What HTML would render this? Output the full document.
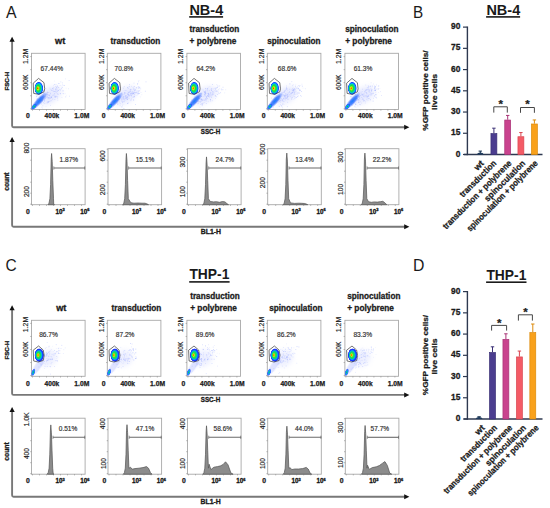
<!DOCTYPE html>
<html><head><meta charset="utf-8"><style>html,body{margin:0;padding:0;background:#fff;width:550px;height:508px;overflow:hidden}svg{display:block}</style></head>
<body><svg width="550" height="508" viewBox="0 0 550 508" font-family='"Liberation Sans", sans-serif'><defs><radialGradient id="blobA" cx="0.5" cy="0.5" r="0.5" fx="0.36" fy="0.5">
<stop offset="0" stop-color="#ff1800"/><stop offset="0.1" stop-color="#ff7000"/>
<stop offset="0.2" stop-color="#e0f000"/><stop offset="0.3" stop-color="#70f020"/>
<stop offset="0.42" stop-color="#18e040"/><stop offset="0.6" stop-color="#10d890"/>
<stop offset="0.72" stop-color="#00a8ff"/><stop offset="0.86" stop-color="#1848ff"/>
<stop offset="1" stop-color="#3050ff" stop-opacity="0"/></radialGradient><radialGradient id="blobC" cx="0.5" cy="0.5" r="0.5" fx="0.36" fy="0.5">
<stop offset="0" stop-color="#ff3000"/><stop offset="0.1" stop-color="#ff9000"/>
<stop offset="0.2" stop-color="#c0f010"/><stop offset="0.32" stop-color="#30e040"/>
<stop offset="0.5" stop-color="#10d870"/><stop offset="0.64" stop-color="#00a8f8"/>
<stop offset="0.8" stop-color="#1438ff"/><stop offset="0.92" stop-color="#1a30f0" stop-opacity="0.9"/>
<stop offset="1" stop-color="#3050ff" stop-opacity="0"/></radialGradient><radialGradient id="tail" cx="0.5" cy="0.5" r="0.5">
<stop offset="0" stop-color="#1a7cff"/><stop offset="0.5" stop-color="#2f6cff" stop-opacity="0.8"/>
<stop offset="1" stop-color="#5a84ff" stop-opacity="0"/></radialGradient><radialGradient id="corner" cx="0.5" cy="0.5" r="0.5">
<stop offset="0" stop-color="#20c040"/><stop offset="0.35" stop-color="#00b0e0"/>
<stop offset="0.7" stop-color="#2050ff" stop-opacity="0.8"/>
<stop offset="1" stop-color="#5a84ff" stop-opacity="0"/></radialGradient><filter id="bl2" x="-50%" y="-50%" width="200%" height="200%"><feGaussianBlur stdDeviation="2.5"/></filter><filter id="bl" x="-50%" y="-50%" width="200%" height="200%"><feGaussianBlur stdDeviation="0.6"/></filter></defs><rect width="550" height="508" fill="#fff"/><text x="6.0" y="17.7" font-size="16.6" font-weight="normal" fill="#1a1a1a" textLength="10.6" lengthAdjust="spacingAndGlyphs">A</text>
<text x="189.4" y="14.5" font-size="14.6" font-weight="bold" fill="#1a1a1a" textLength="33.8" lengthAdjust="spacingAndGlyphs">NB-4</text>
<rect x="189.2" y="16.1" width="33.9" height="1.6" fill="#1a1a1a" stroke="none" stroke-width="1"/>
<text x="55.0" y="43.8" font-size="8.8" font-weight="bold" fill="#1a1a1a" textLength="10.2" lengthAdjust="spacingAndGlyphs" stroke="#1a1a1a" stroke-width="0.3">wt</text>
<text x="110.6" y="43.8" font-size="8.8" font-weight="bold" fill="#1a1a1a" textLength="49.8" lengthAdjust="spacingAndGlyphs" stroke="#1a1a1a" stroke-width="0.3">transduction</text>
<text x="189.6" y="31.999999999999996" font-size="8.8" font-weight="bold" fill="#1a1a1a" textLength="49.6" lengthAdjust="spacingAndGlyphs" stroke="#1a1a1a" stroke-width="0.3">transduction</text>
<text x="189.6" y="43.8" font-size="8.8" font-weight="bold" fill="#1a1a1a" textLength="46.8" lengthAdjust="spacingAndGlyphs" stroke="#1a1a1a" stroke-width="0.3">+ polybrene</text>
<text x="267.3" y="43.8" font-size="8.8" font-weight="bold" fill="#1a1a1a" textLength="53.2" lengthAdjust="spacingAndGlyphs" stroke="#1a1a1a" stroke-width="0.3">spinoculation</text>
<text x="345.2" y="31.999999999999996" font-size="8.8" font-weight="bold" fill="#1a1a1a" textLength="53.2" lengthAdjust="spacingAndGlyphs" stroke="#1a1a1a" stroke-width="0.3">spinoculation</text>
<text x="345.2" y="43.8" font-size="8.8" font-weight="bold" fill="#1a1a1a" textLength="46.8" lengthAdjust="spacingAndGlyphs" stroke="#1a1a1a" stroke-width="0.3">+ polybrene</text>
<path d="M12.1,41.1 L12.1,125.7 Q12.1,127.2 13.6,127.2 L405.1,127.2" fill="none" stroke="#787878" stroke-width="1.9"/>
<polygon points="12.1,36.800000000000004 9.5,41.800000000000004 14.7,41.800000000000004" fill="#111"/>
<polygon points="409.40000000000003,127.2 404.20000000000005,124.7 404.20000000000005,129.7" fill="#111"/>
<rect x="31.5" y="53.3" width="53.6" height="56.2" fill="#fff" stroke="#a8a8a8" stroke-width="0.9"/>
<line x1="30.2" y1="108.8" x2="31.5" y2="108.8" stroke="#888" stroke-width="0.6"/>
<line x1="30.2" y1="95.75" x2="31.5" y2="95.75" stroke="#888" stroke-width="0.6"/>
<line x1="30.2" y1="82.7" x2="31.5" y2="82.7" stroke="#888" stroke-width="0.6"/>
<line x1="30.2" y1="69.64999999999999" x2="31.5" y2="69.64999999999999" stroke="#888" stroke-width="0.6"/>
<line x1="30.2" y1="56.599999999999994" x2="31.5" y2="56.599999999999994" stroke="#888" stroke-width="0.6"/>
<line x1="32.5" y1="109.5" x2="32.5" y2="110.7" stroke="#888" stroke-width="0.6"/>
<line x1="39.5" y1="109.5" x2="39.5" y2="110.7" stroke="#888" stroke-width="0.6"/>
<line x1="46.5" y1="109.5" x2="46.5" y2="110.7" stroke="#888" stroke-width="0.6"/>
<line x1="53.5" y1="109.5" x2="53.5" y2="110.7" stroke="#888" stroke-width="0.6"/>
<line x1="60.5" y1="109.5" x2="60.5" y2="110.7" stroke="#888" stroke-width="0.6"/>
<line x1="67.5" y1="109.5" x2="67.5" y2="110.7" stroke="#888" stroke-width="0.6"/>
<line x1="74.5" y1="109.5" x2="74.5" y2="110.7" stroke="#888" stroke-width="0.6"/>
<line x1="81.5" y1="109.5" x2="81.5" y2="110.7" stroke="#888" stroke-width="0.6"/>
<ellipse cx="49.5" cy="95.5" rx="13" ry="7.5" fill="#c4ccff" opacity="0.4" filter="url(#bl2)" transform="rotate(-30 49.5 95.5)"/>
<g><rect x="59.5" y="88.9" width="0.8" height="0.8" fill="#7a90ff" opacity="0.48"/><rect x="47.0" y="92.4" width="0.8" height="0.8" fill="#6a80ff" opacity="0.20"/><rect x="51.3" y="96.6" width="0.8" height="0.8" fill="#6a80ff" opacity="0.42"/><rect x="56.9" y="86.5" width="0.8" height="0.8" fill="#90a4ff" opacity="0.50"/><rect x="61.3" y="88.7" width="0.8" height="0.8" fill="#a8b4ff" opacity="0.22"/><rect x="48.9" y="97.3" width="0.8" height="0.8" fill="#a8b4ff" opacity="0.35"/><rect x="55.6" y="87.9" width="0.8" height="0.8" fill="#7a90ff" opacity="0.50"/><rect x="47.9" y="97.4" width="0.8" height="0.8" fill="#6a80ff" opacity="0.39"/><rect x="47.8" y="97.4" width="0.8" height="0.8" fill="#7a90ff" opacity="0.31"/><rect x="48.5" y="94.4" width="0.8" height="0.8" fill="#90a4ff" opacity="0.35"/><rect x="61.5" y="97.1" width="0.8" height="0.8" fill="#a8b4ff" opacity="0.31"/><rect x="62.7" y="90.5" width="0.8" height="0.8" fill="#6a80ff" opacity="0.36"/><rect x="55.5" y="92.5" width="0.8" height="0.8" fill="#a8b4ff" opacity="0.16"/><rect x="52.3" y="98.7" width="0.8" height="0.8" fill="#6a80ff" opacity="0.28"/><rect x="52.4" y="87.9" width="0.8" height="0.8" fill="#6a80ff" opacity="0.47"/><rect x="60.0" y="93.4" width="0.8" height="0.8" fill="#a8b4ff" opacity="0.50"/><rect x="45.5" y="88.2" width="0.8" height="0.8" fill="#7a90ff" opacity="0.17"/><rect x="49.7" y="91.9" width="0.8" height="0.8" fill="#a8b4ff" opacity="0.27"/><rect x="55.3" y="89.6" width="0.8" height="0.8" fill="#90a4ff" opacity="0.25"/><rect x="47.8" y="98.5" width="0.8" height="0.8" fill="#90a4ff" opacity="0.33"/><rect x="45.8" y="95.7" width="0.8" height="0.8" fill="#90a4ff" opacity="0.30"/><rect x="57.4" y="99.7" width="0.8" height="0.8" fill="#a8b4ff" opacity="0.36"/><rect x="43.1" y="97.6" width="0.8" height="0.8" fill="#6a80ff" opacity="0.15"/><rect x="51.2" y="97.1" width="0.8" height="0.8" fill="#90a4ff" opacity="0.43"/><rect x="50.7" y="100.3" width="0.8" height="0.8" fill="#7a90ff" opacity="0.36"/><rect x="62.7" y="93.2" width="0.8" height="0.8" fill="#90a4ff" opacity="0.38"/><rect x="50.1" y="93.2" width="0.8" height="0.8" fill="#6a80ff" opacity="0.32"/><rect x="47.5" y="97.3" width="0.8" height="0.8" fill="#90a4ff" opacity="0.18"/><rect x="49.5" y="87.7" width="0.8" height="0.8" fill="#a8b4ff" opacity="0.38"/><rect x="49.8" y="89.2" width="0.8" height="0.8" fill="#a8b4ff" opacity="0.15"/><rect x="45.6" y="106.2" width="0.8" height="0.8" fill="#a8b4ff" opacity="0.21"/><rect x="57.1" y="93.0" width="0.8" height="0.8" fill="#6a80ff" opacity="0.18"/><rect x="64.9" y="93.4" width="0.8" height="0.8" fill="#a8b4ff" opacity="0.24"/><rect x="47.5" y="101.7" width="0.8" height="0.8" fill="#a8b4ff" opacity="0.45"/><rect x="47.7" y="95.1" width="0.8" height="0.8" fill="#90a4ff" opacity="0.25"/><rect x="61.1" y="87.8" width="0.8" height="0.8" fill="#90a4ff" opacity="0.47"/><rect x="50.6" y="88.6" width="0.8" height="0.8" fill="#6a80ff" opacity="0.17"/><rect x="45.7" y="93.5" width="0.8" height="0.8" fill="#7a90ff" opacity="0.18"/><rect x="68.7" y="80.1" width="0.8" height="0.8" fill="#7a90ff" opacity="0.36"/><rect x="54.0" y="80.6" width="0.8" height="0.8" fill="#90a4ff" opacity="0.15"/><rect x="46.4" y="93.8" width="0.8" height="0.8" fill="#a8b4ff" opacity="0.33"/><rect x="50.3" y="96.7" width="0.8" height="0.8" fill="#7a90ff" opacity="0.36"/><rect x="54.6" y="95.3" width="0.8" height="0.8" fill="#6a80ff" opacity="0.15"/><rect x="57.2" y="85.5" width="0.8" height="0.8" fill="#7a90ff" opacity="0.37"/><rect x="56.1" y="95.9" width="0.8" height="0.8" fill="#90a4ff" opacity="0.40"/><rect x="43.6" y="96.6" width="0.8" height="0.8" fill="#90a4ff" opacity="0.16"/><rect x="47.9" y="101.2" width="0.8" height="0.8" fill="#a8b4ff" opacity="0.20"/><rect x="46.8" y="96.6" width="0.8" height="0.8" fill="#6a80ff" opacity="0.27"/><rect x="48.3" y="92.1" width="0.8" height="0.8" fill="#6a80ff" opacity="0.26"/><rect x="43.2" y="102.2" width="0.8" height="0.8" fill="#6a80ff" opacity="0.23"/><rect x="60.2" y="89.8" width="0.8" height="0.8" fill="#6a80ff" opacity="0.24"/><rect x="59.0" y="83.2" width="0.8" height="0.8" fill="#a8b4ff" opacity="0.35"/><rect x="46.9" y="101.7" width="0.8" height="0.8" fill="#6a80ff" opacity="0.26"/><rect x="37.1" y="98.6" width="0.8" height="0.8" fill="#6a80ff" opacity="0.44"/><rect x="65.3" y="96.5" width="0.8" height="0.8" fill="#7a90ff" opacity="0.38"/><rect x="60.4" y="81.5" width="0.8" height="0.8" fill="#90a4ff" opacity="0.39"/><rect x="38.6" y="96.5" width="0.8" height="0.8" fill="#90a4ff" opacity="0.18"/><rect x="40.8" y="103.5" width="0.8" height="0.8" fill="#7a90ff" opacity="0.43"/><rect x="41.9" y="100.3" width="0.8" height="0.8" fill="#6a80ff" opacity="0.49"/><rect x="54.6" y="96.1" width="0.8" height="0.8" fill="#a8b4ff" opacity="0.27"/><rect x="46.8" y="96.2" width="0.8" height="0.8" fill="#a8b4ff" opacity="0.37"/><rect x="45.3" y="95.5" width="0.8" height="0.8" fill="#6a80ff" opacity="0.31"/><rect x="42.9" y="90.1" width="0.8" height="0.8" fill="#7a90ff" opacity="0.40"/><rect x="51.3" y="95.8" width="0.8" height="0.8" fill="#a8b4ff" opacity="0.16"/><rect x="45.6" y="94.7" width="0.8" height="0.8" fill="#90a4ff" opacity="0.20"/><rect x="43.8" y="89.8" width="0.8" height="0.8" fill="#7a90ff" opacity="0.18"/><rect x="57.0" y="93.9" width="0.8" height="0.8" fill="#6a80ff" opacity="0.18"/><rect x="46.5" y="96.1" width="0.8" height="0.8" fill="#90a4ff" opacity="0.24"/><rect x="59.7" y="85.1" width="0.8" height="0.8" fill="#a8b4ff" opacity="0.40"/><rect x="53.4" y="86.9" width="0.8" height="0.8" fill="#7a90ff" opacity="0.31"/><rect x="49.2" y="95.5" width="0.8" height="0.8" fill="#a8b4ff" opacity="0.46"/><rect x="53.4" y="94.7" width="0.8" height="0.8" fill="#7a90ff" opacity="0.38"/><rect x="40.5" y="91.1" width="0.8" height="0.8" fill="#6a80ff" opacity="0.20"/><rect x="45.4" y="94.0" width="0.8" height="0.8" fill="#6a80ff" opacity="0.20"/><rect x="58.6" y="93.3" width="0.8" height="0.8" fill="#a8b4ff" opacity="0.22"/><rect x="54.7" y="96.4" width="0.8" height="0.8" fill="#6a80ff" opacity="0.46"/><rect x="58.1" y="83.0" width="0.8" height="0.8" fill="#7a90ff" opacity="0.38"/><rect x="55.1" y="88.9" width="0.8" height="0.8" fill="#a8b4ff" opacity="0.28"/><rect x="55.6" y="84.3" width="0.8" height="0.8" fill="#90a4ff" opacity="0.37"/><rect x="48.0" y="101.7" width="0.8" height="0.8" fill="#6a80ff" opacity="0.49"/><rect x="53.1" y="84.9" width="0.8" height="0.8" fill="#7a90ff" opacity="0.16"/><rect x="41.3" y="96.8" width="0.8" height="0.8" fill="#90a4ff" opacity="0.47"/><rect x="42.4" y="105.4" width="0.8" height="0.8" fill="#a8b4ff" opacity="0.47"/><rect x="55.0" y="89.1" width="0.8" height="0.8" fill="#7a90ff" opacity="0.19"/><rect x="55.7" y="90.8" width="0.8" height="0.8" fill="#90a4ff" opacity="0.41"/><rect x="50.2" y="104.9" width="0.8" height="0.8" fill="#6a80ff" opacity="0.23"/><rect x="57.9" y="89.9" width="0.8" height="0.8" fill="#6a80ff" opacity="0.42"/><rect x="46.8" y="92.4" width="0.8" height="0.8" fill="#6a80ff" opacity="0.26"/><rect x="62.0" y="84.4" width="0.8" height="0.8" fill="#90a4ff" opacity="0.28"/><rect x="47.3" y="101.5" width="0.8" height="0.8" fill="#a8b4ff" opacity="0.18"/><rect x="55.0" y="91.3" width="0.8" height="0.8" fill="#90a4ff" opacity="0.27"/><rect x="45.9" y="97.3" width="0.8" height="0.8" fill="#7a90ff" opacity="0.39"/><rect x="47.0" y="94.2" width="0.8" height="0.8" fill="#6a80ff" opacity="0.40"/><rect x="56.1" y="87.2" width="0.8" height="0.8" fill="#6a80ff" opacity="0.36"/><rect x="44.2" y="96.1" width="0.8" height="0.8" fill="#7a90ff" opacity="0.35"/><rect x="49.2" y="97.5" width="0.8" height="0.8" fill="#7a90ff" opacity="0.35"/><rect x="44.0" y="100.5" width="0.8" height="0.8" fill="#6a80ff" opacity="0.50"/><rect x="39.8" y="102.0" width="0.8" height="0.8" fill="#7a90ff" opacity="0.26"/><rect x="36.5" y="98.4" width="0.8" height="0.8" fill="#7a90ff" opacity="0.32"/><rect x="57.9" y="90.1" width="0.8" height="0.8" fill="#90a4ff" opacity="0.22"/><rect x="55.5" y="86.2" width="0.8" height="0.8" fill="#7a90ff" opacity="0.41"/><rect x="56.1" y="92.4" width="0.8" height="0.8" fill="#a8b4ff" opacity="0.39"/><rect x="69.2" y="95.8" width="0.8" height="0.8" fill="#90a4ff" opacity="0.37"/><rect x="43.7" y="93.5" width="0.8" height="0.8" fill="#a8b4ff" opacity="0.28"/><rect x="58.3" y="86.9" width="0.8" height="0.8" fill="#6a80ff" opacity="0.31"/><rect x="66.2" y="95.4" width="0.8" height="0.8" fill="#a8b4ff" opacity="0.19"/><rect x="48.0" y="94.6" width="0.8" height="0.8" fill="#6a80ff" opacity="0.16"/><rect x="46.5" y="93.7" width="0.8" height="0.8" fill="#90a4ff" opacity="0.38"/><rect x="44.7" y="96.7" width="0.8" height="0.8" fill="#6a80ff" opacity="0.50"/><rect x="60.2" y="93.2" width="0.8" height="0.8" fill="#a8b4ff" opacity="0.48"/><rect x="50.8" y="89.6" width="0.8" height="0.8" fill="#7a90ff" opacity="0.29"/><rect x="57.4" y="88.1" width="0.8" height="0.8" fill="#90a4ff" opacity="0.17"/><rect x="57.3" y="96.5" width="0.8" height="0.8" fill="#90a4ff" opacity="0.48"/><rect x="62.5" y="90.4" width="0.8" height="0.8" fill="#a8b4ff" opacity="0.31"/><rect x="52.9" y="89.7" width="0.8" height="0.8" fill="#a8b4ff" opacity="0.16"/><rect x="65.8" y="87.8" width="0.8" height="0.8" fill="#a8b4ff" opacity="0.23"/><rect x="54.4" y="99.2" width="0.8" height="0.8" fill="#a8b4ff" opacity="0.37"/><rect x="61.9" y="82.5" width="0.8" height="0.8" fill="#6a80ff" opacity="0.31"/><rect x="49.6" y="94.5" width="0.8" height="0.8" fill="#90a4ff" opacity="0.48"/><rect x="44.4" y="98.8" width="0.8" height="0.8" fill="#90a4ff" opacity="0.40"/><rect x="54.0" y="93.4" width="0.8" height="0.8" fill="#7a90ff" opacity="0.41"/><rect x="55.4" y="96.6" width="0.8" height="0.8" fill="#6a80ff" opacity="0.50"/><rect x="43.3" y="92.9" width="0.8" height="0.8" fill="#90a4ff" opacity="0.48"/><rect x="41.4" y="101.6" width="0.8" height="0.8" fill="#7a90ff" opacity="0.31"/><rect x="53.1" y="91.0" width="0.8" height="0.8" fill="#a8b4ff" opacity="0.46"/><rect x="36.2" y="96.3" width="0.8" height="0.8" fill="#7a90ff" opacity="0.44"/><rect x="49.1" y="95.0" width="0.8" height="0.8" fill="#90a4ff" opacity="0.49"/><rect x="41.4" y="106.7" width="0.8" height="0.8" fill="#a8b4ff" opacity="0.38"/><rect x="36.6" y="95.3" width="0.8" height="0.8" fill="#6a80ff" opacity="0.31"/><rect x="46.8" y="95.0" width="0.8" height="0.8" fill="#a8b4ff" opacity="0.49"/><rect x="62.0" y="87.1" width="0.8" height="0.8" fill="#90a4ff" opacity="0.37"/><rect x="46.7" y="102.6" width="0.8" height="0.8" fill="#7a90ff" opacity="0.34"/><rect x="52.5" y="90.5" width="0.8" height="0.8" fill="#a8b4ff" opacity="0.41"/><rect x="58.3" y="87.2" width="0.8" height="0.8" fill="#7a90ff" opacity="0.17"/><rect x="44.9" y="98.1" width="0.8" height="0.8" fill="#7a90ff" opacity="0.49"/><rect x="48.5" y="101.1" width="0.8" height="0.8" fill="#7a90ff" opacity="0.33"/><rect x="54.5" y="91.1" width="0.8" height="0.8" fill="#a8b4ff" opacity="0.30"/><rect x="50.3" y="97.8" width="0.8" height="0.8" fill="#7a90ff" opacity="0.44"/><rect x="44.2" y="98.8" width="0.8" height="0.8" fill="#90a4ff" opacity="0.44"/><rect x="44.9" y="96.5" width="0.8" height="0.8" fill="#6a80ff" opacity="0.39"/><rect x="45.4" y="94.6" width="0.8" height="0.8" fill="#7a90ff" opacity="0.21"/><rect x="68.0" y="88.4" width="0.8" height="0.8" fill="#90a4ff" opacity="0.30"/><rect x="39.3" y="99.4" width="0.8" height="0.8" fill="#7a90ff" opacity="0.49"/><rect x="56.1" y="89.3" width="0.8" height="0.8" fill="#a8b4ff" opacity="0.43"/><rect x="63.4" y="84.8" width="0.8" height="0.8" fill="#a8b4ff" opacity="0.25"/><rect x="53.1" y="88.6" width="0.8" height="0.8" fill="#7a90ff" opacity="0.21"/><rect x="42.1" y="100.4" width="0.8" height="0.8" fill="#6a80ff" opacity="0.20"/><rect x="56.9" y="89.6" width="0.8" height="0.8" fill="#6a80ff" opacity="0.18"/><rect x="43.2" y="95.1" width="0.8" height="0.8" fill="#90a4ff" opacity="0.39"/><rect x="37.3" y="99.6" width="0.8" height="0.8" fill="#7a90ff" opacity="0.45"/><rect x="44.4" y="102.9" width="0.8" height="0.8" fill="#90a4ff" opacity="0.34"/><rect x="57.2" y="97.8" width="0.8" height="0.8" fill="#a8b4ff" opacity="0.35"/><rect x="42.5" y="95.8" width="0.8" height="0.8" fill="#7a90ff" opacity="0.15"/><rect x="45.4" y="94.4" width="0.8" height="0.8" fill="#90a4ff" opacity="0.43"/><rect x="63.8" y="85.0" width="0.8" height="0.8" fill="#7a90ff" opacity="0.49"/><rect x="36.2" y="99.6" width="0.8" height="0.8" fill="#6a80ff" opacity="0.31"/><rect x="65.2" y="78.5" width="0.8" height="0.8" fill="#a8b4ff" opacity="0.33"/><rect x="51.5" y="90.2" width="0.8" height="0.8" fill="#6a80ff" opacity="0.33"/><rect x="61.6" y="85.6" width="0.8" height="0.8" fill="#a8b4ff" opacity="0.39"/><rect x="54.3" y="96.7" width="0.8" height="0.8" fill="#7a90ff" opacity="0.20"/><rect x="54.0" y="84.1" width="0.8" height="0.8" fill="#90a4ff" opacity="0.44"/><rect x="39.7" y="96.2" width="0.8" height="0.8" fill="#6a80ff" opacity="0.28"/><rect x="40.1" y="97.6" width="0.8" height="0.8" fill="#7a90ff" opacity="0.39"/><rect x="44.4" y="92.7" width="0.8" height="0.8" fill="#90a4ff" opacity="0.43"/><rect x="43.4" y="96.7" width="0.8" height="0.8" fill="#a8b4ff" opacity="0.42"/><rect x="41.7" y="98.2" width="0.8" height="0.8" fill="#7a90ff" opacity="0.20"/><rect x="47.0" y="91.4" width="0.8" height="0.8" fill="#7a90ff" opacity="0.18"/><rect x="57.0" y="90.9" width="0.8" height="0.8" fill="#90a4ff" opacity="0.43"/><rect x="48.1" y="97.5" width="0.8" height="0.8" fill="#a8b4ff" opacity="0.33"/><rect x="49.5" y="100.9" width="0.8" height="0.8" fill="#90a4ff" opacity="0.40"/><rect x="44.0" y="97.5" width="0.8" height="0.8" fill="#90a4ff" opacity="0.22"/><rect x="47.5" y="97.5" width="0.8" height="0.8" fill="#a8b4ff" opacity="0.30"/><rect x="49.1" y="98.4" width="0.8" height="0.8" fill="#6a80ff" opacity="0.21"/><rect x="52.3" y="94.9" width="0.8" height="0.8" fill="#a8b4ff" opacity="0.46"/><rect x="58.2" y="94.1" width="0.8" height="0.8" fill="#7a90ff" opacity="0.20"/><rect x="50.9" y="96.8" width="0.8" height="0.8" fill="#7a90ff" opacity="0.32"/><rect x="43.5" y="103.1" width="0.8" height="0.8" fill="#a8b4ff" opacity="0.21"/><rect x="52.2" y="88.4" width="0.8" height="0.8" fill="#a8b4ff" opacity="0.43"/><rect x="42.5" y="94.1" width="0.8" height="0.8" fill="#a8b4ff" opacity="0.47"/><rect x="43.8" y="92.2" width="0.8" height="0.8" fill="#7a90ff" opacity="0.22"/><rect x="63.4" y="93.4" width="0.8" height="0.8" fill="#a8b4ff" opacity="0.45"/><rect x="47.3" y="92.5" width="0.8" height="0.8" fill="#7a90ff" opacity="0.34"/><rect x="54.1" y="91.1" width="0.8" height="0.8" fill="#90a4ff" opacity="0.44"/><rect x="42.0" y="107.7" width="0.8" height="0.8" fill="#a8b4ff" opacity="0.33"/></g>
<ellipse cx="39.1" cy="101.1" rx="12" ry="3.4" fill="url(#tail)" transform="rotate(-48 39.1 101.1)"/>
<ellipse cx="34.1" cy="106.5" rx="4" ry="2.2" fill="url(#corner)" transform="rotate(-50 34.1 106.5)"/>
<ellipse cx="38.9" cy="88.3" rx="4.6" ry="6.8" fill="url(#blobA)"/>
<polygon points="38.6,78.4 44.0,82.7 44.7,88.8 44.0,91.8 38.8,94.3 33.7,93.4 33.2,83.2" fill="none" stroke="#3a3a3a" stroke-width="0.7"/>
<text x="40.6" y="70.9" font-size="7.6" font-weight="normal" fill="#2e2e2e" textLength="22.6" lengthAdjust="spacingAndGlyphs" stroke="#2e2e2e" stroke-width="0.18">67.44%</text>
<text x="26.0" y="118.3" font-size="6.8" font-weight="bold" fill="#1a1a1a" stroke="#1a1a1a" stroke-width="0.25">0</text>
<text x="44.6" y="118.3" font-size="6.8" font-weight="bold" fill="#1a1a1a" textLength="14.6" lengthAdjust="spacingAndGlyphs" stroke="#1a1a1a" stroke-width="0.25">400k</text>
<text x="74.3" y="118.3" font-size="6.8" font-weight="bold" fill="#1a1a1a" textLength="15.0" lengthAdjust="spacingAndGlyphs" stroke="#1a1a1a" stroke-width="0.25">1.0M</text>
<text x="27.9" y="56.3" font-size="7.0" font-weight="normal" fill="#1a1a1a" text-anchor="middle" textLength="15.4" lengthAdjust="spacingAndGlyphs" transform="rotate(-90 27.9 56.3)" stroke="#1a1a1a" stroke-width="0.12">1.2M</text>
<text x="27.9" y="82.4" font-size="7.0" font-weight="normal" fill="#1a1a1a" text-anchor="middle" textLength="15.4" lengthAdjust="spacingAndGlyphs" transform="rotate(-90 27.9 82.4)" stroke="#1a1a1a" stroke-width="0.12">600K</text>
<rect x="107.3" y="53.3" width="53.6" height="56.2" fill="#fff" stroke="#a8a8a8" stroke-width="0.9"/>
<line x1="106.0" y1="108.8" x2="107.3" y2="108.8" stroke="#888" stroke-width="0.6"/>
<line x1="106.0" y1="95.75" x2="107.3" y2="95.75" stroke="#888" stroke-width="0.6"/>
<line x1="106.0" y1="82.7" x2="107.3" y2="82.7" stroke="#888" stroke-width="0.6"/>
<line x1="106.0" y1="69.64999999999999" x2="107.3" y2="69.64999999999999" stroke="#888" stroke-width="0.6"/>
<line x1="106.0" y1="56.599999999999994" x2="107.3" y2="56.599999999999994" stroke="#888" stroke-width="0.6"/>
<line x1="108.3" y1="109.5" x2="108.3" y2="110.7" stroke="#888" stroke-width="0.6"/>
<line x1="115.3" y1="109.5" x2="115.3" y2="110.7" stroke="#888" stroke-width="0.6"/>
<line x1="122.3" y1="109.5" x2="122.3" y2="110.7" stroke="#888" stroke-width="0.6"/>
<line x1="129.3" y1="109.5" x2="129.3" y2="110.7" stroke="#888" stroke-width="0.6"/>
<line x1="136.3" y1="109.5" x2="136.3" y2="110.7" stroke="#888" stroke-width="0.6"/>
<line x1="143.3" y1="109.5" x2="143.3" y2="110.7" stroke="#888" stroke-width="0.6"/>
<line x1="150.3" y1="109.5" x2="150.3" y2="110.7" stroke="#888" stroke-width="0.6"/>
<line x1="157.3" y1="109.5" x2="157.3" y2="110.7" stroke="#888" stroke-width="0.6"/>
<ellipse cx="125.3" cy="95.5" rx="13" ry="7.5" fill="#c4ccff" opacity="0.4" filter="url(#bl2)" transform="rotate(-30 125.3 95.5)"/>
<g><rect x="122.0" y="100.9" width="0.8" height="0.8" fill="#a8b4ff" opacity="0.35"/><rect x="137.7" y="86.6" width="0.8" height="0.8" fill="#a8b4ff" opacity="0.43"/><rect x="117.5" y="96.3" width="0.8" height="0.8" fill="#90a4ff" opacity="0.19"/><rect x="124.3" y="92.7" width="0.8" height="0.8" fill="#a8b4ff" opacity="0.43"/><rect x="139.3" y="90.4" width="0.8" height="0.8" fill="#7a90ff" opacity="0.43"/><rect x="132.2" y="94.0" width="0.8" height="0.8" fill="#7a90ff" opacity="0.20"/><rect x="125.4" y="92.8" width="0.8" height="0.8" fill="#7a90ff" opacity="0.27"/><rect x="133.2" y="92.7" width="0.8" height="0.8" fill="#6a80ff" opacity="0.41"/><rect x="133.0" y="91.7" width="0.8" height="0.8" fill="#a8b4ff" opacity="0.36"/><rect x="133.0" y="99.4" width="0.8" height="0.8" fill="#7a90ff" opacity="0.18"/><rect x="123.9" y="92.9" width="0.8" height="0.8" fill="#a8b4ff" opacity="0.48"/><rect x="139.8" y="96.5" width="0.8" height="0.8" fill="#90a4ff" opacity="0.22"/><rect x="132.7" y="93.4" width="0.8" height="0.8" fill="#6a80ff" opacity="0.32"/><rect x="125.5" y="90.0" width="0.8" height="0.8" fill="#90a4ff" opacity="0.42"/><rect x="122.0" y="97.4" width="0.8" height="0.8" fill="#a8b4ff" opacity="0.23"/><rect x="124.8" y="97.7" width="0.8" height="0.8" fill="#6a80ff" opacity="0.31"/><rect x="135.2" y="104.0" width="0.8" height="0.8" fill="#90a4ff" opacity="0.47"/><rect x="133.7" y="96.3" width="0.8" height="0.8" fill="#6a80ff" opacity="0.50"/><rect x="122.4" y="96.4" width="0.8" height="0.8" fill="#7a90ff" opacity="0.26"/><rect x="137.7" y="93.1" width="0.8" height="0.8" fill="#7a90ff" opacity="0.44"/><rect x="126.8" y="96.9" width="0.8" height="0.8" fill="#6a80ff" opacity="0.36"/><rect x="123.3" y="96.3" width="0.8" height="0.8" fill="#90a4ff" opacity="0.34"/><rect x="128.6" y="95.7" width="0.8" height="0.8" fill="#6a80ff" opacity="0.24"/><rect x="138.5" y="80.1" width="0.8" height="0.8" fill="#90a4ff" opacity="0.25"/><rect x="121.6" y="98.5" width="0.8" height="0.8" fill="#90a4ff" opacity="0.25"/><rect x="123.3" y="96.1" width="0.8" height="0.8" fill="#90a4ff" opacity="0.25"/><rect x="114.3" y="101.1" width="0.8" height="0.8" fill="#7a90ff" opacity="0.16"/><rect x="128.2" y="94.4" width="0.8" height="0.8" fill="#a8b4ff" opacity="0.37"/><rect x="128.8" y="86.3" width="0.8" height="0.8" fill="#7a90ff" opacity="0.47"/><rect x="133.8" y="92.5" width="0.8" height="0.8" fill="#6a80ff" opacity="0.49"/><rect x="116.8" y="102.3" width="0.8" height="0.8" fill="#90a4ff" opacity="0.35"/><rect x="122.0" y="94.7" width="0.8" height="0.8" fill="#7a90ff" opacity="0.22"/><rect x="120.2" y="96.6" width="0.8" height="0.8" fill="#6a80ff" opacity="0.38"/><rect x="136.0" y="87.2" width="0.8" height="0.8" fill="#6a80ff" opacity="0.28"/><rect x="118.8" y="101.6" width="0.8" height="0.8" fill="#6a80ff" opacity="0.27"/><rect x="122.2" y="101.7" width="0.8" height="0.8" fill="#a8b4ff" opacity="0.38"/><rect x="123.3" y="101.2" width="0.8" height="0.8" fill="#a8b4ff" opacity="0.19"/><rect x="127.1" y="98.2" width="0.8" height="0.8" fill="#7a90ff" opacity="0.28"/><rect x="119.1" y="99.3" width="0.8" height="0.8" fill="#7a90ff" opacity="0.23"/><rect x="129.2" y="84.3" width="0.8" height="0.8" fill="#6a80ff" opacity="0.33"/><rect x="130.7" y="95.0" width="0.8" height="0.8" fill="#6a80ff" opacity="0.49"/><rect x="119.4" y="99.3" width="0.8" height="0.8" fill="#90a4ff" opacity="0.17"/><rect x="136.6" y="92.0" width="0.8" height="0.8" fill="#90a4ff" opacity="0.41"/><rect x="135.8" y="87.6" width="0.8" height="0.8" fill="#7a90ff" opacity="0.36"/><rect x="122.8" y="94.4" width="0.8" height="0.8" fill="#a8b4ff" opacity="0.49"/><rect x="132.7" y="87.0" width="0.8" height="0.8" fill="#90a4ff" opacity="0.31"/><rect x="118.0" y="93.4" width="0.8" height="0.8" fill="#7a90ff" opacity="0.20"/><rect x="126.0" y="97.0" width="0.8" height="0.8" fill="#7a90ff" opacity="0.28"/><rect x="122.5" y="87.5" width="0.8" height="0.8" fill="#a8b4ff" opacity="0.25"/><rect x="137.3" y="83.3" width="0.8" height="0.8" fill="#90a4ff" opacity="0.39"/><rect x="132.8" y="93.0" width="0.8" height="0.8" fill="#6a80ff" opacity="0.48"/><rect x="121.9" y="103.7" width="0.8" height="0.8" fill="#a8b4ff" opacity="0.23"/><rect x="116.8" y="94.2" width="0.8" height="0.8" fill="#90a4ff" opacity="0.20"/><rect x="145.6" y="81.5" width="0.8" height="0.8" fill="#7a90ff" opacity="0.41"/><rect x="127.3" y="96.2" width="0.8" height="0.8" fill="#a8b4ff" opacity="0.48"/><rect x="123.8" y="95.7" width="0.8" height="0.8" fill="#a8b4ff" opacity="0.36"/><rect x="134.5" y="90.4" width="0.8" height="0.8" fill="#6a80ff" opacity="0.21"/><rect x="129.3" y="91.9" width="0.8" height="0.8" fill="#7a90ff" opacity="0.38"/><rect x="139.4" y="86.9" width="0.8" height="0.8" fill="#7a90ff" opacity="0.29"/><rect x="123.7" y="90.1" width="0.8" height="0.8" fill="#a8b4ff" opacity="0.25"/><rect x="138.6" y="93.0" width="0.8" height="0.8" fill="#90a4ff" opacity="0.41"/><rect x="131.1" y="98.5" width="0.8" height="0.8" fill="#a8b4ff" opacity="0.45"/><rect x="121.5" y="106.5" width="0.8" height="0.8" fill="#6a80ff" opacity="0.49"/><rect x="136.3" y="91.7" width="0.8" height="0.8" fill="#6a80ff" opacity="0.34"/><rect x="132.1" y="91.4" width="0.8" height="0.8" fill="#90a4ff" opacity="0.35"/><rect x="134.8" y="89.4" width="0.8" height="0.8" fill="#90a4ff" opacity="0.16"/><rect x="135.1" y="92.4" width="0.8" height="0.8" fill="#90a4ff" opacity="0.35"/><rect x="134.6" y="92.2" width="0.8" height="0.8" fill="#7a90ff" opacity="0.37"/><rect x="118.0" y="92.6" width="0.8" height="0.8" fill="#7a90ff" opacity="0.46"/><rect x="133.3" y="99.7" width="0.8" height="0.8" fill="#7a90ff" opacity="0.42"/><rect x="123.4" y="103.9" width="0.8" height="0.8" fill="#a8b4ff" opacity="0.16"/><rect x="134.1" y="96.3" width="0.8" height="0.8" fill="#6a80ff" opacity="0.19"/><rect x="121.3" y="100.7" width="0.8" height="0.8" fill="#90a4ff" opacity="0.40"/><rect x="123.3" y="98.0" width="0.8" height="0.8" fill="#6a80ff" opacity="0.26"/><rect x="131.0" y="85.9" width="0.8" height="0.8" fill="#6a80ff" opacity="0.22"/><rect x="135.5" y="90.2" width="0.8" height="0.8" fill="#90a4ff" opacity="0.22"/><rect x="123.8" y="86.3" width="0.8" height="0.8" fill="#90a4ff" opacity="0.44"/><rect x="127.7" y="95.0" width="0.8" height="0.8" fill="#6a80ff" opacity="0.18"/><rect x="125.6" y="97.0" width="0.8" height="0.8" fill="#7a90ff" opacity="0.33"/><rect x="127.7" y="91.5" width="0.8" height="0.8" fill="#a8b4ff" opacity="0.44"/><rect x="121.3" y="93.4" width="0.8" height="0.8" fill="#7a90ff" opacity="0.42"/><rect x="129.5" y="88.9" width="0.8" height="0.8" fill="#a8b4ff" opacity="0.26"/><rect x="130.5" y="99.7" width="0.8" height="0.8" fill="#7a90ff" opacity="0.44"/><rect x="134.5" y="94.8" width="0.8" height="0.8" fill="#a8b4ff" opacity="0.38"/><rect x="120.7" y="92.6" width="0.8" height="0.8" fill="#a8b4ff" opacity="0.27"/><rect x="118.1" y="99.0" width="0.8" height="0.8" fill="#a8b4ff" opacity="0.36"/><rect x="135.0" y="89.3" width="0.8" height="0.8" fill="#7a90ff" opacity="0.32"/><rect x="140.6" y="92.1" width="0.8" height="0.8" fill="#90a4ff" opacity="0.26"/><rect x="138.1" y="81.4" width="0.8" height="0.8" fill="#a8b4ff" opacity="0.42"/><rect x="127.8" y="102.6" width="0.8" height="0.8" fill="#7a90ff" opacity="0.39"/><rect x="134.2" y="90.4" width="0.8" height="0.8" fill="#7a90ff" opacity="0.37"/><rect x="127.3" y="96.8" width="0.8" height="0.8" fill="#6a80ff" opacity="0.39"/><rect x="131.5" y="96.5" width="0.8" height="0.8" fill="#90a4ff" opacity="0.19"/><rect x="123.5" y="108.2" width="0.8" height="0.8" fill="#7a90ff" opacity="0.43"/><rect x="135.6" y="92.5" width="0.8" height="0.8" fill="#a8b4ff" opacity="0.46"/><rect x="133.4" y="88.6" width="0.8" height="0.8" fill="#6a80ff" opacity="0.50"/><rect x="128.6" y="97.9" width="0.8" height="0.8" fill="#6a80ff" opacity="0.26"/><rect x="119.4" y="89.5" width="0.8" height="0.8" fill="#90a4ff" opacity="0.41"/><rect x="131.3" y="89.3" width="0.8" height="0.8" fill="#90a4ff" opacity="0.19"/><rect x="114.7" y="97.2" width="0.8" height="0.8" fill="#a8b4ff" opacity="0.23"/><rect x="138.0" y="92.4" width="0.8" height="0.8" fill="#90a4ff" opacity="0.30"/><rect x="121.5" y="98.1" width="0.8" height="0.8" fill="#7a90ff" opacity="0.30"/><rect x="141.4" y="94.4" width="0.8" height="0.8" fill="#90a4ff" opacity="0.24"/><rect x="128.8" y="95.3" width="0.8" height="0.8" fill="#90a4ff" opacity="0.41"/><rect x="137.2" y="83.7" width="0.8" height="0.8" fill="#6a80ff" opacity="0.35"/><rect x="138.3" y="91.2" width="0.8" height="0.8" fill="#90a4ff" opacity="0.18"/><rect x="117.4" y="104.0" width="0.8" height="0.8" fill="#6a80ff" opacity="0.34"/><rect x="119.7" y="88.9" width="0.8" height="0.8" fill="#7a90ff" opacity="0.17"/><rect x="130.4" y="93.3" width="0.8" height="0.8" fill="#90a4ff" opacity="0.50"/><rect x="127.4" y="87.6" width="0.8" height="0.8" fill="#90a4ff" opacity="0.33"/><rect x="131.7" y="92.5" width="0.8" height="0.8" fill="#7a90ff" opacity="0.39"/><rect x="125.6" y="97.8" width="0.8" height="0.8" fill="#7a90ff" opacity="0.50"/><rect x="123.0" y="101.4" width="0.8" height="0.8" fill="#90a4ff" opacity="0.27"/><rect x="127.2" y="87.2" width="0.8" height="0.8" fill="#90a4ff" opacity="0.47"/><rect x="118.2" y="96.6" width="0.8" height="0.8" fill="#a8b4ff" opacity="0.50"/><rect x="127.0" y="103.2" width="0.8" height="0.8" fill="#6a80ff" opacity="0.45"/><rect x="139.3" y="87.4" width="0.8" height="0.8" fill="#90a4ff" opacity="0.49"/><rect x="137.9" y="90.6" width="0.8" height="0.8" fill="#6a80ff" opacity="0.47"/><rect x="118.7" y="98.5" width="0.8" height="0.8" fill="#a8b4ff" opacity="0.26"/><rect x="120.9" y="96.7" width="0.8" height="0.8" fill="#a8b4ff" opacity="0.43"/><rect x="127.4" y="94.2" width="0.8" height="0.8" fill="#90a4ff" opacity="0.32"/><rect x="137.9" y="87.8" width="0.8" height="0.8" fill="#90a4ff" opacity="0.50"/><rect x="123.6" y="97.8" width="0.8" height="0.8" fill="#90a4ff" opacity="0.39"/><rect x="144.9" y="90.8" width="0.8" height="0.8" fill="#7a90ff" opacity="0.42"/><rect x="127.1" y="99.2" width="0.8" height="0.8" fill="#6a80ff" opacity="0.21"/><rect x="117.4" y="103.1" width="0.8" height="0.8" fill="#6a80ff" opacity="0.25"/><rect x="131.2" y="95.5" width="0.8" height="0.8" fill="#a8b4ff" opacity="0.33"/><rect x="117.2" y="93.7" width="0.8" height="0.8" fill="#7a90ff" opacity="0.20"/><rect x="136.5" y="95.0" width="0.8" height="0.8" fill="#a8b4ff" opacity="0.28"/><rect x="125.9" y="98.3" width="0.8" height="0.8" fill="#7a90ff" opacity="0.34"/><rect x="115.8" y="99.0" width="0.8" height="0.8" fill="#a8b4ff" opacity="0.36"/><rect x="124.5" y="99.8" width="0.8" height="0.8" fill="#90a4ff" opacity="0.41"/><rect x="125.3" y="95.6" width="0.8" height="0.8" fill="#7a90ff" opacity="0.37"/><rect x="138.9" y="93.1" width="0.8" height="0.8" fill="#90a4ff" opacity="0.44"/><rect x="137.6" y="93.7" width="0.8" height="0.8" fill="#7a90ff" opacity="0.43"/><rect x="132.7" y="97.1" width="0.8" height="0.8" fill="#90a4ff" opacity="0.37"/><rect x="130.7" y="93.4" width="0.8" height="0.8" fill="#90a4ff" opacity="0.45"/><rect x="111.6" y="96.8" width="0.8" height="0.8" fill="#90a4ff" opacity="0.26"/><rect x="133.8" y="86.0" width="0.8" height="0.8" fill="#6a80ff" opacity="0.43"/><rect x="137.0" y="90.7" width="0.8" height="0.8" fill="#7a90ff" opacity="0.22"/><rect x="117.2" y="100.8" width="0.8" height="0.8" fill="#6a80ff" opacity="0.24"/><rect x="125.0" y="95.5" width="0.8" height="0.8" fill="#6a80ff" opacity="0.24"/><rect x="115.8" y="99.8" width="0.8" height="0.8" fill="#a8b4ff" opacity="0.36"/><rect x="122.1" y="102.0" width="0.8" height="0.8" fill="#90a4ff" opacity="0.28"/><rect x="129.6" y="91.4" width="0.8" height="0.8" fill="#6a80ff" opacity="0.31"/><rect x="126.8" y="99.0" width="0.8" height="0.8" fill="#7a90ff" opacity="0.50"/><rect x="124.1" y="101.3" width="0.8" height="0.8" fill="#a8b4ff" opacity="0.43"/><rect x="117.7" y="91.3" width="0.8" height="0.8" fill="#6a80ff" opacity="0.45"/><rect x="124.1" y="93.8" width="0.8" height="0.8" fill="#a8b4ff" opacity="0.43"/><rect x="116.0" y="95.5" width="0.8" height="0.8" fill="#7a90ff" opacity="0.41"/><rect x="138.4" y="86.5" width="0.8" height="0.8" fill="#7a90ff" opacity="0.43"/><rect x="117.9" y="99.0" width="0.8" height="0.8" fill="#a8b4ff" opacity="0.45"/><rect x="131.5" y="91.7" width="0.8" height="0.8" fill="#90a4ff" opacity="0.43"/><rect x="122.2" y="105.2" width="0.8" height="0.8" fill="#7a90ff" opacity="0.16"/><rect x="130.3" y="89.2" width="0.8" height="0.8" fill="#6a80ff" opacity="0.32"/><rect x="123.0" y="87.8" width="0.8" height="0.8" fill="#7a90ff" opacity="0.24"/><rect x="122.8" y="97.1" width="0.8" height="0.8" fill="#7a90ff" opacity="0.45"/><rect x="128.1" y="92.4" width="0.8" height="0.8" fill="#6a80ff" opacity="0.47"/><rect x="125.4" y="95.8" width="0.8" height="0.8" fill="#90a4ff" opacity="0.50"/><rect x="121.2" y="99.4" width="0.8" height="0.8" fill="#6a80ff" opacity="0.26"/><rect x="122.6" y="99.5" width="0.8" height="0.8" fill="#a8b4ff" opacity="0.46"/><rect x="124.3" y="99.2" width="0.8" height="0.8" fill="#a8b4ff" opacity="0.41"/><rect x="133.6" y="96.5" width="0.8" height="0.8" fill="#6a80ff" opacity="0.22"/><rect x="128.6" y="94.6" width="0.8" height="0.8" fill="#7a90ff" opacity="0.48"/><rect x="139.6" y="88.0" width="0.8" height="0.8" fill="#90a4ff" opacity="0.21"/><rect x="119.3" y="98.2" width="0.8" height="0.8" fill="#7a90ff" opacity="0.42"/><rect x="126.0" y="95.5" width="0.8" height="0.8" fill="#7a90ff" opacity="0.34"/><rect x="130.0" y="89.5" width="0.8" height="0.8" fill="#90a4ff" opacity="0.28"/><rect x="119.8" y="97.3" width="0.8" height="0.8" fill="#6a80ff" opacity="0.21"/><rect x="115.6" y="99.1" width="0.8" height="0.8" fill="#6a80ff" opacity="0.39"/><rect x="114.9" y="93.9" width="0.8" height="0.8" fill="#a8b4ff" opacity="0.50"/><rect x="124.4" y="92.2" width="0.8" height="0.8" fill="#6a80ff" opacity="0.36"/><rect x="119.8" y="103.4" width="0.8" height="0.8" fill="#90a4ff" opacity="0.40"/><rect x="122.8" y="98.8" width="0.8" height="0.8" fill="#6a80ff" opacity="0.26"/><rect x="128.1" y="87.9" width="0.8" height="0.8" fill="#90a4ff" opacity="0.29"/><rect x="127.4" y="93.9" width="0.8" height="0.8" fill="#7a90ff" opacity="0.38"/><rect x="130.5" y="93.7" width="0.8" height="0.8" fill="#6a80ff" opacity="0.46"/><rect x="119.7" y="105.4" width="0.8" height="0.8" fill="#6a80ff" opacity="0.24"/><rect x="133.7" y="87.7" width="0.8" height="0.8" fill="#90a4ff" opacity="0.15"/><rect x="131.7" y="93.2" width="0.8" height="0.8" fill="#6a80ff" opacity="0.43"/><rect x="133.9" y="94.0" width="0.8" height="0.8" fill="#90a4ff" opacity="0.36"/><rect x="127.1" y="93.1" width="0.8" height="0.8" fill="#a8b4ff" opacity="0.45"/><rect x="129.8" y="90.7" width="0.8" height="0.8" fill="#6a80ff" opacity="0.45"/><rect x="140.3" y="88.6" width="0.8" height="0.8" fill="#90a4ff" opacity="0.23"/><rect x="136.7" y="92.9" width="0.8" height="0.8" fill="#a8b4ff" opacity="0.34"/><rect x="118.5" y="97.7" width="0.8" height="0.8" fill="#90a4ff" opacity="0.23"/><rect x="133.9" y="89.4" width="0.8" height="0.8" fill="#a8b4ff" opacity="0.43"/><rect x="121.8" y="96.3" width="0.8" height="0.8" fill="#a8b4ff" opacity="0.20"/><rect x="133.6" y="82.7" width="0.8" height="0.8" fill="#90a4ff" opacity="0.42"/><rect x="128.1" y="93.8" width="0.8" height="0.8" fill="#90a4ff" opacity="0.44"/></g>
<ellipse cx="114.89999999999999" cy="101.1" rx="12" ry="3.4" fill="url(#tail)" transform="rotate(-48 114.89999999999999 101.1)"/>
<ellipse cx="109.89999999999999" cy="106.5" rx="4" ry="2.2" fill="url(#corner)" transform="rotate(-50 109.89999999999999 106.5)"/>
<ellipse cx="114.7" cy="88.3" rx="4.6" ry="6.8" fill="url(#blobA)"/>
<polygon points="114.4,78.4 119.8,82.7 120.5,88.8 119.8,91.8 114.6,94.3 109.5,93.4 109.0,83.2" fill="none" stroke="#3a3a3a" stroke-width="0.7"/>
<text x="114.5" y="70.9" font-size="7.6" font-weight="normal" fill="#2e2e2e" textLength="18.7" lengthAdjust="spacingAndGlyphs" stroke="#2e2e2e" stroke-width="0.18">70.8%</text>
<text x="101.8" y="118.3" font-size="6.8" font-weight="bold" fill="#1a1a1a" stroke="#1a1a1a" stroke-width="0.25">0</text>
<text x="120.39999999999999" y="118.3" font-size="6.8" font-weight="bold" fill="#1a1a1a" textLength="14.6" lengthAdjust="spacingAndGlyphs" stroke="#1a1a1a" stroke-width="0.25">400k</text>
<text x="150.1" y="118.3" font-size="6.8" font-weight="bold" fill="#1a1a1a" textLength="15.0" lengthAdjust="spacingAndGlyphs" stroke="#1a1a1a" stroke-width="0.25">1.0M</text>
<text x="103.7" y="56.3" font-size="7.0" font-weight="normal" fill="#1a1a1a" text-anchor="middle" textLength="15.4" lengthAdjust="spacingAndGlyphs" transform="rotate(-90 103.7 56.3)" stroke="#1a1a1a" stroke-width="0.12">1.2M</text>
<text x="103.7" y="82.4" font-size="7.0" font-weight="normal" fill="#1a1a1a" text-anchor="middle" textLength="15.4" lengthAdjust="spacingAndGlyphs" transform="rotate(-90 103.7 82.4)" stroke="#1a1a1a" stroke-width="0.12">600K</text>
<rect x="186.9" y="53.3" width="53.6" height="56.2" fill="#fff" stroke="#a8a8a8" stroke-width="0.9"/>
<line x1="185.6" y1="108.8" x2="186.9" y2="108.8" stroke="#888" stroke-width="0.6"/>
<line x1="185.6" y1="95.75" x2="186.9" y2="95.75" stroke="#888" stroke-width="0.6"/>
<line x1="185.6" y1="82.7" x2="186.9" y2="82.7" stroke="#888" stroke-width="0.6"/>
<line x1="185.6" y1="69.64999999999999" x2="186.9" y2="69.64999999999999" stroke="#888" stroke-width="0.6"/>
<line x1="185.6" y1="56.599999999999994" x2="186.9" y2="56.599999999999994" stroke="#888" stroke-width="0.6"/>
<line x1="187.9" y1="109.5" x2="187.9" y2="110.7" stroke="#888" stroke-width="0.6"/>
<line x1="194.9" y1="109.5" x2="194.9" y2="110.7" stroke="#888" stroke-width="0.6"/>
<line x1="201.9" y1="109.5" x2="201.9" y2="110.7" stroke="#888" stroke-width="0.6"/>
<line x1="208.9" y1="109.5" x2="208.9" y2="110.7" stroke="#888" stroke-width="0.6"/>
<line x1="215.9" y1="109.5" x2="215.9" y2="110.7" stroke="#888" stroke-width="0.6"/>
<line x1="222.9" y1="109.5" x2="222.9" y2="110.7" stroke="#888" stroke-width="0.6"/>
<line x1="229.9" y1="109.5" x2="229.9" y2="110.7" stroke="#888" stroke-width="0.6"/>
<line x1="236.9" y1="109.5" x2="236.9" y2="110.7" stroke="#888" stroke-width="0.6"/>
<ellipse cx="204.9" cy="95.5" rx="13" ry="7.5" fill="#c4ccff" opacity="0.4" filter="url(#bl2)" transform="rotate(-30 204.9 95.5)"/>
<g><rect x="200.3" y="101.1" width="0.8" height="0.8" fill="#90a4ff" opacity="0.42"/><rect x="198.5" y="101.7" width="0.8" height="0.8" fill="#7a90ff" opacity="0.33"/><rect x="197.8" y="100.6" width="0.8" height="0.8" fill="#90a4ff" opacity="0.29"/><rect x="203.4" y="96.1" width="0.8" height="0.8" fill="#7a90ff" opacity="0.17"/><rect x="210.0" y="99.2" width="0.8" height="0.8" fill="#6a80ff" opacity="0.49"/><rect x="195.5" y="101.7" width="0.8" height="0.8" fill="#6a80ff" opacity="0.35"/><rect x="217.8" y="92.6" width="0.8" height="0.8" fill="#7a90ff" opacity="0.35"/><rect x="215.8" y="96.3" width="0.8" height="0.8" fill="#90a4ff" opacity="0.44"/><rect x="214.7" y="88.0" width="0.8" height="0.8" fill="#90a4ff" opacity="0.32"/><rect x="200.1" y="99.6" width="0.8" height="0.8" fill="#a8b4ff" opacity="0.34"/><rect x="202.0" y="100.3" width="0.8" height="0.8" fill="#90a4ff" opacity="0.18"/><rect x="221.4" y="89.6" width="0.8" height="0.8" fill="#7a90ff" opacity="0.25"/><rect x="200.9" y="99.4" width="0.8" height="0.8" fill="#6a80ff" opacity="0.28"/><rect x="204.4" y="91.2" width="0.8" height="0.8" fill="#6a80ff" opacity="0.28"/><rect x="212.8" y="94.1" width="0.8" height="0.8" fill="#7a90ff" opacity="0.25"/><rect x="222.5" y="89.3" width="0.8" height="0.8" fill="#7a90ff" opacity="0.39"/><rect x="194.6" y="102.0" width="0.8" height="0.8" fill="#7a90ff" opacity="0.46"/><rect x="205.0" y="98.1" width="0.8" height="0.8" fill="#90a4ff" opacity="0.23"/><rect x="205.0" y="91.4" width="0.8" height="0.8" fill="#90a4ff" opacity="0.47"/><rect x="212.2" y="100.4" width="0.8" height="0.8" fill="#6a80ff" opacity="0.21"/><rect x="205.5" y="98.5" width="0.8" height="0.8" fill="#7a90ff" opacity="0.34"/><rect x="197.8" y="100.7" width="0.8" height="0.8" fill="#6a80ff" opacity="0.44"/><rect x="205.6" y="99.3" width="0.8" height="0.8" fill="#a8b4ff" opacity="0.42"/><rect x="212.3" y="92.7" width="0.8" height="0.8" fill="#6a80ff" opacity="0.39"/><rect x="206.0" y="97.1" width="0.8" height="0.8" fill="#90a4ff" opacity="0.31"/><rect x="200.6" y="98.0" width="0.8" height="0.8" fill="#7a90ff" opacity="0.18"/><rect x="208.3" y="93.5" width="0.8" height="0.8" fill="#a8b4ff" opacity="0.25"/><rect x="207.3" y="88.0" width="0.8" height="0.8" fill="#7a90ff" opacity="0.28"/><rect x="209.5" y="86.2" width="0.8" height="0.8" fill="#a8b4ff" opacity="0.26"/><rect x="211.9" y="94.5" width="0.8" height="0.8" fill="#7a90ff" opacity="0.30"/><rect x="205.2" y="92.9" width="0.8" height="0.8" fill="#90a4ff" opacity="0.30"/><rect x="219.0" y="87.9" width="0.8" height="0.8" fill="#a8b4ff" opacity="0.23"/><rect x="201.1" y="93.7" width="0.8" height="0.8" fill="#a8b4ff" opacity="0.37"/><rect x="196.4" y="97.4" width="0.8" height="0.8" fill="#6a80ff" opacity="0.37"/><rect x="203.4" y="91.2" width="0.8" height="0.8" fill="#a8b4ff" opacity="0.30"/><rect x="196.5" y="98.1" width="0.8" height="0.8" fill="#a8b4ff" opacity="0.28"/><rect x="208.4" y="94.9" width="0.8" height="0.8" fill="#6a80ff" opacity="0.24"/><rect x="210.3" y="100.5" width="0.8" height="0.8" fill="#7a90ff" opacity="0.43"/><rect x="210.7" y="94.8" width="0.8" height="0.8" fill="#6a80ff" opacity="0.27"/><rect x="215.2" y="98.0" width="0.8" height="0.8" fill="#a8b4ff" opacity="0.32"/><rect x="214.8" y="87.7" width="0.8" height="0.8" fill="#6a80ff" opacity="0.35"/><rect x="193.9" y="101.7" width="0.8" height="0.8" fill="#a8b4ff" opacity="0.38"/><rect x="215.1" y="95.5" width="0.8" height="0.8" fill="#90a4ff" opacity="0.29"/><rect x="215.9" y="93.6" width="0.8" height="0.8" fill="#a8b4ff" opacity="0.16"/><rect x="207.2" y="88.6" width="0.8" height="0.8" fill="#90a4ff" opacity="0.43"/><rect x="199.9" y="97.6" width="0.8" height="0.8" fill="#a8b4ff" opacity="0.33"/><rect x="204.7" y="93.5" width="0.8" height="0.8" fill="#a8b4ff" opacity="0.35"/><rect x="208.1" y="96.2" width="0.8" height="0.8" fill="#7a90ff" opacity="0.32"/><rect x="199.4" y="93.5" width="0.8" height="0.8" fill="#a8b4ff" opacity="0.33"/><rect x="210.0" y="92.9" width="0.8" height="0.8" fill="#7a90ff" opacity="0.29"/><rect x="202.7" y="102.3" width="0.8" height="0.8" fill="#a8b4ff" opacity="0.18"/><rect x="198.5" y="92.9" width="0.8" height="0.8" fill="#90a4ff" opacity="0.42"/><rect x="197.4" y="98.3" width="0.8" height="0.8" fill="#90a4ff" opacity="0.21"/><rect x="200.1" y="104.1" width="0.8" height="0.8" fill="#a8b4ff" opacity="0.43"/><rect x="207.9" y="86.8" width="0.8" height="0.8" fill="#a8b4ff" opacity="0.20"/><rect x="204.4" y="102.3" width="0.8" height="0.8" fill="#90a4ff" opacity="0.24"/><rect x="202.4" y="99.7" width="0.8" height="0.8" fill="#90a4ff" opacity="0.25"/><rect x="210.5" y="92.1" width="0.8" height="0.8" fill="#90a4ff" opacity="0.26"/><rect x="220.9" y="88.7" width="0.8" height="0.8" fill="#90a4ff" opacity="0.49"/><rect x="203.7" y="101.9" width="0.8" height="0.8" fill="#a8b4ff" opacity="0.20"/><rect x="204.8" y="92.9" width="0.8" height="0.8" fill="#90a4ff" opacity="0.24"/><rect x="201.2" y="101.1" width="0.8" height="0.8" fill="#a8b4ff" opacity="0.21"/><rect x="202.6" y="103.1" width="0.8" height="0.8" fill="#a8b4ff" opacity="0.47"/><rect x="211.3" y="88.1" width="0.8" height="0.8" fill="#90a4ff" opacity="0.45"/><rect x="216.6" y="87.0" width="0.8" height="0.8" fill="#7a90ff" opacity="0.45"/><rect x="198.3" y="98.3" width="0.8" height="0.8" fill="#90a4ff" opacity="0.33"/><rect x="216.4" y="84.3" width="0.8" height="0.8" fill="#7a90ff" opacity="0.23"/><rect x="191.2" y="102.7" width="0.8" height="0.8" fill="#6a80ff" opacity="0.49"/><rect x="201.3" y="99.7" width="0.8" height="0.8" fill="#90a4ff" opacity="0.33"/><rect x="224.3" y="92.5" width="0.8" height="0.8" fill="#7a90ff" opacity="0.22"/><rect x="218.6" y="85.7" width="0.8" height="0.8" fill="#7a90ff" opacity="0.41"/><rect x="199.5" y="89.9" width="0.8" height="0.8" fill="#7a90ff" opacity="0.43"/><rect x="206.9" y="98.1" width="0.8" height="0.8" fill="#6a80ff" opacity="0.33"/><rect x="219.4" y="85.3" width="0.8" height="0.8" fill="#90a4ff" opacity="0.20"/><rect x="217.0" y="85.6" width="0.8" height="0.8" fill="#90a4ff" opacity="0.41"/><rect x="201.4" y="95.7" width="0.8" height="0.8" fill="#a8b4ff" opacity="0.32"/><rect x="199.4" y="100.9" width="0.8" height="0.8" fill="#90a4ff" opacity="0.45"/><rect x="204.9" y="93.0" width="0.8" height="0.8" fill="#7a90ff" opacity="0.29"/><rect x="206.0" y="96.1" width="0.8" height="0.8" fill="#6a80ff" opacity="0.26"/><rect x="217.4" y="90.4" width="0.8" height="0.8" fill="#90a4ff" opacity="0.25"/><rect x="211.6" y="93.6" width="0.8" height="0.8" fill="#a8b4ff" opacity="0.22"/><rect x="201.5" y="88.7" width="0.8" height="0.8" fill="#90a4ff" opacity="0.29"/><rect x="214.3" y="90.3" width="0.8" height="0.8" fill="#a8b4ff" opacity="0.29"/><rect x="204.4" y="94.4" width="0.8" height="0.8" fill="#6a80ff" opacity="0.36"/><rect x="200.1" y="102.3" width="0.8" height="0.8" fill="#7a90ff" opacity="0.29"/><rect x="207.8" y="95.1" width="0.8" height="0.8" fill="#6a80ff" opacity="0.27"/><rect x="198.9" y="98.2" width="0.8" height="0.8" fill="#6a80ff" opacity="0.47"/><rect x="199.3" y="98.3" width="0.8" height="0.8" fill="#90a4ff" opacity="0.49"/><rect x="197.1" y="100.6" width="0.8" height="0.8" fill="#a8b4ff" opacity="0.22"/><rect x="193.7" y="101.7" width="0.8" height="0.8" fill="#a8b4ff" opacity="0.24"/><rect x="200.3" y="95.7" width="0.8" height="0.8" fill="#90a4ff" opacity="0.43"/><rect x="201.1" y="93.1" width="0.8" height="0.8" fill="#a8b4ff" opacity="0.47"/><rect x="208.0" y="92.9" width="0.8" height="0.8" fill="#7a90ff" opacity="0.42"/><rect x="206.1" y="97.5" width="0.8" height="0.8" fill="#90a4ff" opacity="0.20"/><rect x="200.7" y="96.2" width="0.8" height="0.8" fill="#a8b4ff" opacity="0.38"/><rect x="212.6" y="90.9" width="0.8" height="0.8" fill="#90a4ff" opacity="0.36"/><rect x="205.2" y="94.5" width="0.8" height="0.8" fill="#90a4ff" opacity="0.17"/><rect x="204.6" y="92.5" width="0.8" height="0.8" fill="#6a80ff" opacity="0.45"/><rect x="210.3" y="92.1" width="0.8" height="0.8" fill="#7a90ff" opacity="0.18"/><rect x="205.3" y="91.9" width="0.8" height="0.8" fill="#90a4ff" opacity="0.34"/><rect x="216.1" y="90.7" width="0.8" height="0.8" fill="#7a90ff" opacity="0.49"/><rect x="198.5" y="97.4" width="0.8" height="0.8" fill="#7a90ff" opacity="0.37"/><rect x="195.4" y="102.5" width="0.8" height="0.8" fill="#7a90ff" opacity="0.30"/><rect x="207.3" y="96.1" width="0.8" height="0.8" fill="#7a90ff" opacity="0.30"/><rect x="206.0" y="100.5" width="0.8" height="0.8" fill="#7a90ff" opacity="0.16"/><rect x="208.4" y="93.8" width="0.8" height="0.8" fill="#7a90ff" opacity="0.36"/><rect x="212.1" y="91.3" width="0.8" height="0.8" fill="#a8b4ff" opacity="0.46"/><rect x="201.2" y="98.7" width="0.8" height="0.8" fill="#7a90ff" opacity="0.41"/><rect x="202.4" y="99.4" width="0.8" height="0.8" fill="#90a4ff" opacity="0.47"/><rect x="209.4" y="94.6" width="0.8" height="0.8" fill="#90a4ff" opacity="0.43"/><rect x="206.1" y="96.6" width="0.8" height="0.8" fill="#7a90ff" opacity="0.35"/><rect x="206.0" y="88.5" width="0.8" height="0.8" fill="#90a4ff" opacity="0.16"/><rect x="212.1" y="84.2" width="0.8" height="0.8" fill="#6a80ff" opacity="0.34"/><rect x="200.0" y="96.9" width="0.8" height="0.8" fill="#a8b4ff" opacity="0.19"/><rect x="196.7" y="101.4" width="0.8" height="0.8" fill="#90a4ff" opacity="0.43"/><rect x="205.1" y="95.6" width="0.8" height="0.8" fill="#90a4ff" opacity="0.30"/><rect x="209.4" y="95.5" width="0.8" height="0.8" fill="#a8b4ff" opacity="0.23"/><rect x="202.7" y="89.6" width="0.8" height="0.8" fill="#a8b4ff" opacity="0.46"/><rect x="212.4" y="94.4" width="0.8" height="0.8" fill="#6a80ff" opacity="0.23"/><rect x="208.2" y="96.3" width="0.8" height="0.8" fill="#a8b4ff" opacity="0.23"/><rect x="215.2" y="95.5" width="0.8" height="0.8" fill="#a8b4ff" opacity="0.26"/><rect x="201.3" y="103.6" width="0.8" height="0.8" fill="#7a90ff" opacity="0.43"/><rect x="197.7" y="102.9" width="0.8" height="0.8" fill="#6a80ff" opacity="0.37"/><rect x="210.6" y="95.9" width="0.8" height="0.8" fill="#6a80ff" opacity="0.26"/><rect x="208.9" y="90.3" width="0.8" height="0.8" fill="#a8b4ff" opacity="0.42"/><rect x="207.8" y="101.3" width="0.8" height="0.8" fill="#90a4ff" opacity="0.28"/><rect x="208.3" y="93.6" width="0.8" height="0.8" fill="#7a90ff" opacity="0.46"/><rect x="210.8" y="89.5" width="0.8" height="0.8" fill="#90a4ff" opacity="0.16"/><rect x="211.0" y="89.9" width="0.8" height="0.8" fill="#6a80ff" opacity="0.43"/><rect x="213.4" y="91.8" width="0.8" height="0.8" fill="#7a90ff" opacity="0.31"/><rect x="205.9" y="103.1" width="0.8" height="0.8" fill="#7a90ff" opacity="0.34"/><rect x="197.4" y="103.6" width="0.8" height="0.8" fill="#a8b4ff" opacity="0.22"/><rect x="215.4" y="90.7" width="0.8" height="0.8" fill="#6a80ff" opacity="0.36"/><rect x="201.0" y="100.3" width="0.8" height="0.8" fill="#a8b4ff" opacity="0.22"/><rect x="195.3" y="98.2" width="0.8" height="0.8" fill="#7a90ff" opacity="0.24"/><rect x="213.4" y="93.3" width="0.8" height="0.8" fill="#7a90ff" opacity="0.20"/><rect x="199.6" y="106.8" width="0.8" height="0.8" fill="#6a80ff" opacity="0.20"/><rect x="217.3" y="94.2" width="0.8" height="0.8" fill="#7a90ff" opacity="0.42"/><rect x="211.2" y="97.2" width="0.8" height="0.8" fill="#90a4ff" opacity="0.36"/><rect x="200.3" y="95.1" width="0.8" height="0.8" fill="#90a4ff" opacity="0.16"/><rect x="207.0" y="92.9" width="0.8" height="0.8" fill="#6a80ff" opacity="0.23"/><rect x="197.6" y="101.1" width="0.8" height="0.8" fill="#90a4ff" opacity="0.17"/><rect x="225.3" y="89.4" width="0.8" height="0.8" fill="#90a4ff" opacity="0.25"/><rect x="202.6" y="99.8" width="0.8" height="0.8" fill="#6a80ff" opacity="0.23"/><rect x="194.0" y="95.8" width="0.8" height="0.8" fill="#7a90ff" opacity="0.24"/><rect x="205.6" y="100.8" width="0.8" height="0.8" fill="#90a4ff" opacity="0.17"/><rect x="212.9" y="88.5" width="0.8" height="0.8" fill="#6a80ff" opacity="0.15"/><rect x="218.5" y="92.7" width="0.8" height="0.8" fill="#a8b4ff" opacity="0.32"/><rect x="218.4" y="89.3" width="0.8" height="0.8" fill="#90a4ff" opacity="0.41"/><rect x="206.3" y="98.4" width="0.8" height="0.8" fill="#90a4ff" opacity="0.21"/><rect x="201.9" y="103.5" width="0.8" height="0.8" fill="#7a90ff" opacity="0.31"/><rect x="205.3" y="89.8" width="0.8" height="0.8" fill="#90a4ff" opacity="0.35"/><rect x="198.8" y="96.5" width="0.8" height="0.8" fill="#7a90ff" opacity="0.34"/><rect x="204.3" y="99.7" width="0.8" height="0.8" fill="#6a80ff" opacity="0.42"/><rect x="205.0" y="92.1" width="0.8" height="0.8" fill="#a8b4ff" opacity="0.49"/><rect x="191.2" y="99.4" width="0.8" height="0.8" fill="#a8b4ff" opacity="0.39"/><rect x="205.0" y="88.2" width="0.8" height="0.8" fill="#7a90ff" opacity="0.41"/><rect x="203.9" y="95.4" width="0.8" height="0.8" fill="#a8b4ff" opacity="0.18"/><rect x="202.0" y="104.5" width="0.8" height="0.8" fill="#6a80ff" opacity="0.23"/><rect x="216.9" y="87.1" width="0.8" height="0.8" fill="#90a4ff" opacity="0.40"/><rect x="200.7" y="99.1" width="0.8" height="0.8" fill="#7a90ff" opacity="0.40"/><rect x="220.0" y="92.0" width="0.8" height="0.8" fill="#7a90ff" opacity="0.32"/><rect x="198.8" y="96.4" width="0.8" height="0.8" fill="#6a80ff" opacity="0.16"/><rect x="201.0" y="96.1" width="0.8" height="0.8" fill="#6a80ff" opacity="0.41"/><rect x="217.4" y="91.0" width="0.8" height="0.8" fill="#6a80ff" opacity="0.25"/><rect x="205.3" y="99.6" width="0.8" height="0.8" fill="#6a80ff" opacity="0.22"/><rect x="207.2" y="88.5" width="0.8" height="0.8" fill="#a8b4ff" opacity="0.34"/><rect x="219.4" y="93.2" width="0.8" height="0.8" fill="#a8b4ff" opacity="0.40"/><rect x="208.6" y="96.1" width="0.8" height="0.8" fill="#a8b4ff" opacity="0.46"/><rect x="197.0" y="89.5" width="0.8" height="0.8" fill="#a8b4ff" opacity="0.35"/><rect x="197.7" y="98.9" width="0.8" height="0.8" fill="#7a90ff" opacity="0.39"/><rect x="199.9" y="93.3" width="0.8" height="0.8" fill="#7a90ff" opacity="0.48"/><rect x="214.8" y="95.4" width="0.8" height="0.8" fill="#90a4ff" opacity="0.48"/><rect x="215.0" y="89.0" width="0.8" height="0.8" fill="#7a90ff" opacity="0.30"/><rect x="203.3" y="107.5" width="0.8" height="0.8" fill="#a8b4ff" opacity="0.16"/><rect x="204.0" y="91.9" width="0.8" height="0.8" fill="#6a80ff" opacity="0.37"/><rect x="201.9" y="103.8" width="0.8" height="0.8" fill="#7a90ff" opacity="0.26"/><rect x="215.9" y="88.2" width="0.8" height="0.8" fill="#7a90ff" opacity="0.26"/><rect x="209.1" y="96.8" width="0.8" height="0.8" fill="#a8b4ff" opacity="0.36"/><rect x="207.2" y="95.0" width="0.8" height="0.8" fill="#6a80ff" opacity="0.34"/><rect x="210.8" y="88.8" width="0.8" height="0.8" fill="#7a90ff" opacity="0.25"/><rect x="210.5" y="93.8" width="0.8" height="0.8" fill="#a8b4ff" opacity="0.43"/><rect x="205.8" y="92.9" width="0.8" height="0.8" fill="#90a4ff" opacity="0.30"/><rect x="222.6" y="86.8" width="0.8" height="0.8" fill="#7a90ff" opacity="0.42"/><rect x="206.9" y="90.4" width="0.8" height="0.8" fill="#7a90ff" opacity="0.33"/><rect x="208.1" y="94.3" width="0.8" height="0.8" fill="#90a4ff" opacity="0.28"/><rect x="204.4" y="91.5" width="0.8" height="0.8" fill="#7a90ff" opacity="0.27"/><rect x="204.4" y="94.3" width="0.8" height="0.8" fill="#7a90ff" opacity="0.34"/><rect x="199.6" y="95.1" width="0.8" height="0.8" fill="#6a80ff" opacity="0.36"/><rect x="201.7" y="105.4" width="0.8" height="0.8" fill="#90a4ff" opacity="0.42"/></g>
<ellipse cx="194.5" cy="101.1" rx="12" ry="3.4" fill="url(#tail)" transform="rotate(-48 194.5 101.1)"/>
<ellipse cx="189.5" cy="106.5" rx="4" ry="2.2" fill="url(#corner)" transform="rotate(-50 189.5 106.5)"/>
<ellipse cx="194.3" cy="88.3" rx="4.6" ry="6.8" fill="url(#blobA)"/>
<polygon points="194.0,78.4 199.4,82.7 200.1,88.8 199.4,91.8 194.2,94.3 189.1,93.4 188.6,83.2" fill="none" stroke="#3a3a3a" stroke-width="0.7"/>
<text x="196.4" y="70.9" font-size="7.6" font-weight="normal" fill="#2e2e2e" textLength="18.7" lengthAdjust="spacingAndGlyphs" stroke="#2e2e2e" stroke-width="0.18">64.2%</text>
<text x="181.4" y="118.3" font-size="6.8" font-weight="bold" fill="#1a1a1a" stroke="#1a1a1a" stroke-width="0.25">0</text>
<text x="200.0" y="118.3" font-size="6.8" font-weight="bold" fill="#1a1a1a" textLength="14.6" lengthAdjust="spacingAndGlyphs" stroke="#1a1a1a" stroke-width="0.25">400k</text>
<text x="229.7" y="118.3" font-size="6.8" font-weight="bold" fill="#1a1a1a" textLength="15.0" lengthAdjust="spacingAndGlyphs" stroke="#1a1a1a" stroke-width="0.25">1.0M</text>
<text x="183.3" y="56.3" font-size="7.0" font-weight="normal" fill="#1a1a1a" text-anchor="middle" textLength="15.4" lengthAdjust="spacingAndGlyphs" transform="rotate(-90 183.3 56.3)" stroke="#1a1a1a" stroke-width="0.12">1.2M</text>
<text x="183.3" y="82.4" font-size="7.0" font-weight="normal" fill="#1a1a1a" text-anchor="middle" textLength="15.4" lengthAdjust="spacingAndGlyphs" transform="rotate(-90 183.3 82.4)" stroke="#1a1a1a" stroke-width="0.12">600K</text>
<rect x="267.3" y="53.3" width="53.6" height="56.2" fill="#fff" stroke="#a8a8a8" stroke-width="0.9"/>
<line x1="266.0" y1="108.8" x2="267.3" y2="108.8" stroke="#888" stroke-width="0.6"/>
<line x1="266.0" y1="95.75" x2="267.3" y2="95.75" stroke="#888" stroke-width="0.6"/>
<line x1="266.0" y1="82.7" x2="267.3" y2="82.7" stroke="#888" stroke-width="0.6"/>
<line x1="266.0" y1="69.64999999999999" x2="267.3" y2="69.64999999999999" stroke="#888" stroke-width="0.6"/>
<line x1="266.0" y1="56.599999999999994" x2="267.3" y2="56.599999999999994" stroke="#888" stroke-width="0.6"/>
<line x1="268.3" y1="109.5" x2="268.3" y2="110.7" stroke="#888" stroke-width="0.6"/>
<line x1="275.3" y1="109.5" x2="275.3" y2="110.7" stroke="#888" stroke-width="0.6"/>
<line x1="282.3" y1="109.5" x2="282.3" y2="110.7" stroke="#888" stroke-width="0.6"/>
<line x1="289.3" y1="109.5" x2="289.3" y2="110.7" stroke="#888" stroke-width="0.6"/>
<line x1="296.3" y1="109.5" x2="296.3" y2="110.7" stroke="#888" stroke-width="0.6"/>
<line x1="303.3" y1="109.5" x2="303.3" y2="110.7" stroke="#888" stroke-width="0.6"/>
<line x1="310.3" y1="109.5" x2="310.3" y2="110.7" stroke="#888" stroke-width="0.6"/>
<line x1="317.3" y1="109.5" x2="317.3" y2="110.7" stroke="#888" stroke-width="0.6"/>
<ellipse cx="285.3" cy="95.5" rx="13" ry="7.5" fill="#c4ccff" opacity="0.4" filter="url(#bl2)" transform="rotate(-30 285.3 95.5)"/>
<g><rect x="278.7" y="100.7" width="0.8" height="0.8" fill="#a8b4ff" opacity="0.31"/><rect x="296.1" y="87.7" width="0.8" height="0.8" fill="#7a90ff" opacity="0.38"/><rect x="282.8" y="94.6" width="0.8" height="0.8" fill="#7a90ff" opacity="0.47"/><rect x="293.6" y="90.6" width="0.8" height="0.8" fill="#90a4ff" opacity="0.35"/><rect x="282.4" y="104.1" width="0.8" height="0.8" fill="#6a80ff" opacity="0.24"/><rect x="284.1" y="92.0" width="0.8" height="0.8" fill="#7a90ff" opacity="0.17"/><rect x="292.9" y="90.6" width="0.8" height="0.8" fill="#90a4ff" opacity="0.18"/><rect x="297.7" y="92.7" width="0.8" height="0.8" fill="#90a4ff" opacity="0.26"/><rect x="284.9" y="99.5" width="0.8" height="0.8" fill="#6a80ff" opacity="0.24"/><rect x="281.3" y="98.1" width="0.8" height="0.8" fill="#90a4ff" opacity="0.40"/><rect x="275.6" y="98.2" width="0.8" height="0.8" fill="#a8b4ff" opacity="0.33"/><rect x="298.5" y="91.8" width="0.8" height="0.8" fill="#a8b4ff" opacity="0.34"/><rect x="293.7" y="92.1" width="0.8" height="0.8" fill="#7a90ff" opacity="0.24"/><rect x="295.6" y="90.8" width="0.8" height="0.8" fill="#6a80ff" opacity="0.27"/><rect x="278.2" y="98.9" width="0.8" height="0.8" fill="#a8b4ff" opacity="0.36"/><rect x="274.6" y="96.9" width="0.8" height="0.8" fill="#6a80ff" opacity="0.30"/><rect x="283.7" y="91.6" width="0.8" height="0.8" fill="#90a4ff" opacity="0.25"/><rect x="280.7" y="100.7" width="0.8" height="0.8" fill="#a8b4ff" opacity="0.23"/><rect x="292.3" y="85.3" width="0.8" height="0.8" fill="#a8b4ff" opacity="0.48"/><rect x="286.8" y="94.5" width="0.8" height="0.8" fill="#6a80ff" opacity="0.47"/><rect x="298.2" y="88.2" width="0.8" height="0.8" fill="#90a4ff" opacity="0.30"/><rect x="271.4" y="100.7" width="0.8" height="0.8" fill="#90a4ff" opacity="0.22"/><rect x="296.0" y="97.1" width="0.8" height="0.8" fill="#7a90ff" opacity="0.40"/><rect x="294.4" y="90.6" width="0.8" height="0.8" fill="#6a80ff" opacity="0.42"/><rect x="282.0" y="95.7" width="0.8" height="0.8" fill="#6a80ff" opacity="0.19"/><rect x="285.4" y="93.4" width="0.8" height="0.8" fill="#6a80ff" opacity="0.44"/><rect x="287.6" y="99.0" width="0.8" height="0.8" fill="#6a80ff" opacity="0.32"/><rect x="275.9" y="101.5" width="0.8" height="0.8" fill="#90a4ff" opacity="0.32"/><rect x="295.5" y="83.9" width="0.8" height="0.8" fill="#a8b4ff" opacity="0.20"/><rect x="300.4" y="85.2" width="0.8" height="0.8" fill="#7a90ff" opacity="0.20"/><rect x="297.2" y="92.5" width="0.8" height="0.8" fill="#6a80ff" opacity="0.21"/><rect x="301.2" y="91.1" width="0.8" height="0.8" fill="#6a80ff" opacity="0.38"/><rect x="283.8" y="98.2" width="0.8" height="0.8" fill="#a8b4ff" opacity="0.16"/><rect x="292.6" y="91.6" width="0.8" height="0.8" fill="#7a90ff" opacity="0.31"/><rect x="292.6" y="90.2" width="0.8" height="0.8" fill="#6a80ff" opacity="0.47"/><rect x="293.5" y="96.3" width="0.8" height="0.8" fill="#a8b4ff" opacity="0.22"/><rect x="279.1" y="95.6" width="0.8" height="0.8" fill="#6a80ff" opacity="0.48"/><rect x="286.8" y="97.2" width="0.8" height="0.8" fill="#6a80ff" opacity="0.35"/><rect x="274.3" y="99.2" width="0.8" height="0.8" fill="#a8b4ff" opacity="0.23"/><rect x="293.9" y="88.3" width="0.8" height="0.8" fill="#7a90ff" opacity="0.43"/><rect x="283.7" y="96.0" width="0.8" height="0.8" fill="#a8b4ff" opacity="0.42"/><rect x="294.7" y="92.5" width="0.8" height="0.8" fill="#6a80ff" opacity="0.23"/><rect x="286.2" y="97.6" width="0.8" height="0.8" fill="#7a90ff" opacity="0.28"/><rect x="297.7" y="88.4" width="0.8" height="0.8" fill="#7a90ff" opacity="0.47"/><rect x="287.3" y="89.6" width="0.8" height="0.8" fill="#a8b4ff" opacity="0.45"/><rect x="287.1" y="96.6" width="0.8" height="0.8" fill="#7a90ff" opacity="0.38"/><rect x="296.1" y="92.7" width="0.8" height="0.8" fill="#a8b4ff" opacity="0.29"/><rect x="292.3" y="89.6" width="0.8" height="0.8" fill="#6a80ff" opacity="0.31"/><rect x="294.4" y="89.1" width="0.8" height="0.8" fill="#a8b4ff" opacity="0.45"/><rect x="297.4" y="87.5" width="0.8" height="0.8" fill="#6a80ff" opacity="0.25"/><rect x="293.9" y="92.6" width="0.8" height="0.8" fill="#6a80ff" opacity="0.40"/><rect x="284.3" y="91.1" width="0.8" height="0.8" fill="#a8b4ff" opacity="0.37"/><rect x="283.5" y="101.3" width="0.8" height="0.8" fill="#a8b4ff" opacity="0.28"/><rect x="274.7" y="98.5" width="0.8" height="0.8" fill="#a8b4ff" opacity="0.24"/><rect x="283.5" y="101.2" width="0.8" height="0.8" fill="#7a90ff" opacity="0.20"/><rect x="279.7" y="99.6" width="0.8" height="0.8" fill="#6a80ff" opacity="0.50"/><rect x="297.1" y="96.3" width="0.8" height="0.8" fill="#a8b4ff" opacity="0.37"/><rect x="293.2" y="89.6" width="0.8" height="0.8" fill="#90a4ff" opacity="0.31"/><rect x="286.8" y="93.7" width="0.8" height="0.8" fill="#7a90ff" opacity="0.21"/><rect x="286.2" y="85.6" width="0.8" height="0.8" fill="#90a4ff" opacity="0.34"/><rect x="283.0" y="98.4" width="0.8" height="0.8" fill="#90a4ff" opacity="0.15"/><rect x="293.4" y="89.5" width="0.8" height="0.8" fill="#a8b4ff" opacity="0.22"/><rect x="281.2" y="105.1" width="0.8" height="0.8" fill="#90a4ff" opacity="0.27"/><rect x="299.2" y="89.9" width="0.8" height="0.8" fill="#7a90ff" opacity="0.42"/><rect x="283.3" y="98.1" width="0.8" height="0.8" fill="#7a90ff" opacity="0.15"/><rect x="275.3" y="100.1" width="0.8" height="0.8" fill="#6a80ff" opacity="0.20"/><rect x="273.6" y="101.4" width="0.8" height="0.8" fill="#7a90ff" opacity="0.31"/><rect x="296.7" y="93.8" width="0.8" height="0.8" fill="#6a80ff" opacity="0.28"/><rect x="280.1" y="101.7" width="0.8" height="0.8" fill="#a8b4ff" opacity="0.38"/><rect x="283.0" y="92.1" width="0.8" height="0.8" fill="#90a4ff" opacity="0.26"/><rect x="290.7" y="93.3" width="0.8" height="0.8" fill="#90a4ff" opacity="0.40"/><rect x="298.3" y="85.1" width="0.8" height="0.8" fill="#90a4ff" opacity="0.37"/><rect x="276.1" y="95.1" width="0.8" height="0.8" fill="#6a80ff" opacity="0.25"/><rect x="292.1" y="92.6" width="0.8" height="0.8" fill="#7a90ff" opacity="0.34"/><rect x="289.9" y="96.3" width="0.8" height="0.8" fill="#a8b4ff" opacity="0.49"/><rect x="279.1" y="91.8" width="0.8" height="0.8" fill="#90a4ff" opacity="0.39"/><rect x="299.9" y="89.9" width="0.8" height="0.8" fill="#7a90ff" opacity="0.16"/><rect x="292.8" y="87.6" width="0.8" height="0.8" fill="#a8b4ff" opacity="0.27"/><rect x="283.3" y="97.7" width="0.8" height="0.8" fill="#7a90ff" opacity="0.33"/><rect x="298.7" y="92.8" width="0.8" height="0.8" fill="#6a80ff" opacity="0.43"/><rect x="302.6" y="87.7" width="0.8" height="0.8" fill="#90a4ff" opacity="0.22"/><rect x="301.5" y="83.8" width="0.8" height="0.8" fill="#a8b4ff" opacity="0.32"/><rect x="279.5" y="96.3" width="0.8" height="0.8" fill="#7a90ff" opacity="0.44"/><rect x="286.3" y="88.2" width="0.8" height="0.8" fill="#7a90ff" opacity="0.34"/><rect x="276.1" y="99.9" width="0.8" height="0.8" fill="#7a90ff" opacity="0.46"/><rect x="298.0" y="95.5" width="0.8" height="0.8" fill="#6a80ff" opacity="0.23"/><rect x="282.3" y="99.5" width="0.8" height="0.8" fill="#6a80ff" opacity="0.25"/><rect x="291.5" y="89.4" width="0.8" height="0.8" fill="#a8b4ff" opacity="0.44"/><rect x="298.0" y="87.9" width="0.8" height="0.8" fill="#a8b4ff" opacity="0.22"/><rect x="287.3" y="101.9" width="0.8" height="0.8" fill="#7a90ff" opacity="0.29"/><rect x="281.1" y="105.6" width="0.8" height="0.8" fill="#7a90ff" opacity="0.34"/><rect x="284.4" y="95.5" width="0.8" height="0.8" fill="#6a80ff" opacity="0.23"/><rect x="299.5" y="89.3" width="0.8" height="0.8" fill="#a8b4ff" opacity="0.45"/><rect x="302.2" y="85.3" width="0.8" height="0.8" fill="#a8b4ff" opacity="0.21"/><rect x="285.1" y="89.8" width="0.8" height="0.8" fill="#a8b4ff" opacity="0.46"/><rect x="293.3" y="95.5" width="0.8" height="0.8" fill="#a8b4ff" opacity="0.40"/><rect x="285.1" y="96.9" width="0.8" height="0.8" fill="#a8b4ff" opacity="0.41"/><rect x="298.9" y="89.0" width="0.8" height="0.8" fill="#a8b4ff" opacity="0.34"/><rect x="277.9" y="102.2" width="0.8" height="0.8" fill="#90a4ff" opacity="0.22"/><rect x="287.6" y="92.6" width="0.8" height="0.8" fill="#90a4ff" opacity="0.31"/><rect x="291.7" y="96.8" width="0.8" height="0.8" fill="#6a80ff" opacity="0.42"/><rect x="291.4" y="81.3" width="0.8" height="0.8" fill="#7a90ff" opacity="0.32"/><rect x="292.0" y="92.2" width="0.8" height="0.8" fill="#7a90ff" opacity="0.48"/><rect x="283.6" y="94.8" width="0.8" height="0.8" fill="#7a90ff" opacity="0.29"/><rect x="301.2" y="95.8" width="0.8" height="0.8" fill="#7a90ff" opacity="0.28"/><rect x="291.7" y="97.5" width="0.8" height="0.8" fill="#6a80ff" opacity="0.21"/><rect x="277.6" y="95.8" width="0.8" height="0.8" fill="#6a80ff" opacity="0.24"/><rect x="292.7" y="90.7" width="0.8" height="0.8" fill="#7a90ff" opacity="0.32"/><rect x="284.2" y="95.4" width="0.8" height="0.8" fill="#7a90ff" opacity="0.25"/><rect x="289.1" y="92.2" width="0.8" height="0.8" fill="#90a4ff" opacity="0.39"/><rect x="288.1" y="92.6" width="0.8" height="0.8" fill="#90a4ff" opacity="0.29"/><rect x="293.2" y="89.6" width="0.8" height="0.8" fill="#6a80ff" opacity="0.29"/><rect x="283.9" y="94.9" width="0.8" height="0.8" fill="#6a80ff" opacity="0.24"/><rect x="299.1" y="85.3" width="0.8" height="0.8" fill="#a8b4ff" opacity="0.28"/><rect x="279.3" y="101.2" width="0.8" height="0.8" fill="#7a90ff" opacity="0.31"/><rect x="280.3" y="91.2" width="0.8" height="0.8" fill="#a8b4ff" opacity="0.16"/><rect x="295.0" y="86.5" width="0.8" height="0.8" fill="#90a4ff" opacity="0.41"/><rect x="291.2" y="98.5" width="0.8" height="0.8" fill="#90a4ff" opacity="0.38"/><rect x="285.7" y="96.4" width="0.8" height="0.8" fill="#7a90ff" opacity="0.18"/><rect x="282.4" y="99.5" width="0.8" height="0.8" fill="#a8b4ff" opacity="0.40"/><rect x="280.7" y="94.3" width="0.8" height="0.8" fill="#6a80ff" opacity="0.42"/><rect x="280.2" y="104.4" width="0.8" height="0.8" fill="#6a80ff" opacity="0.27"/><rect x="304.9" y="88.4" width="0.8" height="0.8" fill="#90a4ff" opacity="0.33"/><rect x="285.3" y="95.3" width="0.8" height="0.8" fill="#90a4ff" opacity="0.45"/><rect x="278.8" y="105.9" width="0.8" height="0.8" fill="#6a80ff" opacity="0.43"/><rect x="288.7" y="94.1" width="0.8" height="0.8" fill="#90a4ff" opacity="0.32"/><rect x="281.8" y="99.8" width="0.8" height="0.8" fill="#6a80ff" opacity="0.39"/><rect x="284.4" y="90.4" width="0.8" height="0.8" fill="#7a90ff" opacity="0.43"/><rect x="291.4" y="99.0" width="0.8" height="0.8" fill="#a8b4ff" opacity="0.29"/><rect x="297.3" y="85.9" width="0.8" height="0.8" fill="#90a4ff" opacity="0.25"/><rect x="290.4" y="94.5" width="0.8" height="0.8" fill="#6a80ff" opacity="0.25"/><rect x="287.8" y="95.7" width="0.8" height="0.8" fill="#7a90ff" opacity="0.42"/><rect x="287.4" y="96.0" width="0.8" height="0.8" fill="#6a80ff" opacity="0.43"/><rect x="275.9" y="97.0" width="0.8" height="0.8" fill="#7a90ff" opacity="0.21"/><rect x="271.0" y="97.7" width="0.8" height="0.8" fill="#6a80ff" opacity="0.29"/><rect x="282.1" y="107.4" width="0.8" height="0.8" fill="#a8b4ff" opacity="0.35"/><rect x="289.5" y="83.5" width="0.8" height="0.8" fill="#6a80ff" opacity="0.47"/><rect x="283.7" y="104.1" width="0.8" height="0.8" fill="#a8b4ff" opacity="0.19"/><rect x="297.1" y="96.1" width="0.8" height="0.8" fill="#a8b4ff" opacity="0.38"/><rect x="283.7" y="91.6" width="0.8" height="0.8" fill="#7a90ff" opacity="0.20"/><rect x="282.5" y="103.3" width="0.8" height="0.8" fill="#6a80ff" opacity="0.28"/><rect x="281.7" y="105.7" width="0.8" height="0.8" fill="#a8b4ff" opacity="0.33"/><rect x="292.1" y="88.0" width="0.8" height="0.8" fill="#90a4ff" opacity="0.30"/><rect x="284.8" y="95.4" width="0.8" height="0.8" fill="#a8b4ff" opacity="0.46"/><rect x="294.9" y="96.8" width="0.8" height="0.8" fill="#a8b4ff" opacity="0.37"/><rect x="289.0" y="91.1" width="0.8" height="0.8" fill="#7a90ff" opacity="0.29"/><rect x="292.8" y="84.3" width="0.8" height="0.8" fill="#a8b4ff" opacity="0.29"/><rect x="293.4" y="89.0" width="0.8" height="0.8" fill="#7a90ff" opacity="0.42"/><rect x="300.0" y="95.3" width="0.8" height="0.8" fill="#7a90ff" opacity="0.38"/><rect x="282.4" y="100.7" width="0.8" height="0.8" fill="#a8b4ff" opacity="0.46"/><rect x="272.9" y="107.3" width="0.8" height="0.8" fill="#6a80ff" opacity="0.20"/><rect x="286.1" y="87.3" width="0.8" height="0.8" fill="#7a90ff" opacity="0.40"/><rect x="280.9" y="99.2" width="0.8" height="0.8" fill="#a8b4ff" opacity="0.23"/><rect x="284.5" y="96.6" width="0.8" height="0.8" fill="#7a90ff" opacity="0.44"/><rect x="299.1" y="85.9" width="0.8" height="0.8" fill="#90a4ff" opacity="0.36"/><rect x="284.5" y="96.4" width="0.8" height="0.8" fill="#90a4ff" opacity="0.28"/><rect x="293.5" y="98.9" width="0.8" height="0.8" fill="#90a4ff" opacity="0.18"/><rect x="288.8" y="94.5" width="0.8" height="0.8" fill="#90a4ff" opacity="0.18"/><rect x="290.8" y="92.7" width="0.8" height="0.8" fill="#6a80ff" opacity="0.49"/><rect x="287.1" y="88.2" width="0.8" height="0.8" fill="#90a4ff" opacity="0.17"/><rect x="291.7" y="95.2" width="0.8" height="0.8" fill="#a8b4ff" opacity="0.18"/><rect x="285.5" y="94.1" width="0.8" height="0.8" fill="#90a4ff" opacity="0.33"/><rect x="272.9" y="93.1" width="0.8" height="0.8" fill="#6a80ff" opacity="0.26"/><rect x="279.3" y="93.0" width="0.8" height="0.8" fill="#a8b4ff" opacity="0.20"/><rect x="291.3" y="92.2" width="0.8" height="0.8" fill="#a8b4ff" opacity="0.25"/><rect x="280.4" y="100.2" width="0.8" height="0.8" fill="#a8b4ff" opacity="0.50"/><rect x="299.8" y="90.2" width="0.8" height="0.8" fill="#7a90ff" opacity="0.39"/><rect x="294.7" y="88.7" width="0.8" height="0.8" fill="#6a80ff" opacity="0.41"/><rect x="279.2" y="98.0" width="0.8" height="0.8" fill="#a8b4ff" opacity="0.41"/><rect x="290.7" y="93.3" width="0.8" height="0.8" fill="#90a4ff" opacity="0.25"/><rect x="295.1" y="85.6" width="0.8" height="0.8" fill="#90a4ff" opacity="0.26"/><rect x="289.3" y="88.8" width="0.8" height="0.8" fill="#7a90ff" opacity="0.32"/><rect x="285.9" y="89.0" width="0.8" height="0.8" fill="#90a4ff" opacity="0.46"/><rect x="294.5" y="97.8" width="0.8" height="0.8" fill="#90a4ff" opacity="0.44"/><rect x="286.9" y="106.3" width="0.8" height="0.8" fill="#a8b4ff" opacity="0.50"/><rect x="285.7" y="95.2" width="0.8" height="0.8" fill="#6a80ff" opacity="0.32"/><rect x="294.9" y="94.0" width="0.8" height="0.8" fill="#90a4ff" opacity="0.20"/><rect x="283.7" y="98.6" width="0.8" height="0.8" fill="#a8b4ff" opacity="0.39"/><rect x="285.7" y="98.1" width="0.8" height="0.8" fill="#6a80ff" opacity="0.37"/><rect x="287.4" y="98.1" width="0.8" height="0.8" fill="#90a4ff" opacity="0.31"/><rect x="281.9" y="92.2" width="0.8" height="0.8" fill="#a8b4ff" opacity="0.31"/><rect x="301.9" y="86.1" width="0.8" height="0.8" fill="#7a90ff" opacity="0.31"/><rect x="293.7" y="93.9" width="0.8" height="0.8" fill="#7a90ff" opacity="0.44"/><rect x="287.2" y="94.6" width="0.8" height="0.8" fill="#6a80ff" opacity="0.33"/><rect x="288.8" y="95.5" width="0.8" height="0.8" fill="#a8b4ff" opacity="0.22"/><rect x="294.0" y="96.2" width="0.8" height="0.8" fill="#90a4ff" opacity="0.25"/><rect x="273.7" y="101.7" width="0.8" height="0.8" fill="#a8b4ff" opacity="0.25"/><rect x="285.1" y="98.1" width="0.8" height="0.8" fill="#a8b4ff" opacity="0.43"/><rect x="285.8" y="88.3" width="0.8" height="0.8" fill="#7a90ff" opacity="0.24"/></g>
<ellipse cx="274.90000000000003" cy="101.1" rx="12" ry="3.4" fill="url(#tail)" transform="rotate(-48 274.90000000000003 101.1)"/>
<ellipse cx="269.90000000000003" cy="106.5" rx="4" ry="2.2" fill="url(#corner)" transform="rotate(-50 269.90000000000003 106.5)"/>
<ellipse cx="274.7" cy="88.3" rx="4.6" ry="6.8" fill="url(#blobA)"/>
<polygon points="274.4,78.4 279.8,82.7 280.5,88.8 279.8,91.8 274.6,94.3 269.5,93.4 269.0,83.2" fill="none" stroke="#3a3a3a" stroke-width="0.7"/>
<text x="277.8" y="70.9" font-size="7.6" font-weight="normal" fill="#2e2e2e" textLength="18.7" lengthAdjust="spacingAndGlyphs" stroke="#2e2e2e" stroke-width="0.18">68.6%</text>
<text x="261.8" y="118.3" font-size="6.8" font-weight="bold" fill="#1a1a1a" stroke="#1a1a1a" stroke-width="0.25">0</text>
<text x="280.40000000000003" y="118.3" font-size="6.8" font-weight="bold" fill="#1a1a1a" textLength="14.6" lengthAdjust="spacingAndGlyphs" stroke="#1a1a1a" stroke-width="0.25">400k</text>
<text x="310.1" y="118.3" font-size="6.8" font-weight="bold" fill="#1a1a1a" textLength="15.0" lengthAdjust="spacingAndGlyphs" stroke="#1a1a1a" stroke-width="0.25">1.0M</text>
<text x="263.7" y="56.3" font-size="7.0" font-weight="normal" fill="#1a1a1a" text-anchor="middle" textLength="15.4" lengthAdjust="spacingAndGlyphs" transform="rotate(-90 263.7 56.3)" stroke="#1a1a1a" stroke-width="0.12">1.2M</text>
<text x="263.7" y="82.4" font-size="7.0" font-weight="normal" fill="#1a1a1a" text-anchor="middle" textLength="15.4" lengthAdjust="spacingAndGlyphs" transform="rotate(-90 263.7 82.4)" stroke="#1a1a1a" stroke-width="0.12">600K</text>
<rect x="344.9" y="53.3" width="53.6" height="56.2" fill="#fff" stroke="#a8a8a8" stroke-width="0.9"/>
<line x1="343.59999999999997" y1="108.8" x2="344.9" y2="108.8" stroke="#888" stroke-width="0.6"/>
<line x1="343.59999999999997" y1="95.75" x2="344.9" y2="95.75" stroke="#888" stroke-width="0.6"/>
<line x1="343.59999999999997" y1="82.7" x2="344.9" y2="82.7" stroke="#888" stroke-width="0.6"/>
<line x1="343.59999999999997" y1="69.64999999999999" x2="344.9" y2="69.64999999999999" stroke="#888" stroke-width="0.6"/>
<line x1="343.59999999999997" y1="56.599999999999994" x2="344.9" y2="56.599999999999994" stroke="#888" stroke-width="0.6"/>
<line x1="345.9" y1="109.5" x2="345.9" y2="110.7" stroke="#888" stroke-width="0.6"/>
<line x1="352.9" y1="109.5" x2="352.9" y2="110.7" stroke="#888" stroke-width="0.6"/>
<line x1="359.9" y1="109.5" x2="359.9" y2="110.7" stroke="#888" stroke-width="0.6"/>
<line x1="366.9" y1="109.5" x2="366.9" y2="110.7" stroke="#888" stroke-width="0.6"/>
<line x1="373.9" y1="109.5" x2="373.9" y2="110.7" stroke="#888" stroke-width="0.6"/>
<line x1="380.9" y1="109.5" x2="380.9" y2="110.7" stroke="#888" stroke-width="0.6"/>
<line x1="387.9" y1="109.5" x2="387.9" y2="110.7" stroke="#888" stroke-width="0.6"/>
<line x1="394.9" y1="109.5" x2="394.9" y2="110.7" stroke="#888" stroke-width="0.6"/>
<ellipse cx="362.9" cy="95.5" rx="13" ry="7.5" fill="#c4ccff" opacity="0.4" filter="url(#bl2)" transform="rotate(-30 362.9 95.5)"/>
<g><rect x="358.4" y="101.8" width="0.8" height="0.8" fill="#6a80ff" opacity="0.24"/><rect x="366.7" y="89.3" width="0.8" height="0.8" fill="#6a80ff" opacity="0.40"/><rect x="359.2" y="97.5" width="0.8" height="0.8" fill="#7a90ff" opacity="0.34"/><rect x="363.3" y="100.1" width="0.8" height="0.8" fill="#a8b4ff" opacity="0.23"/><rect x="375.8" y="94.4" width="0.8" height="0.8" fill="#7a90ff" opacity="0.42"/><rect x="378.2" y="88.1" width="0.8" height="0.8" fill="#a8b4ff" opacity="0.33"/><rect x="377.9" y="85.7" width="0.8" height="0.8" fill="#a8b4ff" opacity="0.39"/><rect x="362.1" y="88.8" width="0.8" height="0.8" fill="#7a90ff" opacity="0.29"/><rect x="363.1" y="98.7" width="0.8" height="0.8" fill="#7a90ff" opacity="0.28"/><rect x="358.0" y="99.7" width="0.8" height="0.8" fill="#6a80ff" opacity="0.24"/><rect x="364.4" y="91.7" width="0.8" height="0.8" fill="#7a90ff" opacity="0.27"/><rect x="372.1" y="86.3" width="0.8" height="0.8" fill="#7a90ff" opacity="0.16"/><rect x="354.6" y="97.5" width="0.8" height="0.8" fill="#7a90ff" opacity="0.42"/><rect x="357.6" y="99.1" width="0.8" height="0.8" fill="#a8b4ff" opacity="0.20"/><rect x="359.4" y="98.6" width="0.8" height="0.8" fill="#90a4ff" opacity="0.20"/><rect x="353.3" y="101.2" width="0.8" height="0.8" fill="#a8b4ff" opacity="0.37"/><rect x="371.0" y="90.6" width="0.8" height="0.8" fill="#6a80ff" opacity="0.47"/><rect x="358.4" y="101.8" width="0.8" height="0.8" fill="#6a80ff" opacity="0.50"/><rect x="356.9" y="95.0" width="0.8" height="0.8" fill="#90a4ff" opacity="0.24"/><rect x="361.1" y="102.7" width="0.8" height="0.8" fill="#90a4ff" opacity="0.27"/><rect x="370.4" y="85.6" width="0.8" height="0.8" fill="#7a90ff" opacity="0.35"/><rect x="363.7" y="96.0" width="0.8" height="0.8" fill="#7a90ff" opacity="0.17"/><rect x="376.1" y="84.8" width="0.8" height="0.8" fill="#7a90ff" opacity="0.16"/><rect x="367.9" y="95.8" width="0.8" height="0.8" fill="#7a90ff" opacity="0.48"/><rect x="367.2" y="93.3" width="0.8" height="0.8" fill="#a8b4ff" opacity="0.20"/><rect x="371.7" y="94.4" width="0.8" height="0.8" fill="#a8b4ff" opacity="0.16"/><rect x="366.4" y="99.3" width="0.8" height="0.8" fill="#6a80ff" opacity="0.24"/><rect x="370.2" y="99.1" width="0.8" height="0.8" fill="#7a90ff" opacity="0.35"/><rect x="359.4" y="104.0" width="0.8" height="0.8" fill="#90a4ff" opacity="0.48"/><rect x="372.7" y="100.7" width="0.8" height="0.8" fill="#6a80ff" opacity="0.41"/><rect x="366.3" y="96.1" width="0.8" height="0.8" fill="#7a90ff" opacity="0.17"/><rect x="359.3" y="97.6" width="0.8" height="0.8" fill="#90a4ff" opacity="0.26"/><rect x="358.7" y="90.0" width="0.8" height="0.8" fill="#90a4ff" opacity="0.18"/><rect x="368.8" y="89.8" width="0.8" height="0.8" fill="#6a80ff" opacity="0.30"/><rect x="364.9" y="100.9" width="0.8" height="0.8" fill="#90a4ff" opacity="0.21"/><rect x="356.5" y="98.2" width="0.8" height="0.8" fill="#6a80ff" opacity="0.47"/><rect x="364.3" y="91.0" width="0.8" height="0.8" fill="#90a4ff" opacity="0.26"/><rect x="381.1" y="95.1" width="0.8" height="0.8" fill="#a8b4ff" opacity="0.44"/><rect x="374.8" y="90.2" width="0.8" height="0.8" fill="#6a80ff" opacity="0.32"/><rect x="363.9" y="100.3" width="0.8" height="0.8" fill="#7a90ff" opacity="0.41"/><rect x="372.2" y="85.5" width="0.8" height="0.8" fill="#a8b4ff" opacity="0.43"/><rect x="356.5" y="100.2" width="0.8" height="0.8" fill="#a8b4ff" opacity="0.25"/><rect x="361.1" y="93.5" width="0.8" height="0.8" fill="#a8b4ff" opacity="0.35"/><rect x="359.1" y="100.1" width="0.8" height="0.8" fill="#a8b4ff" opacity="0.16"/><rect x="362.0" y="94.0" width="0.8" height="0.8" fill="#7a90ff" opacity="0.16"/><rect x="355.3" y="104.1" width="0.8" height="0.8" fill="#7a90ff" opacity="0.45"/><rect x="375.6" y="96.9" width="0.8" height="0.8" fill="#7a90ff" opacity="0.48"/><rect x="359.2" y="96.0" width="0.8" height="0.8" fill="#7a90ff" opacity="0.43"/><rect x="367.9" y="85.5" width="0.8" height="0.8" fill="#6a80ff" opacity="0.30"/><rect x="360.7" y="92.2" width="0.8" height="0.8" fill="#a8b4ff" opacity="0.35"/><rect x="355.8" y="98.0" width="0.8" height="0.8" fill="#7a90ff" opacity="0.39"/><rect x="374.3" y="85.3" width="0.8" height="0.8" fill="#90a4ff" opacity="0.24"/><rect x="366.9" y="87.4" width="0.8" height="0.8" fill="#6a80ff" opacity="0.36"/><rect x="366.7" y="96.3" width="0.8" height="0.8" fill="#90a4ff" opacity="0.41"/><rect x="364.9" y="102.6" width="0.8" height="0.8" fill="#a8b4ff" opacity="0.32"/><rect x="376.0" y="83.9" width="0.8" height="0.8" fill="#90a4ff" opacity="0.17"/><rect x="367.6" y="99.8" width="0.8" height="0.8" fill="#6a80ff" opacity="0.20"/><rect x="376.3" y="97.7" width="0.8" height="0.8" fill="#a8b4ff" opacity="0.37"/><rect x="363.3" y="99.5" width="0.8" height="0.8" fill="#7a90ff" opacity="0.20"/><rect x="366.1" y="93.4" width="0.8" height="0.8" fill="#6a80ff" opacity="0.28"/><rect x="365.0" y="92.2" width="0.8" height="0.8" fill="#90a4ff" opacity="0.20"/><rect x="358.2" y="99.4" width="0.8" height="0.8" fill="#6a80ff" opacity="0.34"/><rect x="356.8" y="99.9" width="0.8" height="0.8" fill="#6a80ff" opacity="0.29"/><rect x="375.4" y="91.8" width="0.8" height="0.8" fill="#a8b4ff" opacity="0.37"/><rect x="355.4" y="103.8" width="0.8" height="0.8" fill="#7a90ff" opacity="0.47"/><rect x="353.4" y="104.0" width="0.8" height="0.8" fill="#a8b4ff" opacity="0.16"/><rect x="362.1" y="98.4" width="0.8" height="0.8" fill="#7a90ff" opacity="0.30"/><rect x="358.5" y="99.4" width="0.8" height="0.8" fill="#a8b4ff" opacity="0.44"/><rect x="353.5" y="103.2" width="0.8" height="0.8" fill="#a8b4ff" opacity="0.25"/><rect x="354.2" y="93.8" width="0.8" height="0.8" fill="#90a4ff" opacity="0.35"/><rect x="371.0" y="89.6" width="0.8" height="0.8" fill="#6a80ff" opacity="0.40"/><rect x="374.7" y="90.2" width="0.8" height="0.8" fill="#90a4ff" opacity="0.50"/><rect x="374.0" y="88.1" width="0.8" height="0.8" fill="#90a4ff" opacity="0.37"/><rect x="367.8" y="89.4" width="0.8" height="0.8" fill="#7a90ff" opacity="0.42"/><rect x="353.0" y="99.8" width="0.8" height="0.8" fill="#7a90ff" opacity="0.37"/><rect x="351.6" y="108.0" width="0.8" height="0.8" fill="#a8b4ff" opacity="0.36"/><rect x="371.9" y="89.1" width="0.8" height="0.8" fill="#a8b4ff" opacity="0.18"/><rect x="355.2" y="97.9" width="0.8" height="0.8" fill="#90a4ff" opacity="0.49"/><rect x="363.1" y="100.7" width="0.8" height="0.8" fill="#7a90ff" opacity="0.25"/><rect x="363.6" y="93.4" width="0.8" height="0.8" fill="#a8b4ff" opacity="0.39"/><rect x="355.1" y="94.6" width="0.8" height="0.8" fill="#7a90ff" opacity="0.42"/><rect x="359.5" y="90.9" width="0.8" height="0.8" fill="#a8b4ff" opacity="0.34"/><rect x="353.4" y="101.6" width="0.8" height="0.8" fill="#7a90ff" opacity="0.46"/><rect x="373.9" y="95.7" width="0.8" height="0.8" fill="#7a90ff" opacity="0.30"/><rect x="369.7" y="91.9" width="0.8" height="0.8" fill="#90a4ff" opacity="0.26"/><rect x="370.5" y="87.8" width="0.8" height="0.8" fill="#6a80ff" opacity="0.25"/><rect x="361.6" y="94.1" width="0.8" height="0.8" fill="#90a4ff" opacity="0.50"/><rect x="370.7" y="94.4" width="0.8" height="0.8" fill="#7a90ff" opacity="0.35"/><rect x="354.9" y="103.2" width="0.8" height="0.8" fill="#7a90ff" opacity="0.23"/><rect x="368.3" y="98.0" width="0.8" height="0.8" fill="#7a90ff" opacity="0.37"/><rect x="364.8" y="90.0" width="0.8" height="0.8" fill="#a8b4ff" opacity="0.23"/><rect x="349.8" y="101.6" width="0.8" height="0.8" fill="#6a80ff" opacity="0.33"/><rect x="355.2" y="96.5" width="0.8" height="0.8" fill="#a8b4ff" opacity="0.45"/><rect x="360.2" y="95.2" width="0.8" height="0.8" fill="#90a4ff" opacity="0.16"/><rect x="374.9" y="86.1" width="0.8" height="0.8" fill="#90a4ff" opacity="0.32"/><rect x="368.5" y="86.3" width="0.8" height="0.8" fill="#7a90ff" opacity="0.43"/><rect x="366.7" y="97.5" width="0.8" height="0.8" fill="#7a90ff" opacity="0.33"/><rect x="363.7" y="95.2" width="0.8" height="0.8" fill="#a8b4ff" opacity="0.48"/><rect x="354.3" y="102.3" width="0.8" height="0.8" fill="#a8b4ff" opacity="0.19"/><rect x="368.5" y="91.3" width="0.8" height="0.8" fill="#6a80ff" opacity="0.29"/><rect x="375.0" y="86.9" width="0.8" height="0.8" fill="#a8b4ff" opacity="0.24"/><rect x="373.1" y="83.6" width="0.8" height="0.8" fill="#6a80ff" opacity="0.19"/><rect x="352.7" y="97.1" width="0.8" height="0.8" fill="#6a80ff" opacity="0.19"/><rect x="376.1" y="88.8" width="0.8" height="0.8" fill="#a8b4ff" opacity="0.16"/><rect x="380.2" y="91.3" width="0.8" height="0.8" fill="#6a80ff" opacity="0.23"/><rect x="375.2" y="94.2" width="0.8" height="0.8" fill="#90a4ff" opacity="0.47"/><rect x="359.3" y="96.5" width="0.8" height="0.8" fill="#a8b4ff" opacity="0.35"/><rect x="350.0" y="101.0" width="0.8" height="0.8" fill="#7a90ff" opacity="0.23"/><rect x="368.9" y="94.0" width="0.8" height="0.8" fill="#a8b4ff" opacity="0.23"/><rect x="374.6" y="86.4" width="0.8" height="0.8" fill="#6a80ff" opacity="0.38"/><rect x="361.4" y="97.2" width="0.8" height="0.8" fill="#90a4ff" opacity="0.50"/><rect x="365.7" y="89.5" width="0.8" height="0.8" fill="#7a90ff" opacity="0.35"/><rect x="350.4" y="96.1" width="0.8" height="0.8" fill="#7a90ff" opacity="0.36"/><rect x="373.2" y="92.9" width="0.8" height="0.8" fill="#a8b4ff" opacity="0.34"/><rect x="356.9" y="94.3" width="0.8" height="0.8" fill="#90a4ff" opacity="0.38"/><rect x="366.1" y="92.4" width="0.8" height="0.8" fill="#90a4ff" opacity="0.48"/><rect x="357.4" y="98.9" width="0.8" height="0.8" fill="#90a4ff" opacity="0.36"/><rect x="373.1" y="97.8" width="0.8" height="0.8" fill="#a8b4ff" opacity="0.47"/><rect x="354.5" y="105.8" width="0.8" height="0.8" fill="#6a80ff" opacity="0.36"/><rect x="364.7" y="91.1" width="0.8" height="0.8" fill="#a8b4ff" opacity="0.42"/><rect x="371.7" y="93.0" width="0.8" height="0.8" fill="#90a4ff" opacity="0.45"/><rect x="370.2" y="86.1" width="0.8" height="0.8" fill="#a8b4ff" opacity="0.47"/><rect x="360.2" y="104.3" width="0.8" height="0.8" fill="#90a4ff" opacity="0.27"/><rect x="370.4" y="94.6" width="0.8" height="0.8" fill="#6a80ff" opacity="0.24"/><rect x="378.4" y="85.5" width="0.8" height="0.8" fill="#6a80ff" opacity="0.33"/><rect x="365.6" y="95.4" width="0.8" height="0.8" fill="#6a80ff" opacity="0.28"/><rect x="355.7" y="99.1" width="0.8" height="0.8" fill="#90a4ff" opacity="0.23"/><rect x="363.5" y="93.6" width="0.8" height="0.8" fill="#7a90ff" opacity="0.22"/><rect x="365.2" y="89.7" width="0.8" height="0.8" fill="#a8b4ff" opacity="0.16"/><rect x="361.9" y="99.0" width="0.8" height="0.8" fill="#a8b4ff" opacity="0.46"/><rect x="356.9" y="95.4" width="0.8" height="0.8" fill="#6a80ff" opacity="0.31"/><rect x="365.4" y="84.6" width="0.8" height="0.8" fill="#6a80ff" opacity="0.22"/><rect x="374.0" y="88.3" width="0.8" height="0.8" fill="#a8b4ff" opacity="0.47"/><rect x="356.0" y="96.3" width="0.8" height="0.8" fill="#7a90ff" opacity="0.35"/><rect x="351.3" y="104.4" width="0.8" height="0.8" fill="#7a90ff" opacity="0.45"/><rect x="378.0" y="92.1" width="0.8" height="0.8" fill="#a8b4ff" opacity="0.25"/><rect x="374.7" y="89.2" width="0.8" height="0.8" fill="#7a90ff" opacity="0.34"/><rect x="372.8" y="92.8" width="0.8" height="0.8" fill="#a8b4ff" opacity="0.47"/><rect x="368.0" y="87.5" width="0.8" height="0.8" fill="#90a4ff" opacity="0.47"/><rect x="368.0" y="95.0" width="0.8" height="0.8" fill="#a8b4ff" opacity="0.47"/><rect x="357.9" y="92.1" width="0.8" height="0.8" fill="#6a80ff" opacity="0.39"/><rect x="362.6" y="94.5" width="0.8" height="0.8" fill="#7a90ff" opacity="0.46"/><rect x="367.6" y="96.2" width="0.8" height="0.8" fill="#a8b4ff" opacity="0.26"/><rect x="367.3" y="96.1" width="0.8" height="0.8" fill="#6a80ff" opacity="0.25"/><rect x="359.3" y="97.8" width="0.8" height="0.8" fill="#a8b4ff" opacity="0.34"/><rect x="366.7" y="97.4" width="0.8" height="0.8" fill="#a8b4ff" opacity="0.34"/><rect x="379.5" y="88.1" width="0.8" height="0.8" fill="#a8b4ff" opacity="0.20"/><rect x="368.9" y="89.8" width="0.8" height="0.8" fill="#90a4ff" opacity="0.20"/><rect x="358.2" y="95.5" width="0.8" height="0.8" fill="#6a80ff" opacity="0.49"/><rect x="375.0" y="89.9" width="0.8" height="0.8" fill="#6a80ff" opacity="0.32"/><rect x="362.2" y="94.8" width="0.8" height="0.8" fill="#a8b4ff" opacity="0.40"/><rect x="363.3" y="96.2" width="0.8" height="0.8" fill="#6a80ff" opacity="0.21"/><rect x="354.1" y="98.3" width="0.8" height="0.8" fill="#7a90ff" opacity="0.40"/><rect x="370.7" y="82.4" width="0.8" height="0.8" fill="#a8b4ff" opacity="0.34"/><rect x="374.2" y="87.1" width="0.8" height="0.8" fill="#90a4ff" opacity="0.33"/><rect x="365.6" y="95.3" width="0.8" height="0.8" fill="#a8b4ff" opacity="0.43"/><rect x="368.5" y="94.6" width="0.8" height="0.8" fill="#a8b4ff" opacity="0.46"/><rect x="355.3" y="94.2" width="0.8" height="0.8" fill="#6a80ff" opacity="0.34"/><rect x="366.9" y="94.8" width="0.8" height="0.8" fill="#90a4ff" opacity="0.30"/><rect x="355.8" y="101.7" width="0.8" height="0.8" fill="#90a4ff" opacity="0.33"/><rect x="371.6" y="93.4" width="0.8" height="0.8" fill="#a8b4ff" opacity="0.16"/><rect x="350.8" y="96.5" width="0.8" height="0.8" fill="#90a4ff" opacity="0.33"/><rect x="374.3" y="90.2" width="0.8" height="0.8" fill="#90a4ff" opacity="0.32"/><rect x="361.7" y="91.0" width="0.8" height="0.8" fill="#a8b4ff" opacity="0.41"/><rect x="369.9" y="100.3" width="0.8" height="0.8" fill="#a8b4ff" opacity="0.20"/><rect x="376.7" y="88.6" width="0.8" height="0.8" fill="#6a80ff" opacity="0.29"/><rect x="369.0" y="91.5" width="0.8" height="0.8" fill="#6a80ff" opacity="0.18"/><rect x="370.6" y="92.9" width="0.8" height="0.8" fill="#90a4ff" opacity="0.47"/><rect x="352.4" y="100.7" width="0.8" height="0.8" fill="#90a4ff" opacity="0.30"/><rect x="374.4" y="95.5" width="0.8" height="0.8" fill="#6a80ff" opacity="0.36"/><rect x="368.9" y="98.4" width="0.8" height="0.8" fill="#a8b4ff" opacity="0.47"/><rect x="355.3" y="98.3" width="0.8" height="0.8" fill="#7a90ff" opacity="0.21"/><rect x="378.2" y="88.8" width="0.8" height="0.8" fill="#6a80ff" opacity="0.29"/><rect x="371.5" y="89.7" width="0.8" height="0.8" fill="#7a90ff" opacity="0.21"/><rect x="352.1" y="104.8" width="0.8" height="0.8" fill="#a8b4ff" opacity="0.47"/><rect x="357.5" y="105.5" width="0.8" height="0.8" fill="#a8b4ff" opacity="0.33"/><rect x="365.9" y="89.6" width="0.8" height="0.8" fill="#6a80ff" opacity="0.18"/><rect x="365.4" y="90.1" width="0.8" height="0.8" fill="#90a4ff" opacity="0.35"/><rect x="369.5" y="89.5" width="0.8" height="0.8" fill="#a8b4ff" opacity="0.37"/><rect x="356.3" y="96.3" width="0.8" height="0.8" fill="#6a80ff" opacity="0.46"/><rect x="355.5" y="107.1" width="0.8" height="0.8" fill="#a8b4ff" opacity="0.20"/><rect x="363.8" y="96.6" width="0.8" height="0.8" fill="#a8b4ff" opacity="0.32"/><rect x="375.3" y="88.4" width="0.8" height="0.8" fill="#a8b4ff" opacity="0.29"/><rect x="361.7" y="93.4" width="0.8" height="0.8" fill="#a8b4ff" opacity="0.27"/><rect x="374.6" y="86.6" width="0.8" height="0.8" fill="#7a90ff" opacity="0.45"/><rect x="366.0" y="92.0" width="0.8" height="0.8" fill="#90a4ff" opacity="0.19"/><rect x="360.1" y="101.4" width="0.8" height="0.8" fill="#a8b4ff" opacity="0.31"/><rect x="365.2" y="96.3" width="0.8" height="0.8" fill="#90a4ff" opacity="0.20"/><rect x="360.5" y="95.3" width="0.8" height="0.8" fill="#6a80ff" opacity="0.43"/></g>
<ellipse cx="352.5" cy="101.1" rx="12" ry="3.4" fill="url(#tail)" transform="rotate(-48 352.5 101.1)"/>
<ellipse cx="347.5" cy="106.5" rx="4" ry="2.2" fill="url(#corner)" transform="rotate(-50 347.5 106.5)"/>
<ellipse cx="352.29999999999995" cy="88.3" rx="4.6" ry="6.8" fill="url(#blobA)"/>
<polygon points="352.0,78.4 357.4,82.7 358.1,88.8 357.4,91.8 352.2,94.3 347.1,93.4 346.6,83.2" fill="none" stroke="#3a3a3a" stroke-width="0.7"/>
<text x="353.7" y="70.9" font-size="7.6" font-weight="normal" fill="#2e2e2e" textLength="18.7" lengthAdjust="spacingAndGlyphs" stroke="#2e2e2e" stroke-width="0.18">61.3%</text>
<text x="339.4" y="118.3" font-size="6.8" font-weight="bold" fill="#1a1a1a" stroke="#1a1a1a" stroke-width="0.25">0</text>
<text x="358.0" y="118.3" font-size="6.8" font-weight="bold" fill="#1a1a1a" textLength="14.6" lengthAdjust="spacingAndGlyphs" stroke="#1a1a1a" stroke-width="0.25">400k</text>
<text x="387.7" y="118.3" font-size="6.8" font-weight="bold" fill="#1a1a1a" textLength="15.0" lengthAdjust="spacingAndGlyphs" stroke="#1a1a1a" stroke-width="0.25">1.0M</text>
<text x="341.29999999999995" y="56.3" font-size="7.0" font-weight="normal" fill="#1a1a1a" text-anchor="middle" textLength="15.4" lengthAdjust="spacingAndGlyphs" transform="rotate(-90 341.29999999999995 56.3)" stroke="#1a1a1a" stroke-width="0.12">1.2M</text>
<text x="341.29999999999995" y="82.4" font-size="7.0" font-weight="normal" fill="#1a1a1a" text-anchor="middle" textLength="15.4" lengthAdjust="spacingAndGlyphs" transform="rotate(-90 341.29999999999995 82.4)" stroke="#1a1a1a" stroke-width="0.12">600K</text>
<text x="8.9" y="81.1" font-size="5.7" font-weight="bold" fill="#1a1a1a" text-anchor="middle" textLength="18.8" lengthAdjust="spacingAndGlyphs" transform="rotate(-90 8.9 81.1)" stroke="#1a1a1a" stroke-width="0.3">FSC-H</text>
<text x="200.8" y="134.0" font-size="6.3" font-weight="bold" fill="#1a1a1a" textLength="19.4" lengthAdjust="spacingAndGlyphs" stroke="#1a1a1a" stroke-width="0.3">SSC-H</text>
<path d="M12.1,141.3 L12.1,225.2 Q12.1,226.7 13.6,226.7 L405.1,226.7" fill="none" stroke="#787878" stroke-width="1.9"/>
<polygon points="12.1,137.0 9.5,142.0 14.7,142.0" fill="#111"/>
<polygon points="409.40000000000003,226.7 404.20000000000005,224.2 404.20000000000005,229.2" fill="#111"/>
<rect x="31.5" y="148.7" width="53.6" height="56.0" fill="#fff" stroke="#a8a8a8" stroke-width="0.9"/>
<line x1="30.2" y1="204.2" x2="31.5" y2="204.2" stroke="#888" stroke-width="0.6"/>
<line x1="30.2" y1="193.2" x2="31.5" y2="193.2" stroke="#888" stroke-width="0.6"/>
<line x1="30.2" y1="182.2" x2="31.5" y2="182.2" stroke="#888" stroke-width="0.6"/>
<line x1="30.2" y1="171.2" x2="31.5" y2="171.2" stroke="#888" stroke-width="0.6"/>
<line x1="30.2" y1="160.2" x2="31.5" y2="160.2" stroke="#888" stroke-width="0.6"/>
<line x1="30.2" y1="149.2" x2="31.5" y2="149.2" stroke="#888" stroke-width="0.6"/>
<line x1="32.5" y1="204.7" x2="32.5" y2="205.89999999999998" stroke="#888" stroke-width="0.6"/>
<line x1="39.5" y1="204.7" x2="39.5" y2="205.89999999999998" stroke="#888" stroke-width="0.6"/>
<line x1="46.5" y1="204.7" x2="46.5" y2="205.89999999999998" stroke="#888" stroke-width="0.6"/>
<line x1="53.5" y1="204.7" x2="53.5" y2="205.89999999999998" stroke="#888" stroke-width="0.6"/>
<line x1="60.5" y1="204.7" x2="60.5" y2="205.89999999999998" stroke="#888" stroke-width="0.6"/>
<line x1="67.5" y1="204.7" x2="67.5" y2="205.89999999999998" stroke="#888" stroke-width="0.6"/>
<line x1="74.5" y1="204.7" x2="74.5" y2="205.89999999999998" stroke="#888" stroke-width="0.6"/>
<line x1="81.5" y1="204.7" x2="81.5" y2="205.89999999999998" stroke="#888" stroke-width="0.6"/>
<path d="M48.0,204.7 L48.0,204.7 L49.0,203.2 L49.9,198.7 L50.6,184.7 L51.2,159.5 L51.6,153.5 L52.2,161.5 L52.8,180.7 L53.5,198.7 L53.7,204.1 L54.5,204.7 L54.5,204.7 Z" fill="#8c8c8c" stroke="#5a5a5a" stroke-width="0.75" stroke-linejoin="round"/>
<line x1="53.800000000000004" y1="168.0" x2="85.1" y2="168.0" stroke="#6a6a6a" stroke-width="1.1"/>
<line x1="53.800000000000004" y1="166.4" x2="53.800000000000004" y2="169.6" stroke="#6a6a6a" stroke-width="0.7"/>
<line x1="84.69999999999999" y1="166.4" x2="84.69999999999999" y2="169.6" stroke="#6a6a6a" stroke-width="0.7"/>
<text x="59.6" y="162.1" font-size="7.4" font-weight="normal" fill="#2e2e2e" textLength="18.5" lengthAdjust="spacingAndGlyphs" stroke="#2e2e2e" stroke-width="0.18">1.87%</text>
<text x="26.0" y="213.6" font-size="6.8" font-weight="bold" fill="#1a1a1a" stroke="#1a1a1a" stroke-width="0.25">0</text>
<text x="55.4" y="213.79999999999998" font-size="6.3" font-weight="bold" fill="#111" stroke="#111" stroke-width="0.28">10<tspan font-size="4" dy="-2.4">3</tspan></text>
<text x="80.3" y="213.79999999999998" font-size="6.3" font-weight="bold" fill="#111" stroke="#111" stroke-width="0.28">10<tspan font-size="4" dy="-2.4">6</tspan></text>
<text x="29.0" y="148.0" font-size="6.6" font-weight="normal" fill="#1a1a1a" text-anchor="middle" textLength="11.2" lengthAdjust="spacingAndGlyphs" transform="rotate(-90 29.0 148.0)" stroke="#1a1a1a" stroke-width="0.15">800</text>
<text x="29.0" y="191.5" font-size="6.6" font-weight="normal" fill="#1a1a1a" text-anchor="middle" textLength="11.2" lengthAdjust="spacingAndGlyphs" transform="rotate(-90 29.0 191.5)" stroke="#1a1a1a" stroke-width="0.15">200</text>
<rect x="108.0" y="148.7" width="53.6" height="56.0" fill="#fff" stroke="#a8a8a8" stroke-width="0.9"/>
<line x1="106.7" y1="204.2" x2="108.0" y2="204.2" stroke="#888" stroke-width="0.6"/>
<line x1="106.7" y1="193.2" x2="108.0" y2="193.2" stroke="#888" stroke-width="0.6"/>
<line x1="106.7" y1="182.2" x2="108.0" y2="182.2" stroke="#888" stroke-width="0.6"/>
<line x1="106.7" y1="171.2" x2="108.0" y2="171.2" stroke="#888" stroke-width="0.6"/>
<line x1="106.7" y1="160.2" x2="108.0" y2="160.2" stroke="#888" stroke-width="0.6"/>
<line x1="106.7" y1="149.2" x2="108.0" y2="149.2" stroke="#888" stroke-width="0.6"/>
<line x1="109.0" y1="204.7" x2="109.0" y2="205.89999999999998" stroke="#888" stroke-width="0.6"/>
<line x1="116.0" y1="204.7" x2="116.0" y2="205.89999999999998" stroke="#888" stroke-width="0.6"/>
<line x1="123.0" y1="204.7" x2="123.0" y2="205.89999999999998" stroke="#888" stroke-width="0.6"/>
<line x1="130.0" y1="204.7" x2="130.0" y2="205.89999999999998" stroke="#888" stroke-width="0.6"/>
<line x1="137.0" y1="204.7" x2="137.0" y2="205.89999999999998" stroke="#888" stroke-width="0.6"/>
<line x1="144.0" y1="204.7" x2="144.0" y2="205.89999999999998" stroke="#888" stroke-width="0.6"/>
<line x1="151.0" y1="204.7" x2="151.0" y2="205.89999999999998" stroke="#888" stroke-width="0.6"/>
<line x1="158.0" y1="204.7" x2="158.0" y2="205.89999999999998" stroke="#888" stroke-width="0.6"/>
<path d="M122.8,204.7 L122.8,204.7 L123.8,203.2 L124.7,198.7 L125.4,184.7 L126.0,159.5 L126.4,153.5 L127.0,161.5 L127.6,180.7 L128.3,198.7 L130.8,202.7 L134.0,203.2 L138.0,203.0 L142.0,203.2 L145.0,203.2 L147.0,203.9 L148.5,204.7 L148.5,204.7 Z" fill="#8c8c8c" stroke="#5a5a5a" stroke-width="0.75" stroke-linejoin="round"/>
<line x1="128.6" y1="168.0" x2="161.6" y2="168.0" stroke="#6a6a6a" stroke-width="1.1"/>
<line x1="128.6" y1="166.4" x2="128.6" y2="169.6" stroke="#6a6a6a" stroke-width="0.7"/>
<line x1="161.2" y1="166.4" x2="161.2" y2="169.6" stroke="#6a6a6a" stroke-width="0.7"/>
<text x="135.7" y="162.1" font-size="7.4" font-weight="normal" fill="#2e2e2e" textLength="18.5" lengthAdjust="spacingAndGlyphs" stroke="#2e2e2e" stroke-width="0.18">15.1%</text>
<text x="102.5" y="213.6" font-size="6.8" font-weight="bold" fill="#1a1a1a" stroke="#1a1a1a" stroke-width="0.25">0</text>
<text x="131.9" y="213.79999999999998" font-size="6.3" font-weight="bold" fill="#111" stroke="#111" stroke-width="0.28">10<tspan font-size="4" dy="-2.4">3</tspan></text>
<text x="156.8" y="213.79999999999998" font-size="6.3" font-weight="bold" fill="#111" stroke="#111" stroke-width="0.28">10<tspan font-size="4" dy="-2.4">6</tspan></text>
<text x="105.5" y="155.89999999999998" font-size="6.6" font-weight="normal" fill="#1a1a1a" text-anchor="middle" textLength="11.2" lengthAdjust="spacingAndGlyphs" transform="rotate(-90 105.5 155.89999999999998)" stroke="#1a1a1a" stroke-width="0.15">600</text>
<text x="105.5" y="189.7" font-size="6.6" font-weight="normal" fill="#1a1a1a" text-anchor="middle" textLength="11.2" lengthAdjust="spacingAndGlyphs" transform="rotate(-90 105.5 189.7)" stroke="#1a1a1a" stroke-width="0.15">200</text>
<rect x="187.5" y="148.7" width="53.6" height="56.0" fill="#fff" stroke="#a8a8a8" stroke-width="0.9"/>
<line x1="186.2" y1="204.2" x2="187.5" y2="204.2" stroke="#888" stroke-width="0.6"/>
<line x1="186.2" y1="193.2" x2="187.5" y2="193.2" stroke="#888" stroke-width="0.6"/>
<line x1="186.2" y1="182.2" x2="187.5" y2="182.2" stroke="#888" stroke-width="0.6"/>
<line x1="186.2" y1="171.2" x2="187.5" y2="171.2" stroke="#888" stroke-width="0.6"/>
<line x1="186.2" y1="160.2" x2="187.5" y2="160.2" stroke="#888" stroke-width="0.6"/>
<line x1="186.2" y1="149.2" x2="187.5" y2="149.2" stroke="#888" stroke-width="0.6"/>
<line x1="188.5" y1="204.7" x2="188.5" y2="205.89999999999998" stroke="#888" stroke-width="0.6"/>
<line x1="195.5" y1="204.7" x2="195.5" y2="205.89999999999998" stroke="#888" stroke-width="0.6"/>
<line x1="202.5" y1="204.7" x2="202.5" y2="205.89999999999998" stroke="#888" stroke-width="0.6"/>
<line x1="209.5" y1="204.7" x2="209.5" y2="205.89999999999998" stroke="#888" stroke-width="0.6"/>
<line x1="216.5" y1="204.7" x2="216.5" y2="205.89999999999998" stroke="#888" stroke-width="0.6"/>
<line x1="223.5" y1="204.7" x2="223.5" y2="205.89999999999998" stroke="#888" stroke-width="0.6"/>
<line x1="230.5" y1="204.7" x2="230.5" y2="205.89999999999998" stroke="#888" stroke-width="0.6"/>
<line x1="237.5" y1="204.7" x2="237.5" y2="205.89999999999998" stroke="#888" stroke-width="0.6"/>
<path d="M202.9,204.7 L202.9,204.7 L203.9,203.2 L204.8,198.7 L205.5,184.7 L206.1,162.9 L206.5,156.9 L207.1,164.9 L207.7,180.7 L208.4,198.7 L210.3,201.5 L213.5,201.9 L216.5,201.7 L219.5,202.3 L222.5,201.5 L225.0,201.9 L227.0,203.7 L228.5,204.7 L228.5,204.7 Z" fill="#8c8c8c" stroke="#5a5a5a" stroke-width="0.75" stroke-linejoin="round"/>
<line x1="208.7" y1="168.0" x2="241.1" y2="168.0" stroke="#6a6a6a" stroke-width="1.1"/>
<line x1="208.7" y1="166.4" x2="208.7" y2="169.6" stroke="#6a6a6a" stroke-width="0.7"/>
<line x1="240.7" y1="166.4" x2="240.7" y2="169.6" stroke="#6a6a6a" stroke-width="0.7"/>
<text x="215.6" y="162.1" font-size="7.4" font-weight="normal" fill="#2e2e2e" textLength="18.5" lengthAdjust="spacingAndGlyphs" stroke="#2e2e2e" stroke-width="0.18">24.7%</text>
<text x="182.0" y="213.6" font-size="6.8" font-weight="bold" fill="#1a1a1a" stroke="#1a1a1a" stroke-width="0.25">0</text>
<text x="211.4" y="213.79999999999998" font-size="6.3" font-weight="bold" fill="#111" stroke="#111" stroke-width="0.28">10<tspan font-size="4" dy="-2.4">3</tspan></text>
<text x="236.3" y="213.79999999999998" font-size="6.3" font-weight="bold" fill="#111" stroke="#111" stroke-width="0.28">10<tspan font-size="4" dy="-2.4">6</tspan></text>
<text x="185.0" y="162.0" font-size="6.6" font-weight="normal" fill="#1a1a1a" text-anchor="middle" textLength="11.2" lengthAdjust="spacingAndGlyphs" transform="rotate(-90 185.0 162.0)" stroke="#1a1a1a" stroke-width="0.15">300</text>
<text x="185.0" y="191.7" font-size="6.6" font-weight="normal" fill="#1a1a1a" text-anchor="middle" textLength="11.2" lengthAdjust="spacingAndGlyphs" transform="rotate(-90 185.0 191.7)" stroke="#1a1a1a" stroke-width="0.15">100</text>
<rect x="267.7" y="148.7" width="53.6" height="56.0" fill="#fff" stroke="#a8a8a8" stroke-width="0.9"/>
<line x1="266.4" y1="204.2" x2="267.7" y2="204.2" stroke="#888" stroke-width="0.6"/>
<line x1="266.4" y1="193.2" x2="267.7" y2="193.2" stroke="#888" stroke-width="0.6"/>
<line x1="266.4" y1="182.2" x2="267.7" y2="182.2" stroke="#888" stroke-width="0.6"/>
<line x1="266.4" y1="171.2" x2="267.7" y2="171.2" stroke="#888" stroke-width="0.6"/>
<line x1="266.4" y1="160.2" x2="267.7" y2="160.2" stroke="#888" stroke-width="0.6"/>
<line x1="266.4" y1="149.2" x2="267.7" y2="149.2" stroke="#888" stroke-width="0.6"/>
<line x1="268.7" y1="204.7" x2="268.7" y2="205.89999999999998" stroke="#888" stroke-width="0.6"/>
<line x1="275.7" y1="204.7" x2="275.7" y2="205.89999999999998" stroke="#888" stroke-width="0.6"/>
<line x1="282.7" y1="204.7" x2="282.7" y2="205.89999999999998" stroke="#888" stroke-width="0.6"/>
<line x1="289.7" y1="204.7" x2="289.7" y2="205.89999999999998" stroke="#888" stroke-width="0.6"/>
<line x1="296.7" y1="204.7" x2="296.7" y2="205.89999999999998" stroke="#888" stroke-width="0.6"/>
<line x1="303.7" y1="204.7" x2="303.7" y2="205.89999999999998" stroke="#888" stroke-width="0.6"/>
<line x1="310.7" y1="204.7" x2="310.7" y2="205.89999999999998" stroke="#888" stroke-width="0.6"/>
<line x1="317.7" y1="204.7" x2="317.7" y2="205.89999999999998" stroke="#888" stroke-width="0.6"/>
<path d="M283.2,204.7 L283.2,204.7 L284.2,203.2 L285.1,198.7 L285.8,184.7 L286.3,159.1 L286.8,153.1 L287.4,161.1 L288.0,180.7 L288.7,198.7 L290.5,202.9 L294.7,203.4 L298.7,203.2 L301.7,203.3 L304.7,203.5 L306.7,204.2 L307.7,204.7 L307.7,204.7 Z" fill="#8c8c8c" stroke="#5a5a5a" stroke-width="0.75" stroke-linejoin="round"/>
<line x1="289.0" y1="168.0" x2="321.3" y2="168.0" stroke="#6a6a6a" stroke-width="1.1"/>
<line x1="289.0" y1="166.4" x2="289.0" y2="169.6" stroke="#6a6a6a" stroke-width="0.7"/>
<line x1="320.90000000000003" y1="166.4" x2="320.90000000000003" y2="169.6" stroke="#6a6a6a" stroke-width="0.7"/>
<text x="295.3" y="162.1" font-size="7.4" font-weight="normal" fill="#2e2e2e" textLength="18.5" lengthAdjust="spacingAndGlyphs" stroke="#2e2e2e" stroke-width="0.18">13.4%</text>
<text x="262.2" y="213.6" font-size="6.8" font-weight="bold" fill="#1a1a1a" stroke="#1a1a1a" stroke-width="0.25">0</text>
<text x="291.59999999999997" y="213.79999999999998" font-size="6.3" font-weight="bold" fill="#111" stroke="#111" stroke-width="0.28">10<tspan font-size="4" dy="-2.4">3</tspan></text>
<text x="316.5" y="213.79999999999998" font-size="6.3" font-weight="bold" fill="#111" stroke="#111" stroke-width="0.28">10<tspan font-size="4" dy="-2.4">6</tspan></text>
<text x="265.2" y="149.2" font-size="6.6" font-weight="normal" fill="#1a1a1a" text-anchor="middle" textLength="11.2" lengthAdjust="spacingAndGlyphs" transform="rotate(-90 265.2 149.2)" stroke="#1a1a1a" stroke-width="0.15">500</text>
<text x="265.2" y="182.7" font-size="6.6" font-weight="normal" fill="#1a1a1a" text-anchor="middle" textLength="11.2" lengthAdjust="spacingAndGlyphs" transform="rotate(-90 265.2 182.7)" stroke="#1a1a1a" stroke-width="0.15">200</text>
<rect x="345.3" y="148.7" width="53.6" height="56.0" fill="#fff" stroke="#a8a8a8" stroke-width="0.9"/>
<line x1="344.0" y1="204.2" x2="345.3" y2="204.2" stroke="#888" stroke-width="0.6"/>
<line x1="344.0" y1="193.2" x2="345.3" y2="193.2" stroke="#888" stroke-width="0.6"/>
<line x1="344.0" y1="182.2" x2="345.3" y2="182.2" stroke="#888" stroke-width="0.6"/>
<line x1="344.0" y1="171.2" x2="345.3" y2="171.2" stroke="#888" stroke-width="0.6"/>
<line x1="344.0" y1="160.2" x2="345.3" y2="160.2" stroke="#888" stroke-width="0.6"/>
<line x1="344.0" y1="149.2" x2="345.3" y2="149.2" stroke="#888" stroke-width="0.6"/>
<line x1="346.3" y1="204.7" x2="346.3" y2="205.89999999999998" stroke="#888" stroke-width="0.6"/>
<line x1="353.3" y1="204.7" x2="353.3" y2="205.89999999999998" stroke="#888" stroke-width="0.6"/>
<line x1="360.3" y1="204.7" x2="360.3" y2="205.89999999999998" stroke="#888" stroke-width="0.6"/>
<line x1="367.3" y1="204.7" x2="367.3" y2="205.89999999999998" stroke="#888" stroke-width="0.6"/>
<line x1="374.3" y1="204.7" x2="374.3" y2="205.89999999999998" stroke="#888" stroke-width="0.6"/>
<line x1="381.3" y1="204.7" x2="381.3" y2="205.89999999999998" stroke="#888" stroke-width="0.6"/>
<line x1="388.3" y1="204.7" x2="388.3" y2="205.89999999999998" stroke="#888" stroke-width="0.6"/>
<line x1="395.3" y1="204.7" x2="395.3" y2="205.89999999999998" stroke="#888" stroke-width="0.6"/>
<path d="M361.3,204.7 L361.3,204.7 L362.3,203.2 L363.2,198.7 L363.9,184.7 L364.4,159.1 L364.9,153.1 L365.5,161.1 L366.1,180.7 L366.8,198.7 L368.5,201.7 L371.3,202.3 L374.3,201.9 L377.3,202.1 L380.3,201.7 L382.8,201.3 L384.8,202.7 L386.8,204.7 L386.8,204.7 Z" fill="#8c8c8c" stroke="#5a5a5a" stroke-width="0.75" stroke-linejoin="round"/>
<line x1="367.1" y1="168.0" x2="398.90000000000003" y2="168.0" stroke="#6a6a6a" stroke-width="1.1"/>
<line x1="367.1" y1="166.4" x2="367.1" y2="169.6" stroke="#6a6a6a" stroke-width="0.7"/>
<line x1="398.50000000000006" y1="166.4" x2="398.50000000000006" y2="169.6" stroke="#6a6a6a" stroke-width="0.7"/>
<text x="372.8" y="162.1" font-size="7.4" font-weight="normal" fill="#2e2e2e" textLength="18.5" lengthAdjust="spacingAndGlyphs" stroke="#2e2e2e" stroke-width="0.18">22.2%</text>
<text x="339.8" y="213.6" font-size="6.8" font-weight="bold" fill="#1a1a1a" stroke="#1a1a1a" stroke-width="0.25">0</text>
<text x="369.2" y="213.79999999999998" font-size="6.3" font-weight="bold" fill="#111" stroke="#111" stroke-width="0.28">10<tspan font-size="4" dy="-2.4">3</tspan></text>
<text x="394.1" y="213.79999999999998" font-size="6.3" font-weight="bold" fill="#111" stroke="#111" stroke-width="0.28">10<tspan font-size="4" dy="-2.4">6</tspan></text>
<text x="342.8" y="157.1" font-size="6.6" font-weight="normal" fill="#1a1a1a" text-anchor="middle" textLength="11.2" lengthAdjust="spacingAndGlyphs" transform="rotate(-90 342.8 157.1)" stroke="#1a1a1a" stroke-width="0.15">300</text>
<text x="342.8" y="189.39999999999998" font-size="6.6" font-weight="normal" fill="#1a1a1a" text-anchor="middle" textLength="11.2" lengthAdjust="spacingAndGlyphs" transform="rotate(-90 342.8 189.39999999999998)" stroke="#1a1a1a" stroke-width="0.15">100</text>
<text x="8.7" y="181.6" font-size="6.4" font-weight="bold" fill="#1a1a1a" text-anchor="middle" textLength="18.4" lengthAdjust="spacingAndGlyphs" transform="rotate(-90 8.7 181.6)" stroke="#1a1a1a" stroke-width="0.3">count</text>
<text x="200.8" y="233.5" font-size="6.3" font-weight="bold" fill="#1a1a1a" textLength="20.2" lengthAdjust="spacingAndGlyphs" stroke="#1a1a1a" stroke-width="0.3">BL1-H</text>
<text x="5.6" y="271.2" font-size="16.8" font-weight="normal" fill="#1a1a1a" textLength="11.2" lengthAdjust="spacingAndGlyphs">C</text>
<text x="189.4" y="278.9" font-size="14.3" font-weight="bold" fill="#1a1a1a" textLength="40.0" lengthAdjust="spacingAndGlyphs">THP-1</text>
<rect x="189.2" y="281.1" width="40.4" height="1.6" fill="#1a1a1a" stroke="none" stroke-width="1"/>
<text x="56.2" y="311.0" font-size="8.8" font-weight="bold" fill="#1a1a1a" textLength="10.2" lengthAdjust="spacingAndGlyphs" stroke="#1a1a1a" stroke-width="0.3">wt</text>
<text x="111.6" y="311.0" font-size="8.8" font-weight="bold" fill="#1a1a1a" textLength="49.8" lengthAdjust="spacingAndGlyphs" stroke="#1a1a1a" stroke-width="0.3">transduction</text>
<text x="190.2" y="299.2" font-size="8.8" font-weight="bold" fill="#1a1a1a" textLength="49.6" lengthAdjust="spacingAndGlyphs" stroke="#1a1a1a" stroke-width="0.3">transduction</text>
<text x="190.2" y="311.0" font-size="8.8" font-weight="bold" fill="#1a1a1a" textLength="46.8" lengthAdjust="spacingAndGlyphs" stroke="#1a1a1a" stroke-width="0.3">+ polybrene</text>
<text x="269.2" y="311.0" font-size="8.8" font-weight="bold" fill="#1a1a1a" textLength="53.2" lengthAdjust="spacingAndGlyphs" stroke="#1a1a1a" stroke-width="0.3">spinoculation</text>
<text x="347.2" y="299.2" font-size="8.8" font-weight="bold" fill="#1a1a1a" textLength="53.2" lengthAdjust="spacingAndGlyphs" stroke="#1a1a1a" stroke-width="0.3">spinoculation</text>
<text x="347.2" y="311.0" font-size="8.8" font-weight="bold" fill="#1a1a1a" textLength="46.8" lengthAdjust="spacingAndGlyphs" stroke="#1a1a1a" stroke-width="0.3">+ polybrene</text>
<path d="M12.1,309.5 L12.1,393.4 Q12.1,394.9 13.6,394.9 L405.1,394.9" fill="none" stroke="#787878" stroke-width="1.9"/>
<polygon points="12.1,305.2 9.5,310.2 14.7,310.2" fill="#111"/>
<polygon points="409.40000000000003,394.9 404.20000000000005,392.4 404.20000000000005,397.4" fill="#111"/>
<rect x="31.5" y="320.3" width="53.6" height="56.0" fill="#fff" stroke="#a8a8a8" stroke-width="0.9"/>
<line x1="30.2" y1="375.6" x2="31.5" y2="375.6" stroke="#888" stroke-width="0.6"/>
<line x1="30.2" y1="362.55" x2="31.5" y2="362.55" stroke="#888" stroke-width="0.6"/>
<line x1="30.2" y1="349.5" x2="31.5" y2="349.5" stroke="#888" stroke-width="0.6"/>
<line x1="30.2" y1="336.45" x2="31.5" y2="336.45" stroke="#888" stroke-width="0.6"/>
<line x1="30.2" y1="323.40000000000003" x2="31.5" y2="323.40000000000003" stroke="#888" stroke-width="0.6"/>
<line x1="32.5" y1="376.3" x2="32.5" y2="377.5" stroke="#888" stroke-width="0.6"/>
<line x1="39.5" y1="376.3" x2="39.5" y2="377.5" stroke="#888" stroke-width="0.6"/>
<line x1="46.5" y1="376.3" x2="46.5" y2="377.5" stroke="#888" stroke-width="0.6"/>
<line x1="53.5" y1="376.3" x2="53.5" y2="377.5" stroke="#888" stroke-width="0.6"/>
<line x1="60.5" y1="376.3" x2="60.5" y2="377.5" stroke="#888" stroke-width="0.6"/>
<line x1="67.5" y1="376.3" x2="67.5" y2="377.5" stroke="#888" stroke-width="0.6"/>
<line x1="74.5" y1="376.3" x2="74.5" y2="377.5" stroke="#888" stroke-width="0.6"/>
<line x1="81.5" y1="376.3" x2="81.5" y2="377.5" stroke="#888" stroke-width="0.6"/>
<ellipse cx="47.5" cy="358.3" rx="10" ry="8" fill="#c4ccff" opacity="0.3" filter="url(#bl2)" transform="rotate(-25 47.5 358.3)"/>
<g><rect x="47.0" y="352.9" width="0.8" height="0.8" fill="#7a90ff" opacity="0.25"/><rect x="59.4" y="353.2" width="0.8" height="0.8" fill="#90a4ff" opacity="0.43"/><rect x="57.0" y="360.5" width="0.8" height="0.8" fill="#7a90ff" opacity="0.50"/><rect x="63.4" y="349.3" width="0.8" height="0.8" fill="#7a90ff" opacity="0.21"/><rect x="50.1" y="373.7" width="0.8" height="0.8" fill="#a8b4ff" opacity="0.47"/><rect x="44.6" y="365.9" width="0.8" height="0.8" fill="#90a4ff" opacity="0.45"/><rect x="48.8" y="345.8" width="0.8" height="0.8" fill="#a8b4ff" opacity="0.48"/><rect x="55.5" y="352.6" width="0.8" height="0.8" fill="#90a4ff" opacity="0.21"/><rect x="48.8" y="351.3" width="0.8" height="0.8" fill="#7a90ff" opacity="0.47"/><rect x="40.8" y="365.3" width="0.8" height="0.8" fill="#6a80ff" opacity="0.24"/><rect x="48.3" y="356.1" width="0.8" height="0.8" fill="#a8b4ff" opacity="0.49"/><rect x="46.8" y="366.2" width="0.8" height="0.8" fill="#90a4ff" opacity="0.43"/><rect x="45.2" y="363.7" width="0.8" height="0.8" fill="#a8b4ff" opacity="0.27"/><rect x="39.0" y="362.8" width="0.8" height="0.8" fill="#90a4ff" opacity="0.17"/><rect x="47.5" y="359.9" width="0.8" height="0.8" fill="#7a90ff" opacity="0.43"/><rect x="64.8" y="347.5" width="0.8" height="0.8" fill="#6a80ff" opacity="0.23"/><rect x="50.2" y="359.2" width="0.8" height="0.8" fill="#7a90ff" opacity="0.32"/><rect x="46.4" y="354.9" width="0.8" height="0.8" fill="#7a90ff" opacity="0.46"/><rect x="55.9" y="347.9" width="0.8" height="0.8" fill="#a8b4ff" opacity="0.25"/><rect x="36.7" y="355.7" width="0.8" height="0.8" fill="#6a80ff" opacity="0.29"/><rect x="52.8" y="351.2" width="0.8" height="0.8" fill="#7a90ff" opacity="0.16"/><rect x="58.4" y="349.9" width="0.8" height="0.8" fill="#7a90ff" opacity="0.47"/><rect x="42.9" y="357.2" width="0.8" height="0.8" fill="#a8b4ff" opacity="0.24"/><rect x="52.3" y="345.8" width="0.8" height="0.8" fill="#a8b4ff" opacity="0.24"/><rect x="42.9" y="359.2" width="0.8" height="0.8" fill="#a8b4ff" opacity="0.38"/><rect x="50.5" y="350.6" width="0.8" height="0.8" fill="#a8b4ff" opacity="0.22"/><rect x="41.5" y="364.2" width="0.8" height="0.8" fill="#90a4ff" opacity="0.35"/><rect x="59.5" y="350.3" width="0.8" height="0.8" fill="#90a4ff" opacity="0.30"/><rect x="56.2" y="351.3" width="0.8" height="0.8" fill="#a8b4ff" opacity="0.47"/><rect x="47.4" y="363.7" width="0.8" height="0.8" fill="#90a4ff" opacity="0.19"/><rect x="54.9" y="360.3" width="0.8" height="0.8" fill="#a8b4ff" opacity="0.16"/><rect x="56.3" y="356.0" width="0.8" height="0.8" fill="#90a4ff" opacity="0.40"/><rect x="42.1" y="359.8" width="0.8" height="0.8" fill="#90a4ff" opacity="0.30"/><rect x="57.0" y="351.2" width="0.8" height="0.8" fill="#90a4ff" opacity="0.23"/><rect x="40.8" y="357.5" width="0.8" height="0.8" fill="#a8b4ff" opacity="0.26"/><rect x="58.5" y="347.7" width="0.8" height="0.8" fill="#7a90ff" opacity="0.29"/><rect x="47.6" y="358.5" width="0.8" height="0.8" fill="#90a4ff" opacity="0.42"/><rect x="55.8" y="344.3" width="0.8" height="0.8" fill="#7a90ff" opacity="0.39"/><rect x="43.8" y="357.1" width="0.8" height="0.8" fill="#a8b4ff" opacity="0.24"/><rect x="51.0" y="356.3" width="0.8" height="0.8" fill="#90a4ff" opacity="0.24"/><rect x="48.7" y="352.4" width="0.8" height="0.8" fill="#a8b4ff" opacity="0.28"/><rect x="51.4" y="356.6" width="0.8" height="0.8" fill="#a8b4ff" opacity="0.32"/><rect x="42.5" y="362.7" width="0.8" height="0.8" fill="#7a90ff" opacity="0.26"/><rect x="53.5" y="354.7" width="0.8" height="0.8" fill="#6a80ff" opacity="0.35"/><rect x="46.2" y="355.8" width="0.8" height="0.8" fill="#a8b4ff" opacity="0.31"/><rect x="46.6" y="353.9" width="0.8" height="0.8" fill="#6a80ff" opacity="0.37"/><rect x="50.0" y="358.5" width="0.8" height="0.8" fill="#7a90ff" opacity="0.25"/><rect x="47.0" y="359.9" width="0.8" height="0.8" fill="#7a90ff" opacity="0.41"/><rect x="50.7" y="363.4" width="0.8" height="0.8" fill="#6a80ff" opacity="0.24"/><rect x="47.7" y="355.7" width="0.8" height="0.8" fill="#90a4ff" opacity="0.34"/><rect x="51.7" y="353.9" width="0.8" height="0.8" fill="#90a4ff" opacity="0.39"/><rect x="44.3" y="355.7" width="0.8" height="0.8" fill="#7a90ff" opacity="0.47"/><rect x="55.0" y="353.5" width="0.8" height="0.8" fill="#6a80ff" opacity="0.18"/><rect x="53.6" y="353.5" width="0.8" height="0.8" fill="#90a4ff" opacity="0.45"/><rect x="46.8" y="342.1" width="0.8" height="0.8" fill="#a8b4ff" opacity="0.43"/><rect x="48.4" y="346.5" width="0.8" height="0.8" fill="#6a80ff" opacity="0.25"/><rect x="46.8" y="353.1" width="0.8" height="0.8" fill="#6a80ff" opacity="0.22"/><rect x="54.7" y="352.9" width="0.8" height="0.8" fill="#6a80ff" opacity="0.38"/><rect x="54.0" y="366.1" width="0.8" height="0.8" fill="#90a4ff" opacity="0.32"/><rect x="57.9" y="353.1" width="0.8" height="0.8" fill="#6a80ff" opacity="0.37"/><rect x="40.5" y="363.6" width="0.8" height="0.8" fill="#90a4ff" opacity="0.45"/><rect x="50.8" y="359.0" width="0.8" height="0.8" fill="#90a4ff" opacity="0.47"/><rect x="39.5" y="359.6" width="0.8" height="0.8" fill="#a8b4ff" opacity="0.28"/><rect x="57.4" y="356.8" width="0.8" height="0.8" fill="#90a4ff" opacity="0.17"/><rect x="51.5" y="358.5" width="0.8" height="0.8" fill="#7a90ff" opacity="0.30"/><rect x="45.9" y="353.7" width="0.8" height="0.8" fill="#6a80ff" opacity="0.47"/><rect x="50.0" y="366.4" width="0.8" height="0.8" fill="#a8b4ff" opacity="0.34"/><rect x="46.4" y="358.0" width="0.8" height="0.8" fill="#a8b4ff" opacity="0.35"/><rect x="49.8" y="356.2" width="0.8" height="0.8" fill="#90a4ff" opacity="0.22"/><rect x="46.2" y="351.9" width="0.8" height="0.8" fill="#7a90ff" opacity="0.35"/><rect x="56.4" y="358.2" width="0.8" height="0.8" fill="#90a4ff" opacity="0.18"/><rect x="51.5" y="362.0" width="0.8" height="0.8" fill="#a8b4ff" opacity="0.42"/><rect x="57.9" y="348.2" width="0.8" height="0.8" fill="#90a4ff" opacity="0.39"/><rect x="46.3" y="361.4" width="0.8" height="0.8" fill="#6a80ff" opacity="0.31"/><rect x="60.6" y="348.1" width="0.8" height="0.8" fill="#a8b4ff" opacity="0.45"/><rect x="43.8" y="363.0" width="0.8" height="0.8" fill="#a8b4ff" opacity="0.26"/><rect x="46.3" y="347.1" width="0.8" height="0.8" fill="#6a80ff" opacity="0.17"/><rect x="55.7" y="360.3" width="0.8" height="0.8" fill="#6a80ff" opacity="0.43"/><rect x="58.2" y="352.5" width="0.8" height="0.8" fill="#90a4ff" opacity="0.48"/><rect x="38.5" y="366.6" width="0.8" height="0.8" fill="#7a90ff" opacity="0.47"/><rect x="58.4" y="351.0" width="0.8" height="0.8" fill="#7a90ff" opacity="0.18"/><rect x="48.7" y="358.2" width="0.8" height="0.8" fill="#7a90ff" opacity="0.20"/><rect x="43.5" y="358.1" width="0.8" height="0.8" fill="#7a90ff" opacity="0.17"/><rect x="40.5" y="357.8" width="0.8" height="0.8" fill="#90a4ff" opacity="0.36"/><rect x="38.8" y="355.0" width="0.8" height="0.8" fill="#6a80ff" opacity="0.25"/><rect x="43.0" y="353.8" width="0.8" height="0.8" fill="#a8b4ff" opacity="0.22"/><rect x="46.0" y="360.2" width="0.8" height="0.8" fill="#7a90ff" opacity="0.34"/><rect x="49.9" y="350.4" width="0.8" height="0.8" fill="#a8b4ff" opacity="0.23"/><rect x="42.8" y="360.9" width="0.8" height="0.8" fill="#a8b4ff" opacity="0.17"/><rect x="62.9" y="353.2" width="0.8" height="0.8" fill="#7a90ff" opacity="0.23"/><rect x="52.1" y="358.6" width="0.8" height="0.8" fill="#6a80ff" opacity="0.36"/><rect x="49.4" y="353.2" width="0.8" height="0.8" fill="#a8b4ff" opacity="0.26"/><rect x="49.0" y="359.3" width="0.8" height="0.8" fill="#a8b4ff" opacity="0.48"/><rect x="40.6" y="364.6" width="0.8" height="0.8" fill="#a8b4ff" opacity="0.44"/><rect x="44.1" y="361.0" width="0.8" height="0.8" fill="#6a80ff" opacity="0.32"/><rect x="46.0" y="355.6" width="0.8" height="0.8" fill="#90a4ff" opacity="0.25"/><rect x="50.9" y="349.0" width="0.8" height="0.8" fill="#a8b4ff" opacity="0.33"/><rect x="48.5" y="355.6" width="0.8" height="0.8" fill="#90a4ff" opacity="0.22"/><rect x="52.0" y="359.2" width="0.8" height="0.8" fill="#7a90ff" opacity="0.28"/><rect x="47.9" y="359.3" width="0.8" height="0.8" fill="#7a90ff" opacity="0.42"/><rect x="44.9" y="347.8" width="0.8" height="0.8" fill="#6a80ff" opacity="0.29"/><rect x="44.0" y="368.1" width="0.8" height="0.8" fill="#90a4ff" opacity="0.21"/><rect x="56.5" y="351.5" width="0.8" height="0.8" fill="#90a4ff" opacity="0.26"/><rect x="49.1" y="353.8" width="0.8" height="0.8" fill="#a8b4ff" opacity="0.39"/><rect x="61.4" y="344.9" width="0.8" height="0.8" fill="#90a4ff" opacity="0.48"/><rect x="49.6" y="366.1" width="0.8" height="0.8" fill="#90a4ff" opacity="0.45"/><rect x="48.1" y="352.0" width="0.8" height="0.8" fill="#6a80ff" opacity="0.27"/><rect x="54.1" y="350.2" width="0.8" height="0.8" fill="#90a4ff" opacity="0.41"/><rect x="45.1" y="355.7" width="0.8" height="0.8" fill="#a8b4ff" opacity="0.44"/><rect x="43.9" y="358.6" width="0.8" height="0.8" fill="#7a90ff" opacity="0.25"/></g>
<ellipse cx="38.0" cy="366.3" rx="10" ry="3.0" fill="#a8b4ff" opacity="0.35" filter="url(#bl)" transform="rotate(-55 38.0 366.3)"/>
<ellipse cx="33.3" cy="372.3" rx="4.2" ry="2.0" fill="url(#corner)" transform="rotate(-72 33.3 372.3)"/>
<ellipse cx="39.2" cy="355.1" rx="4.8" ry="6.9" fill="url(#blobC)"/>
<polygon points="38.6,346.0 43.2,350.0 44.2,355.3 43.2,360.5 38.3,362.0 33.7,361.0 33.2,350.2" fill="none" stroke="#3a3a3a" stroke-width="0.7"/>
<text x="39.2" y="336.90000000000003" font-size="7.6" font-weight="normal" fill="#2e2e2e" textLength="18.7" lengthAdjust="spacingAndGlyphs" stroke="#2e2e2e" stroke-width="0.18">86.7%</text>
<text x="26.0" y="385.90000000000003" font-size="6.8" font-weight="bold" fill="#1a1a1a" stroke="#1a1a1a" stroke-width="0.25">0</text>
<text x="44.6" y="385.90000000000003" font-size="6.8" font-weight="bold" fill="#1a1a1a" textLength="14.6" lengthAdjust="spacingAndGlyphs" stroke="#1a1a1a" stroke-width="0.25">400k</text>
<text x="74.3" y="385.90000000000003" font-size="6.8" font-weight="bold" fill="#1a1a1a" textLength="15.0" lengthAdjust="spacingAndGlyphs" stroke="#1a1a1a" stroke-width="0.25">1.0M</text>
<text x="27.9" y="324.5" font-size="7.0" font-weight="normal" fill="#1a1a1a" text-anchor="middle" textLength="15.4" lengthAdjust="spacingAndGlyphs" transform="rotate(-90 27.9 324.5)" stroke="#1a1a1a" stroke-width="0.12">1.2M</text>
<text x="27.9" y="349.40000000000003" font-size="7.0" font-weight="normal" fill="#1a1a1a" text-anchor="middle" textLength="15.4" lengthAdjust="spacingAndGlyphs" transform="rotate(-90 27.9 349.40000000000003)" stroke="#1a1a1a" stroke-width="0.12">600K</text>
<rect x="107.3" y="320.3" width="53.6" height="56.0" fill="#fff" stroke="#a8a8a8" stroke-width="0.9"/>
<line x1="106.0" y1="375.6" x2="107.3" y2="375.6" stroke="#888" stroke-width="0.6"/>
<line x1="106.0" y1="362.55" x2="107.3" y2="362.55" stroke="#888" stroke-width="0.6"/>
<line x1="106.0" y1="349.5" x2="107.3" y2="349.5" stroke="#888" stroke-width="0.6"/>
<line x1="106.0" y1="336.45" x2="107.3" y2="336.45" stroke="#888" stroke-width="0.6"/>
<line x1="106.0" y1="323.40000000000003" x2="107.3" y2="323.40000000000003" stroke="#888" stroke-width="0.6"/>
<line x1="108.3" y1="376.3" x2="108.3" y2="377.5" stroke="#888" stroke-width="0.6"/>
<line x1="115.3" y1="376.3" x2="115.3" y2="377.5" stroke="#888" stroke-width="0.6"/>
<line x1="122.3" y1="376.3" x2="122.3" y2="377.5" stroke="#888" stroke-width="0.6"/>
<line x1="129.3" y1="376.3" x2="129.3" y2="377.5" stroke="#888" stroke-width="0.6"/>
<line x1="136.3" y1="376.3" x2="136.3" y2="377.5" stroke="#888" stroke-width="0.6"/>
<line x1="143.3" y1="376.3" x2="143.3" y2="377.5" stroke="#888" stroke-width="0.6"/>
<line x1="150.3" y1="376.3" x2="150.3" y2="377.5" stroke="#888" stroke-width="0.6"/>
<line x1="157.3" y1="376.3" x2="157.3" y2="377.5" stroke="#888" stroke-width="0.6"/>
<ellipse cx="123.3" cy="358.3" rx="10" ry="8" fill="#c4ccff" opacity="0.3" filter="url(#bl2)" transform="rotate(-25 123.3 358.3)"/>
<g><rect x="121.0" y="361.8" width="0.8" height="0.8" fill="#90a4ff" opacity="0.18"/><rect x="123.1" y="358.6" width="0.8" height="0.8" fill="#7a90ff" opacity="0.41"/><rect x="123.4" y="359.2" width="0.8" height="0.8" fill="#7a90ff" opacity="0.32"/><rect x="123.9" y="354.9" width="0.8" height="0.8" fill="#90a4ff" opacity="0.40"/><rect x="131.0" y="346.5" width="0.8" height="0.8" fill="#6a80ff" opacity="0.19"/><rect x="127.5" y="360.7" width="0.8" height="0.8" fill="#6a80ff" opacity="0.44"/><rect x="116.1" y="356.3" width="0.8" height="0.8" fill="#90a4ff" opacity="0.44"/><rect x="122.6" y="363.2" width="0.8" height="0.8" fill="#90a4ff" opacity="0.24"/><rect x="133.1" y="349.5" width="0.8" height="0.8" fill="#7a90ff" opacity="0.35"/><rect x="128.6" y="357.9" width="0.8" height="0.8" fill="#6a80ff" opacity="0.47"/><rect x="119.8" y="357.3" width="0.8" height="0.8" fill="#90a4ff" opacity="0.36"/><rect x="112.9" y="363.7" width="0.8" height="0.8" fill="#7a90ff" opacity="0.32"/><rect x="129.1" y="349.9" width="0.8" height="0.8" fill="#7a90ff" opacity="0.36"/><rect x="132.5" y="352.4" width="0.8" height="0.8" fill="#7a90ff" opacity="0.48"/><rect x="117.2" y="359.1" width="0.8" height="0.8" fill="#6a80ff" opacity="0.47"/><rect x="113.7" y="360.1" width="0.8" height="0.8" fill="#6a80ff" opacity="0.20"/><rect x="123.7" y="359.6" width="0.8" height="0.8" fill="#7a90ff" opacity="0.21"/><rect x="123.8" y="357.4" width="0.8" height="0.8" fill="#90a4ff" opacity="0.36"/><rect x="132.7" y="348.3" width="0.8" height="0.8" fill="#6a80ff" opacity="0.38"/><rect x="130.2" y="351.8" width="0.8" height="0.8" fill="#a8b4ff" opacity="0.29"/><rect x="127.2" y="359.7" width="0.8" height="0.8" fill="#6a80ff" opacity="0.27"/><rect x="124.5" y="359.2" width="0.8" height="0.8" fill="#a8b4ff" opacity="0.18"/><rect x="124.4" y="350.1" width="0.8" height="0.8" fill="#7a90ff" opacity="0.29"/><rect x="118.6" y="357.9" width="0.8" height="0.8" fill="#7a90ff" opacity="0.44"/><rect x="126.4" y="358.1" width="0.8" height="0.8" fill="#a8b4ff" opacity="0.49"/><rect x="136.2" y="357.7" width="0.8" height="0.8" fill="#6a80ff" opacity="0.41"/><rect x="119.4" y="357.6" width="0.8" height="0.8" fill="#90a4ff" opacity="0.16"/><rect x="135.4" y="352.1" width="0.8" height="0.8" fill="#a8b4ff" opacity="0.50"/><rect x="119.0" y="351.4" width="0.8" height="0.8" fill="#6a80ff" opacity="0.26"/><rect x="124.0" y="355.7" width="0.8" height="0.8" fill="#a8b4ff" opacity="0.48"/><rect x="135.4" y="348.7" width="0.8" height="0.8" fill="#7a90ff" opacity="0.48"/><rect x="120.8" y="358.7" width="0.8" height="0.8" fill="#6a80ff" opacity="0.50"/><rect x="129.2" y="354.7" width="0.8" height="0.8" fill="#7a90ff" opacity="0.35"/><rect x="114.0" y="357.4" width="0.8" height="0.8" fill="#7a90ff" opacity="0.32"/><rect x="125.5" y="359.0" width="0.8" height="0.8" fill="#6a80ff" opacity="0.21"/><rect x="126.5" y="353.6" width="0.8" height="0.8" fill="#a8b4ff" opacity="0.16"/><rect x="118.2" y="366.9" width="0.8" height="0.8" fill="#7a90ff" opacity="0.33"/><rect x="123.7" y="350.1" width="0.8" height="0.8" fill="#7a90ff" opacity="0.18"/><rect x="130.4" y="350.0" width="0.8" height="0.8" fill="#90a4ff" opacity="0.19"/><rect x="129.0" y="361.1" width="0.8" height="0.8" fill="#7a90ff" opacity="0.35"/><rect x="130.0" y="343.1" width="0.8" height="0.8" fill="#6a80ff" opacity="0.39"/><rect x="119.0" y="358.6" width="0.8" height="0.8" fill="#90a4ff" opacity="0.42"/><rect x="131.4" y="353.0" width="0.8" height="0.8" fill="#a8b4ff" opacity="0.18"/><rect x="120.4" y="347.2" width="0.8" height="0.8" fill="#7a90ff" opacity="0.20"/><rect x="115.2" y="358.2" width="0.8" height="0.8" fill="#7a90ff" opacity="0.42"/><rect x="129.4" y="353.8" width="0.8" height="0.8" fill="#90a4ff" opacity="0.43"/><rect x="133.4" y="359.6" width="0.8" height="0.8" fill="#7a90ff" opacity="0.48"/><rect x="124.4" y="359.8" width="0.8" height="0.8" fill="#6a80ff" opacity="0.46"/><rect x="127.0" y="362.9" width="0.8" height="0.8" fill="#90a4ff" opacity="0.44"/><rect x="135.2" y="358.0" width="0.8" height="0.8" fill="#7a90ff" opacity="0.29"/><rect x="131.6" y="356.2" width="0.8" height="0.8" fill="#7a90ff" opacity="0.17"/><rect x="117.8" y="360.3" width="0.8" height="0.8" fill="#7a90ff" opacity="0.30"/><rect x="118.0" y="360.1" width="0.8" height="0.8" fill="#7a90ff" opacity="0.23"/><rect x="127.5" y="351.8" width="0.8" height="0.8" fill="#90a4ff" opacity="0.25"/><rect x="128.6" y="363.3" width="0.8" height="0.8" fill="#90a4ff" opacity="0.24"/><rect x="124.8" y="360.5" width="0.8" height="0.8" fill="#a8b4ff" opacity="0.18"/><rect x="117.1" y="360.3" width="0.8" height="0.8" fill="#6a80ff" opacity="0.26"/><rect x="131.0" y="356.5" width="0.8" height="0.8" fill="#7a90ff" opacity="0.27"/><rect x="120.6" y="359.1" width="0.8" height="0.8" fill="#7a90ff" opacity="0.40"/><rect x="114.7" y="360.5" width="0.8" height="0.8" fill="#6a80ff" opacity="0.18"/><rect x="115.9" y="360.9" width="0.8" height="0.8" fill="#7a90ff" opacity="0.32"/><rect x="131.8" y="348.9" width="0.8" height="0.8" fill="#a8b4ff" opacity="0.38"/><rect x="124.3" y="353.7" width="0.8" height="0.8" fill="#a8b4ff" opacity="0.17"/><rect x="119.3" y="366.5" width="0.8" height="0.8" fill="#90a4ff" opacity="0.30"/><rect x="135.5" y="356.2" width="0.8" height="0.8" fill="#6a80ff" opacity="0.22"/><rect x="135.2" y="357.9" width="0.8" height="0.8" fill="#6a80ff" opacity="0.49"/><rect x="133.0" y="350.1" width="0.8" height="0.8" fill="#7a90ff" opacity="0.31"/><rect x="121.5" y="360.2" width="0.8" height="0.8" fill="#a8b4ff" opacity="0.27"/><rect x="125.0" y="358.2" width="0.8" height="0.8" fill="#a8b4ff" opacity="0.36"/><rect x="122.6" y="366.0" width="0.8" height="0.8" fill="#a8b4ff" opacity="0.49"/><rect x="129.2" y="361.0" width="0.8" height="0.8" fill="#a8b4ff" opacity="0.16"/><rect x="131.0" y="355.4" width="0.8" height="0.8" fill="#a8b4ff" opacity="0.22"/><rect x="119.0" y="360.4" width="0.8" height="0.8" fill="#6a80ff" opacity="0.34"/><rect x="130.4" y="354.8" width="0.8" height="0.8" fill="#90a4ff" opacity="0.48"/><rect x="117.8" y="357.0" width="0.8" height="0.8" fill="#7a90ff" opacity="0.35"/><rect x="134.2" y="353.6" width="0.8" height="0.8" fill="#7a90ff" opacity="0.30"/><rect x="116.5" y="364.0" width="0.8" height="0.8" fill="#90a4ff" opacity="0.41"/><rect x="127.8" y="359.1" width="0.8" height="0.8" fill="#6a80ff" opacity="0.28"/><rect x="120.9" y="367.5" width="0.8" height="0.8" fill="#90a4ff" opacity="0.26"/><rect x="124.9" y="353.3" width="0.8" height="0.8" fill="#90a4ff" opacity="0.31"/><rect x="119.5" y="361.0" width="0.8" height="0.8" fill="#6a80ff" opacity="0.38"/><rect x="119.5" y="357.5" width="0.8" height="0.8" fill="#a8b4ff" opacity="0.25"/><rect x="122.4" y="356.7" width="0.8" height="0.8" fill="#a8b4ff" opacity="0.21"/><rect x="116.2" y="362.3" width="0.8" height="0.8" fill="#a8b4ff" opacity="0.17"/><rect x="125.4" y="359.0" width="0.8" height="0.8" fill="#a8b4ff" opacity="0.20"/><rect x="123.4" y="353.9" width="0.8" height="0.8" fill="#6a80ff" opacity="0.47"/><rect x="123.8" y="358.5" width="0.8" height="0.8" fill="#7a90ff" opacity="0.22"/><rect x="127.6" y="357.9" width="0.8" height="0.8" fill="#6a80ff" opacity="0.39"/><rect x="130.9" y="350.4" width="0.8" height="0.8" fill="#6a80ff" opacity="0.34"/><rect x="117.4" y="360.2" width="0.8" height="0.8" fill="#7a90ff" opacity="0.35"/><rect x="132.2" y="356.8" width="0.8" height="0.8" fill="#7a90ff" opacity="0.35"/><rect x="131.7" y="343.6" width="0.8" height="0.8" fill="#6a80ff" opacity="0.30"/><rect x="116.9" y="359.5" width="0.8" height="0.8" fill="#a8b4ff" opacity="0.18"/><rect x="129.7" y="349.0" width="0.8" height="0.8" fill="#7a90ff" opacity="0.46"/><rect x="131.9" y="358.6" width="0.8" height="0.8" fill="#a8b4ff" opacity="0.30"/><rect x="123.4" y="351.5" width="0.8" height="0.8" fill="#7a90ff" opacity="0.31"/><rect x="118.6" y="355.8" width="0.8" height="0.8" fill="#a8b4ff" opacity="0.35"/><rect x="123.4" y="361.6" width="0.8" height="0.8" fill="#7a90ff" opacity="0.19"/><rect x="128.2" y="350.1" width="0.8" height="0.8" fill="#90a4ff" opacity="0.26"/><rect x="129.6" y="358.5" width="0.8" height="0.8" fill="#90a4ff" opacity="0.37"/><rect x="135.4" y="352.7" width="0.8" height="0.8" fill="#a8b4ff" opacity="0.39"/><rect x="117.5" y="366.9" width="0.8" height="0.8" fill="#90a4ff" opacity="0.38"/><rect x="125.3" y="360.4" width="0.8" height="0.8" fill="#90a4ff" opacity="0.48"/><rect x="119.7" y="356.8" width="0.8" height="0.8" fill="#6a80ff" opacity="0.35"/><rect x="132.9" y="348.7" width="0.8" height="0.8" fill="#7a90ff" opacity="0.42"/><rect x="119.7" y="355.2" width="0.8" height="0.8" fill="#a8b4ff" opacity="0.30"/><rect x="126.1" y="355.6" width="0.8" height="0.8" fill="#a8b4ff" opacity="0.25"/><rect x="125.2" y="353.8" width="0.8" height="0.8" fill="#7a90ff" opacity="0.19"/><rect x="120.7" y="354.5" width="0.8" height="0.8" fill="#6a80ff" opacity="0.34"/></g>
<ellipse cx="113.8" cy="366.3" rx="10" ry="3.0" fill="#a8b4ff" opacity="0.35" filter="url(#bl)" transform="rotate(-55 113.8 366.3)"/>
<ellipse cx="109.1" cy="372.3" rx="4.2" ry="2.0" fill="url(#corner)" transform="rotate(-72 109.1 372.3)"/>
<ellipse cx="115.0" cy="355.1" rx="4.8" ry="6.9" fill="url(#blobC)"/>
<polygon points="114.4,346.0 119.0,350.0 120.0,355.3 119.0,360.5 114.1,362.0 109.5,361.0 109.0,350.2" fill="none" stroke="#3a3a3a" stroke-width="0.7"/>
<text x="115.8" y="336.90000000000003" font-size="7.6" font-weight="normal" fill="#2e2e2e" textLength="18.7" lengthAdjust="spacingAndGlyphs" stroke="#2e2e2e" stroke-width="0.18">87.2%</text>
<text x="101.8" y="385.90000000000003" font-size="6.8" font-weight="bold" fill="#1a1a1a" stroke="#1a1a1a" stroke-width="0.25">0</text>
<text x="120.39999999999999" y="385.90000000000003" font-size="6.8" font-weight="bold" fill="#1a1a1a" textLength="14.6" lengthAdjust="spacingAndGlyphs" stroke="#1a1a1a" stroke-width="0.25">400k</text>
<text x="150.1" y="385.90000000000003" font-size="6.8" font-weight="bold" fill="#1a1a1a" textLength="15.0" lengthAdjust="spacingAndGlyphs" stroke="#1a1a1a" stroke-width="0.25">1.0M</text>
<text x="103.7" y="324.5" font-size="7.0" font-weight="normal" fill="#1a1a1a" text-anchor="middle" textLength="15.4" lengthAdjust="spacingAndGlyphs" transform="rotate(-90 103.7 324.5)" stroke="#1a1a1a" stroke-width="0.12">1.2M</text>
<text x="103.7" y="349.40000000000003" font-size="7.0" font-weight="normal" fill="#1a1a1a" text-anchor="middle" textLength="15.4" lengthAdjust="spacingAndGlyphs" transform="rotate(-90 103.7 349.40000000000003)" stroke="#1a1a1a" stroke-width="0.12">600K</text>
<rect x="186.9" y="320.3" width="53.6" height="56.0" fill="#fff" stroke="#a8a8a8" stroke-width="0.9"/>
<line x1="185.6" y1="375.6" x2="186.9" y2="375.6" stroke="#888" stroke-width="0.6"/>
<line x1="185.6" y1="362.55" x2="186.9" y2="362.55" stroke="#888" stroke-width="0.6"/>
<line x1="185.6" y1="349.5" x2="186.9" y2="349.5" stroke="#888" stroke-width="0.6"/>
<line x1="185.6" y1="336.45" x2="186.9" y2="336.45" stroke="#888" stroke-width="0.6"/>
<line x1="185.6" y1="323.40000000000003" x2="186.9" y2="323.40000000000003" stroke="#888" stroke-width="0.6"/>
<line x1="187.9" y1="376.3" x2="187.9" y2="377.5" stroke="#888" stroke-width="0.6"/>
<line x1="194.9" y1="376.3" x2="194.9" y2="377.5" stroke="#888" stroke-width="0.6"/>
<line x1="201.9" y1="376.3" x2="201.9" y2="377.5" stroke="#888" stroke-width="0.6"/>
<line x1="208.9" y1="376.3" x2="208.9" y2="377.5" stroke="#888" stroke-width="0.6"/>
<line x1="215.9" y1="376.3" x2="215.9" y2="377.5" stroke="#888" stroke-width="0.6"/>
<line x1="222.9" y1="376.3" x2="222.9" y2="377.5" stroke="#888" stroke-width="0.6"/>
<line x1="229.9" y1="376.3" x2="229.9" y2="377.5" stroke="#888" stroke-width="0.6"/>
<line x1="236.9" y1="376.3" x2="236.9" y2="377.5" stroke="#888" stroke-width="0.6"/>
<ellipse cx="202.9" cy="358.3" rx="10" ry="8" fill="#c4ccff" opacity="0.3" filter="url(#bl2)" transform="rotate(-25 202.9 358.3)"/>
<g><rect x="197.2" y="358.6" width="0.8" height="0.8" fill="#6a80ff" opacity="0.45"/><rect x="203.2" y="354.5" width="0.8" height="0.8" fill="#90a4ff" opacity="0.36"/><rect x="212.2" y="352.7" width="0.8" height="0.8" fill="#90a4ff" opacity="0.33"/><rect x="216.7" y="352.8" width="0.8" height="0.8" fill="#90a4ff" opacity="0.17"/><rect x="195.2" y="358.2" width="0.8" height="0.8" fill="#6a80ff" opacity="0.42"/><rect x="203.2" y="352.5" width="0.8" height="0.8" fill="#90a4ff" opacity="0.27"/><rect x="208.6" y="352.8" width="0.8" height="0.8" fill="#6a80ff" opacity="0.18"/><rect x="202.7" y="349.3" width="0.8" height="0.8" fill="#a8b4ff" opacity="0.45"/><rect x="209.2" y="347.3" width="0.8" height="0.8" fill="#a8b4ff" opacity="0.23"/><rect x="204.3" y="359.2" width="0.8" height="0.8" fill="#6a80ff" opacity="0.45"/><rect x="209.1" y="356.3" width="0.8" height="0.8" fill="#90a4ff" opacity="0.31"/><rect x="211.4" y="350.2" width="0.8" height="0.8" fill="#6a80ff" opacity="0.42"/><rect x="200.1" y="353.4" width="0.8" height="0.8" fill="#7a90ff" opacity="0.26"/><rect x="206.3" y="354.4" width="0.8" height="0.8" fill="#7a90ff" opacity="0.42"/><rect x="202.9" y="349.1" width="0.8" height="0.8" fill="#7a90ff" opacity="0.46"/><rect x="216.3" y="349.1" width="0.8" height="0.8" fill="#7a90ff" opacity="0.26"/><rect x="199.3" y="364.7" width="0.8" height="0.8" fill="#7a90ff" opacity="0.26"/><rect x="198.5" y="362.6" width="0.8" height="0.8" fill="#a8b4ff" opacity="0.34"/><rect x="203.7" y="359.0" width="0.8" height="0.8" fill="#6a80ff" opacity="0.17"/><rect x="211.8" y="351.8" width="0.8" height="0.8" fill="#90a4ff" opacity="0.26"/><rect x="210.2" y="354.7" width="0.8" height="0.8" fill="#90a4ff" opacity="0.43"/><rect x="197.5" y="356.9" width="0.8" height="0.8" fill="#90a4ff" opacity="0.15"/><rect x="213.0" y="351.5" width="0.8" height="0.8" fill="#a8b4ff" opacity="0.17"/><rect x="196.4" y="364.5" width="0.8" height="0.8" fill="#6a80ff" opacity="0.37"/><rect x="196.3" y="363.3" width="0.8" height="0.8" fill="#90a4ff" opacity="0.49"/><rect x="207.1" y="358.9" width="0.8" height="0.8" fill="#7a90ff" opacity="0.31"/><rect x="201.1" y="363.0" width="0.8" height="0.8" fill="#6a80ff" opacity="0.37"/><rect x="201.7" y="354.9" width="0.8" height="0.8" fill="#a8b4ff" opacity="0.18"/><rect x="213.0" y="349.3" width="0.8" height="0.8" fill="#7a90ff" opacity="0.34"/><rect x="207.8" y="348.4" width="0.8" height="0.8" fill="#a8b4ff" opacity="0.47"/><rect x="201.1" y="354.0" width="0.8" height="0.8" fill="#90a4ff" opacity="0.49"/><rect x="201.1" y="358.3" width="0.8" height="0.8" fill="#90a4ff" opacity="0.41"/><rect x="209.8" y="351.2" width="0.8" height="0.8" fill="#a8b4ff" opacity="0.33"/><rect x="201.2" y="364.1" width="0.8" height="0.8" fill="#6a80ff" opacity="0.15"/><rect x="209.6" y="358.7" width="0.8" height="0.8" fill="#a8b4ff" opacity="0.20"/><rect x="197.2" y="353.6" width="0.8" height="0.8" fill="#90a4ff" opacity="0.35"/><rect x="199.7" y="362.9" width="0.8" height="0.8" fill="#7a90ff" opacity="0.43"/><rect x="207.2" y="359.4" width="0.8" height="0.8" fill="#7a90ff" opacity="0.49"/><rect x="201.1" y="359.7" width="0.8" height="0.8" fill="#6a80ff" opacity="0.49"/><rect x="199.9" y="364.9" width="0.8" height="0.8" fill="#7a90ff" opacity="0.47"/><rect x="206.4" y="354.9" width="0.8" height="0.8" fill="#a8b4ff" opacity="0.44"/><rect x="197.4" y="355.5" width="0.8" height="0.8" fill="#6a80ff" opacity="0.29"/><rect x="196.7" y="362.0" width="0.8" height="0.8" fill="#a8b4ff" opacity="0.37"/><rect x="215.1" y="354.9" width="0.8" height="0.8" fill="#a8b4ff" opacity="0.27"/><rect x="200.8" y="358.1" width="0.8" height="0.8" fill="#6a80ff" opacity="0.44"/><rect x="208.2" y="358.6" width="0.8" height="0.8" fill="#7a90ff" opacity="0.48"/><rect x="199.7" y="367.2" width="0.8" height="0.8" fill="#90a4ff" opacity="0.26"/><rect x="194.9" y="365.7" width="0.8" height="0.8" fill="#90a4ff" opacity="0.41"/><rect x="218.9" y="353.4" width="0.8" height="0.8" fill="#a8b4ff" opacity="0.24"/><rect x="195.0" y="358.7" width="0.8" height="0.8" fill="#7a90ff" opacity="0.16"/><rect x="203.6" y="360.1" width="0.8" height="0.8" fill="#a8b4ff" opacity="0.50"/><rect x="201.8" y="358.6" width="0.8" height="0.8" fill="#a8b4ff" opacity="0.31"/><rect x="207.4" y="356.9" width="0.8" height="0.8" fill="#a8b4ff" opacity="0.35"/><rect x="199.9" y="358.7" width="0.8" height="0.8" fill="#6a80ff" opacity="0.23"/><rect x="200.4" y="353.7" width="0.8" height="0.8" fill="#6a80ff" opacity="0.41"/><rect x="204.6" y="358.2" width="0.8" height="0.8" fill="#90a4ff" opacity="0.39"/><rect x="205.0" y="363.0" width="0.8" height="0.8" fill="#a8b4ff" opacity="0.41"/><rect x="207.2" y="347.3" width="0.8" height="0.8" fill="#a8b4ff" opacity="0.45"/><rect x="195.6" y="361.3" width="0.8" height="0.8" fill="#7a90ff" opacity="0.47"/><rect x="217.2" y="365.7" width="0.8" height="0.8" fill="#a8b4ff" opacity="0.37"/><rect x="212.9" y="350.5" width="0.8" height="0.8" fill="#90a4ff" opacity="0.26"/><rect x="212.2" y="351.7" width="0.8" height="0.8" fill="#6a80ff" opacity="0.18"/><rect x="200.0" y="359.1" width="0.8" height="0.8" fill="#90a4ff" opacity="0.46"/><rect x="202.0" y="344.4" width="0.8" height="0.8" fill="#7a90ff" opacity="0.37"/><rect x="213.9" y="345.0" width="0.8" height="0.8" fill="#a8b4ff" opacity="0.29"/><rect x="210.4" y="354.9" width="0.8" height="0.8" fill="#7a90ff" opacity="0.34"/><rect x="208.0" y="344.3" width="0.8" height="0.8" fill="#a8b4ff" opacity="0.35"/><rect x="211.4" y="358.8" width="0.8" height="0.8" fill="#6a80ff" opacity="0.31"/><rect x="209.0" y="349.5" width="0.8" height="0.8" fill="#90a4ff" opacity="0.41"/><rect x="200.9" y="364.4" width="0.8" height="0.8" fill="#90a4ff" opacity="0.34"/><rect x="213.8" y="351.8" width="0.8" height="0.8" fill="#6a80ff" opacity="0.20"/><rect x="193.0" y="352.9" width="0.8" height="0.8" fill="#6a80ff" opacity="0.27"/><rect x="201.1" y="361.0" width="0.8" height="0.8" fill="#90a4ff" opacity="0.43"/><rect x="197.5" y="363.6" width="0.8" height="0.8" fill="#6a80ff" opacity="0.37"/><rect x="207.8" y="352.4" width="0.8" height="0.8" fill="#6a80ff" opacity="0.32"/><rect x="216.3" y="356.0" width="0.8" height="0.8" fill="#6a80ff" opacity="0.41"/><rect x="212.4" y="354.7" width="0.8" height="0.8" fill="#7a90ff" opacity="0.22"/><rect x="199.4" y="366.7" width="0.8" height="0.8" fill="#6a80ff" opacity="0.16"/><rect x="213.7" y="358.8" width="0.8" height="0.8" fill="#7a90ff" opacity="0.46"/><rect x="211.8" y="350.0" width="0.8" height="0.8" fill="#7a90ff" opacity="0.46"/><rect x="198.9" y="364.2" width="0.8" height="0.8" fill="#a8b4ff" opacity="0.49"/><rect x="205.8" y="373.3" width="0.8" height="0.8" fill="#6a80ff" opacity="0.29"/><rect x="211.0" y="355.1" width="0.8" height="0.8" fill="#a8b4ff" opacity="0.42"/><rect x="198.1" y="359.0" width="0.8" height="0.8" fill="#6a80ff" opacity="0.40"/><rect x="205.2" y="345.5" width="0.8" height="0.8" fill="#6a80ff" opacity="0.46"/><rect x="202.7" y="348.6" width="0.8" height="0.8" fill="#90a4ff" opacity="0.18"/><rect x="197.1" y="353.3" width="0.8" height="0.8" fill="#7a90ff" opacity="0.28"/><rect x="209.9" y="354.4" width="0.8" height="0.8" fill="#a8b4ff" opacity="0.44"/><rect x="211.6" y="363.2" width="0.8" height="0.8" fill="#90a4ff" opacity="0.41"/><rect x="195.8" y="354.1" width="0.8" height="0.8" fill="#7a90ff" opacity="0.34"/><rect x="208.2" y="353.8" width="0.8" height="0.8" fill="#a8b4ff" opacity="0.30"/><rect x="204.7" y="360.5" width="0.8" height="0.8" fill="#a8b4ff" opacity="0.40"/><rect x="197.2" y="360.1" width="0.8" height="0.8" fill="#7a90ff" opacity="0.34"/><rect x="203.5" y="365.6" width="0.8" height="0.8" fill="#90a4ff" opacity="0.18"/><rect x="191.8" y="365.8" width="0.8" height="0.8" fill="#6a80ff" opacity="0.31"/><rect x="212.8" y="346.7" width="0.8" height="0.8" fill="#6a80ff" opacity="0.29"/><rect x="199.7" y="356.1" width="0.8" height="0.8" fill="#6a80ff" opacity="0.16"/><rect x="195.0" y="357.6" width="0.8" height="0.8" fill="#7a90ff" opacity="0.50"/><rect x="214.8" y="350.5" width="0.8" height="0.8" fill="#a8b4ff" opacity="0.20"/><rect x="202.4" y="361.3" width="0.8" height="0.8" fill="#6a80ff" opacity="0.26"/><rect x="205.3" y="359.1" width="0.8" height="0.8" fill="#a8b4ff" opacity="0.17"/><rect x="201.0" y="359.5" width="0.8" height="0.8" fill="#7a90ff" opacity="0.42"/><rect x="207.3" y="349.0" width="0.8" height="0.8" fill="#6a80ff" opacity="0.46"/><rect x="213.0" y="349.0" width="0.8" height="0.8" fill="#a8b4ff" opacity="0.31"/><rect x="200.9" y="365.2" width="0.8" height="0.8" fill="#a8b4ff" opacity="0.39"/><rect x="209.6" y="352.7" width="0.8" height="0.8" fill="#7a90ff" opacity="0.18"/><rect x="207.0" y="358.7" width="0.8" height="0.8" fill="#a8b4ff" opacity="0.48"/><rect x="214.1" y="350.3" width="0.8" height="0.8" fill="#7a90ff" opacity="0.47"/><rect x="202.9" y="356.5" width="0.8" height="0.8" fill="#a8b4ff" opacity="0.41"/><rect x="206.1" y="356.5" width="0.8" height="0.8" fill="#7a90ff" opacity="0.16"/></g>
<ellipse cx="193.4" cy="366.3" rx="10" ry="3.0" fill="#a8b4ff" opacity="0.35" filter="url(#bl)" transform="rotate(-55 193.4 366.3)"/>
<ellipse cx="188.70000000000002" cy="372.3" rx="4.2" ry="2.0" fill="url(#corner)" transform="rotate(-72 188.70000000000002 372.3)"/>
<ellipse cx="194.6" cy="355.1" rx="4.8" ry="6.9" fill="url(#blobC)"/>
<polygon points="194.0,346.0 198.6,350.0 199.6,355.3 198.6,360.5 193.7,362.0 189.1,361.0 188.6,350.2" fill="none" stroke="#3a3a3a" stroke-width="0.7"/>
<text x="195.8" y="336.90000000000003" font-size="7.6" font-weight="normal" fill="#2e2e2e" textLength="18.7" lengthAdjust="spacingAndGlyphs" stroke="#2e2e2e" stroke-width="0.18">89.6%</text>
<text x="181.4" y="385.90000000000003" font-size="6.8" font-weight="bold" fill="#1a1a1a" stroke="#1a1a1a" stroke-width="0.25">0</text>
<text x="200.0" y="385.90000000000003" font-size="6.8" font-weight="bold" fill="#1a1a1a" textLength="14.6" lengthAdjust="spacingAndGlyphs" stroke="#1a1a1a" stroke-width="0.25">400k</text>
<text x="229.7" y="385.90000000000003" font-size="6.8" font-weight="bold" fill="#1a1a1a" textLength="15.0" lengthAdjust="spacingAndGlyphs" stroke="#1a1a1a" stroke-width="0.25">1.0M</text>
<text x="183.3" y="324.5" font-size="7.0" font-weight="normal" fill="#1a1a1a" text-anchor="middle" textLength="15.4" lengthAdjust="spacingAndGlyphs" transform="rotate(-90 183.3 324.5)" stroke="#1a1a1a" stroke-width="0.12">1.2M</text>
<text x="183.3" y="349.40000000000003" font-size="7.0" font-weight="normal" fill="#1a1a1a" text-anchor="middle" textLength="15.4" lengthAdjust="spacingAndGlyphs" transform="rotate(-90 183.3 349.40000000000003)" stroke="#1a1a1a" stroke-width="0.12">600K</text>
<rect x="267.3" y="320.3" width="53.6" height="56.0" fill="#fff" stroke="#a8a8a8" stroke-width="0.9"/>
<line x1="266.0" y1="375.6" x2="267.3" y2="375.6" stroke="#888" stroke-width="0.6"/>
<line x1="266.0" y1="362.55" x2="267.3" y2="362.55" stroke="#888" stroke-width="0.6"/>
<line x1="266.0" y1="349.5" x2="267.3" y2="349.5" stroke="#888" stroke-width="0.6"/>
<line x1="266.0" y1="336.45" x2="267.3" y2="336.45" stroke="#888" stroke-width="0.6"/>
<line x1="266.0" y1="323.40000000000003" x2="267.3" y2="323.40000000000003" stroke="#888" stroke-width="0.6"/>
<line x1="268.3" y1="376.3" x2="268.3" y2="377.5" stroke="#888" stroke-width="0.6"/>
<line x1="275.3" y1="376.3" x2="275.3" y2="377.5" stroke="#888" stroke-width="0.6"/>
<line x1="282.3" y1="376.3" x2="282.3" y2="377.5" stroke="#888" stroke-width="0.6"/>
<line x1="289.3" y1="376.3" x2="289.3" y2="377.5" stroke="#888" stroke-width="0.6"/>
<line x1="296.3" y1="376.3" x2="296.3" y2="377.5" stroke="#888" stroke-width="0.6"/>
<line x1="303.3" y1="376.3" x2="303.3" y2="377.5" stroke="#888" stroke-width="0.6"/>
<line x1="310.3" y1="376.3" x2="310.3" y2="377.5" stroke="#888" stroke-width="0.6"/>
<line x1="317.3" y1="376.3" x2="317.3" y2="377.5" stroke="#888" stroke-width="0.6"/>
<ellipse cx="283.3" cy="358.3" rx="10" ry="8" fill="#c4ccff" opacity="0.3" filter="url(#bl2)" transform="rotate(-25 283.3 358.3)"/>
<g><rect x="293.5" y="347.5" width="0.8" height="0.8" fill="#a8b4ff" opacity="0.28"/><rect x="278.0" y="373.2" width="0.8" height="0.8" fill="#6a80ff" opacity="0.16"/><rect x="285.2" y="361.0" width="0.8" height="0.8" fill="#90a4ff" opacity="0.20"/><rect x="286.3" y="356.3" width="0.8" height="0.8" fill="#7a90ff" opacity="0.36"/><rect x="287.2" y="357.1" width="0.8" height="0.8" fill="#7a90ff" opacity="0.29"/><rect x="280.2" y="354.2" width="0.8" height="0.8" fill="#90a4ff" opacity="0.34"/><rect x="279.7" y="356.8" width="0.8" height="0.8" fill="#a8b4ff" opacity="0.18"/><rect x="286.3" y="353.3" width="0.8" height="0.8" fill="#90a4ff" opacity="0.38"/><rect x="276.3" y="359.2" width="0.8" height="0.8" fill="#7a90ff" opacity="0.44"/><rect x="290.7" y="354.4" width="0.8" height="0.8" fill="#a8b4ff" opacity="0.44"/><rect x="280.8" y="362.6" width="0.8" height="0.8" fill="#6a80ff" opacity="0.22"/><rect x="279.6" y="359.7" width="0.8" height="0.8" fill="#7a90ff" opacity="0.18"/><rect x="286.8" y="355.9" width="0.8" height="0.8" fill="#7a90ff" opacity="0.46"/><rect x="295.5" y="349.3" width="0.8" height="0.8" fill="#7a90ff" opacity="0.21"/><rect x="286.3" y="357.0" width="0.8" height="0.8" fill="#90a4ff" opacity="0.41"/><rect x="282.0" y="356.4" width="0.8" height="0.8" fill="#6a80ff" opacity="0.33"/><rect x="291.0" y="347.8" width="0.8" height="0.8" fill="#90a4ff" opacity="0.27"/><rect x="291.3" y="347.0" width="0.8" height="0.8" fill="#a8b4ff" opacity="0.41"/><rect x="288.7" y="353.8" width="0.8" height="0.8" fill="#a8b4ff" opacity="0.21"/><rect x="287.3" y="354.4" width="0.8" height="0.8" fill="#90a4ff" opacity="0.27"/><rect x="283.7" y="356.8" width="0.8" height="0.8" fill="#90a4ff" opacity="0.40"/><rect x="279.9" y="358.1" width="0.8" height="0.8" fill="#7a90ff" opacity="0.20"/><rect x="279.1" y="356.0" width="0.8" height="0.8" fill="#6a80ff" opacity="0.32"/><rect x="286.0" y="343.5" width="0.8" height="0.8" fill="#6a80ff" opacity="0.15"/><rect x="283.3" y="360.2" width="0.8" height="0.8" fill="#7a90ff" opacity="0.31"/><rect x="287.3" y="361.6" width="0.8" height="0.8" fill="#90a4ff" opacity="0.38"/><rect x="290.3" y="358.9" width="0.8" height="0.8" fill="#a8b4ff" opacity="0.29"/><rect x="286.9" y="358.8" width="0.8" height="0.8" fill="#6a80ff" opacity="0.49"/><rect x="279.3" y="372.4" width="0.8" height="0.8" fill="#90a4ff" opacity="0.45"/><rect x="294.5" y="353.1" width="0.8" height="0.8" fill="#90a4ff" opacity="0.32"/><rect x="284.9" y="351.0" width="0.8" height="0.8" fill="#7a90ff" opacity="0.45"/><rect x="285.6" y="358.8" width="0.8" height="0.8" fill="#a8b4ff" opacity="0.35"/><rect x="277.6" y="352.1" width="0.8" height="0.8" fill="#7a90ff" opacity="0.28"/><rect x="287.5" y="360.2" width="0.8" height="0.8" fill="#90a4ff" opacity="0.22"/><rect x="291.0" y="355.5" width="0.8" height="0.8" fill="#90a4ff" opacity="0.48"/><rect x="288.5" y="354.5" width="0.8" height="0.8" fill="#7a90ff" opacity="0.19"/><rect x="292.6" y="356.6" width="0.8" height="0.8" fill="#a8b4ff" opacity="0.42"/><rect x="278.0" y="359.5" width="0.8" height="0.8" fill="#7a90ff" opacity="0.43"/><rect x="283.9" y="367.6" width="0.8" height="0.8" fill="#90a4ff" opacity="0.21"/><rect x="285.7" y="357.7" width="0.8" height="0.8" fill="#7a90ff" opacity="0.26"/><rect x="288.3" y="348.3" width="0.8" height="0.8" fill="#6a80ff" opacity="0.30"/><rect x="283.1" y="351.2" width="0.8" height="0.8" fill="#6a80ff" opacity="0.43"/><rect x="295.3" y="349.1" width="0.8" height="0.8" fill="#90a4ff" opacity="0.26"/><rect x="280.6" y="361.9" width="0.8" height="0.8" fill="#6a80ff" opacity="0.27"/><rect x="288.1" y="354.7" width="0.8" height="0.8" fill="#7a90ff" opacity="0.43"/><rect x="282.4" y="357.5" width="0.8" height="0.8" fill="#7a90ff" opacity="0.18"/><rect x="285.2" y="348.8" width="0.8" height="0.8" fill="#7a90ff" opacity="0.39"/><rect x="286.8" y="351.5" width="0.8" height="0.8" fill="#a8b4ff" opacity="0.24"/><rect x="281.9" y="361.8" width="0.8" height="0.8" fill="#90a4ff" opacity="0.41"/><rect x="287.7" y="347.3" width="0.8" height="0.8" fill="#6a80ff" opacity="0.42"/><rect x="280.5" y="361.0" width="0.8" height="0.8" fill="#90a4ff" opacity="0.25"/><rect x="282.8" y="354.8" width="0.8" height="0.8" fill="#6a80ff" opacity="0.36"/><rect x="281.5" y="357.2" width="0.8" height="0.8" fill="#7a90ff" opacity="0.47"/><rect x="276.9" y="355.5" width="0.8" height="0.8" fill="#90a4ff" opacity="0.17"/><rect x="280.0" y="357.9" width="0.8" height="0.8" fill="#a8b4ff" opacity="0.43"/><rect x="279.6" y="360.7" width="0.8" height="0.8" fill="#a8b4ff" opacity="0.29"/><rect x="280.4" y="362.2" width="0.8" height="0.8" fill="#90a4ff" opacity="0.31"/><rect x="279.3" y="354.9" width="0.8" height="0.8" fill="#6a80ff" opacity="0.17"/><rect x="289.0" y="349.2" width="0.8" height="0.8" fill="#6a80ff" opacity="0.19"/><rect x="284.6" y="355.2" width="0.8" height="0.8" fill="#90a4ff" opacity="0.41"/><rect x="290.9" y="349.7" width="0.8" height="0.8" fill="#90a4ff" opacity="0.31"/><rect x="293.1" y="353.8" width="0.8" height="0.8" fill="#6a80ff" opacity="0.15"/><rect x="277.6" y="363.8" width="0.8" height="0.8" fill="#a8b4ff" opacity="0.48"/><rect x="286.1" y="357.3" width="0.8" height="0.8" fill="#90a4ff" opacity="0.48"/><rect x="280.9" y="359.7" width="0.8" height="0.8" fill="#6a80ff" opacity="0.25"/><rect x="287.0" y="359.4" width="0.8" height="0.8" fill="#7a90ff" opacity="0.28"/><rect x="278.6" y="363.3" width="0.8" height="0.8" fill="#6a80ff" opacity="0.40"/><rect x="296.4" y="362.8" width="0.8" height="0.8" fill="#90a4ff" opacity="0.27"/><rect x="281.9" y="365.7" width="0.8" height="0.8" fill="#7a90ff" opacity="0.26"/><rect x="280.2" y="359.6" width="0.8" height="0.8" fill="#90a4ff" opacity="0.38"/><rect x="273.1" y="358.9" width="0.8" height="0.8" fill="#a8b4ff" opacity="0.49"/><rect x="298.5" y="346.6" width="0.8" height="0.8" fill="#7a90ff" opacity="0.43"/><rect x="287.5" y="357.3" width="0.8" height="0.8" fill="#a8b4ff" opacity="0.50"/><rect x="284.5" y="358.2" width="0.8" height="0.8" fill="#7a90ff" opacity="0.29"/><rect x="289.5" y="358.9" width="0.8" height="0.8" fill="#6a80ff" opacity="0.49"/><rect x="280.0" y="361.0" width="0.8" height="0.8" fill="#90a4ff" opacity="0.32"/><rect x="279.6" y="361.7" width="0.8" height="0.8" fill="#90a4ff" opacity="0.43"/><rect x="283.2" y="347.2" width="0.8" height="0.8" fill="#a8b4ff" opacity="0.40"/><rect x="284.3" y="356.3" width="0.8" height="0.8" fill="#7a90ff" opacity="0.24"/><rect x="289.5" y="357.6" width="0.8" height="0.8" fill="#a8b4ff" opacity="0.47"/><rect x="296.6" y="346.3" width="0.8" height="0.8" fill="#6a80ff" opacity="0.45"/><rect x="287.8" y="349.0" width="0.8" height="0.8" fill="#90a4ff" opacity="0.17"/><rect x="286.9" y="355.8" width="0.8" height="0.8" fill="#7a90ff" opacity="0.20"/><rect x="282.4" y="360.7" width="0.8" height="0.8" fill="#6a80ff" opacity="0.32"/><rect x="292.1" y="353.3" width="0.8" height="0.8" fill="#7a90ff" opacity="0.34"/><rect x="273.4" y="368.1" width="0.8" height="0.8" fill="#90a4ff" opacity="0.35"/><rect x="280.4" y="349.3" width="0.8" height="0.8" fill="#7a90ff" opacity="0.23"/><rect x="282.3" y="357.9" width="0.8" height="0.8" fill="#7a90ff" opacity="0.22"/><rect x="290.3" y="350.7" width="0.8" height="0.8" fill="#90a4ff" opacity="0.36"/><rect x="278.9" y="359.9" width="0.8" height="0.8" fill="#6a80ff" opacity="0.37"/><rect x="279.3" y="354.7" width="0.8" height="0.8" fill="#90a4ff" opacity="0.44"/><rect x="288.8" y="351.4" width="0.8" height="0.8" fill="#7a90ff" opacity="0.39"/><rect x="285.7" y="365.6" width="0.8" height="0.8" fill="#6a80ff" opacity="0.32"/><rect x="276.2" y="355.0" width="0.8" height="0.8" fill="#6a80ff" opacity="0.32"/><rect x="278.4" y="366.9" width="0.8" height="0.8" fill="#a8b4ff" opacity="0.30"/><rect x="280.5" y="360.5" width="0.8" height="0.8" fill="#7a90ff" opacity="0.23"/><rect x="289.2" y="358.7" width="0.8" height="0.8" fill="#90a4ff" opacity="0.19"/><rect x="281.5" y="356.4" width="0.8" height="0.8" fill="#6a80ff" opacity="0.30"/><rect x="284.2" y="350.7" width="0.8" height="0.8" fill="#90a4ff" opacity="0.24"/><rect x="273.3" y="362.2" width="0.8" height="0.8" fill="#7a90ff" opacity="0.17"/><rect x="282.2" y="349.9" width="0.8" height="0.8" fill="#a8b4ff" opacity="0.41"/><rect x="285.0" y="358.3" width="0.8" height="0.8" fill="#90a4ff" opacity="0.18"/><rect x="283.5" y="357.8" width="0.8" height="0.8" fill="#6a80ff" opacity="0.18"/><rect x="282.8" y="353.6" width="0.8" height="0.8" fill="#7a90ff" opacity="0.42"/><rect x="289.1" y="349.2" width="0.8" height="0.8" fill="#90a4ff" opacity="0.17"/><rect x="293.6" y="352.7" width="0.8" height="0.8" fill="#90a4ff" opacity="0.38"/><rect x="283.4" y="360.9" width="0.8" height="0.8" fill="#7a90ff" opacity="0.39"/><rect x="289.8" y="349.1" width="0.8" height="0.8" fill="#6a80ff" opacity="0.27"/><rect x="277.6" y="367.2" width="0.8" height="0.8" fill="#7a90ff" opacity="0.19"/><rect x="290.1" y="354.7" width="0.8" height="0.8" fill="#a8b4ff" opacity="0.39"/></g>
<ellipse cx="273.8" cy="366.3" rx="10" ry="3.0" fill="#a8b4ff" opacity="0.35" filter="url(#bl)" transform="rotate(-55 273.8 366.3)"/>
<ellipse cx="269.1" cy="372.3" rx="4.2" ry="2.0" fill="url(#corner)" transform="rotate(-72 269.1 372.3)"/>
<ellipse cx="275.0" cy="355.1" rx="4.8" ry="6.9" fill="url(#blobC)"/>
<polygon points="274.4,346.0 279.0,350.0 280.0,355.3 279.0,360.5 274.1,362.0 269.5,361.0 269.0,350.2" fill="none" stroke="#3a3a3a" stroke-width="0.7"/>
<text x="277.0" y="336.90000000000003" font-size="7.6" font-weight="normal" fill="#2e2e2e" textLength="18.7" lengthAdjust="spacingAndGlyphs" stroke="#2e2e2e" stroke-width="0.18">86.2%</text>
<text x="261.8" y="385.90000000000003" font-size="6.8" font-weight="bold" fill="#1a1a1a" stroke="#1a1a1a" stroke-width="0.25">0</text>
<text x="280.40000000000003" y="385.90000000000003" font-size="6.8" font-weight="bold" fill="#1a1a1a" textLength="14.6" lengthAdjust="spacingAndGlyphs" stroke="#1a1a1a" stroke-width="0.25">400k</text>
<text x="310.1" y="385.90000000000003" font-size="6.8" font-weight="bold" fill="#1a1a1a" textLength="15.0" lengthAdjust="spacingAndGlyphs" stroke="#1a1a1a" stroke-width="0.25">1.0M</text>
<text x="263.7" y="324.5" font-size="7.0" font-weight="normal" fill="#1a1a1a" text-anchor="middle" textLength="15.4" lengthAdjust="spacingAndGlyphs" transform="rotate(-90 263.7 324.5)" stroke="#1a1a1a" stroke-width="0.12">1.2M</text>
<text x="263.7" y="349.40000000000003" font-size="7.0" font-weight="normal" fill="#1a1a1a" text-anchor="middle" textLength="15.4" lengthAdjust="spacingAndGlyphs" transform="rotate(-90 263.7 349.40000000000003)" stroke="#1a1a1a" stroke-width="0.12">600K</text>
<rect x="344.9" y="320.3" width="53.6" height="56.0" fill="#fff" stroke="#a8a8a8" stroke-width="0.9"/>
<line x1="343.59999999999997" y1="375.6" x2="344.9" y2="375.6" stroke="#888" stroke-width="0.6"/>
<line x1="343.59999999999997" y1="362.55" x2="344.9" y2="362.55" stroke="#888" stroke-width="0.6"/>
<line x1="343.59999999999997" y1="349.5" x2="344.9" y2="349.5" stroke="#888" stroke-width="0.6"/>
<line x1="343.59999999999997" y1="336.45" x2="344.9" y2="336.45" stroke="#888" stroke-width="0.6"/>
<line x1="343.59999999999997" y1="323.40000000000003" x2="344.9" y2="323.40000000000003" stroke="#888" stroke-width="0.6"/>
<line x1="345.9" y1="376.3" x2="345.9" y2="377.5" stroke="#888" stroke-width="0.6"/>
<line x1="352.9" y1="376.3" x2="352.9" y2="377.5" stroke="#888" stroke-width="0.6"/>
<line x1="359.9" y1="376.3" x2="359.9" y2="377.5" stroke="#888" stroke-width="0.6"/>
<line x1="366.9" y1="376.3" x2="366.9" y2="377.5" stroke="#888" stroke-width="0.6"/>
<line x1="373.9" y1="376.3" x2="373.9" y2="377.5" stroke="#888" stroke-width="0.6"/>
<line x1="380.9" y1="376.3" x2="380.9" y2="377.5" stroke="#888" stroke-width="0.6"/>
<line x1="387.9" y1="376.3" x2="387.9" y2="377.5" stroke="#888" stroke-width="0.6"/>
<line x1="394.9" y1="376.3" x2="394.9" y2="377.5" stroke="#888" stroke-width="0.6"/>
<ellipse cx="360.9" cy="358.3" rx="10" ry="8" fill="#c4ccff" opacity="0.3" filter="url(#bl2)" transform="rotate(-25 360.9 358.3)"/>
<g><rect x="350.7" y="368.8" width="0.8" height="0.8" fill="#7a90ff" opacity="0.44"/><rect x="356.2" y="363.0" width="0.8" height="0.8" fill="#7a90ff" opacity="0.17"/><rect x="362.5" y="350.1" width="0.8" height="0.8" fill="#90a4ff" opacity="0.42"/><rect x="351.2" y="356.5" width="0.8" height="0.8" fill="#90a4ff" opacity="0.48"/><rect x="367.7" y="355.6" width="0.8" height="0.8" fill="#a8b4ff" opacity="0.46"/><rect x="363.9" y="359.6" width="0.8" height="0.8" fill="#90a4ff" opacity="0.34"/><rect x="353.0" y="356.3" width="0.8" height="0.8" fill="#6a80ff" opacity="0.43"/><rect x="368.4" y="350.0" width="0.8" height="0.8" fill="#90a4ff" opacity="0.24"/><rect x="358.7" y="357.3" width="0.8" height="0.8" fill="#90a4ff" opacity="0.20"/><rect x="363.5" y="356.2" width="0.8" height="0.8" fill="#6a80ff" opacity="0.26"/><rect x="362.2" y="353.4" width="0.8" height="0.8" fill="#90a4ff" opacity="0.30"/><rect x="355.8" y="354.5" width="0.8" height="0.8" fill="#90a4ff" opacity="0.47"/><rect x="356.8" y="359.9" width="0.8" height="0.8" fill="#a8b4ff" opacity="0.33"/><rect x="359.9" y="362.5" width="0.8" height="0.8" fill="#90a4ff" opacity="0.18"/><rect x="361.0" y="348.7" width="0.8" height="0.8" fill="#6a80ff" opacity="0.16"/><rect x="364.2" y="349.8" width="0.8" height="0.8" fill="#90a4ff" opacity="0.23"/><rect x="359.3" y="361.9" width="0.8" height="0.8" fill="#7a90ff" opacity="0.34"/><rect x="359.8" y="363.1" width="0.8" height="0.8" fill="#6a80ff" opacity="0.49"/><rect x="359.3" y="358.2" width="0.8" height="0.8" fill="#7a90ff" opacity="0.43"/><rect x="371.2" y="352.1" width="0.8" height="0.8" fill="#90a4ff" opacity="0.41"/><rect x="357.6" y="362.1" width="0.8" height="0.8" fill="#6a80ff" opacity="0.25"/><rect x="352.5" y="352.1" width="0.8" height="0.8" fill="#6a80ff" opacity="0.34"/><rect x="357.3" y="358.3" width="0.8" height="0.8" fill="#6a80ff" opacity="0.25"/><rect x="360.2" y="349.6" width="0.8" height="0.8" fill="#a8b4ff" opacity="0.36"/><rect x="370.9" y="349.0" width="0.8" height="0.8" fill="#90a4ff" opacity="0.36"/><rect x="375.2" y="347.1" width="0.8" height="0.8" fill="#a8b4ff" opacity="0.15"/><rect x="363.9" y="352.8" width="0.8" height="0.8" fill="#a8b4ff" opacity="0.48"/><rect x="360.9" y="364.4" width="0.8" height="0.8" fill="#6a80ff" opacity="0.24"/><rect x="370.6" y="350.8" width="0.8" height="0.8" fill="#6a80ff" opacity="0.36"/><rect x="358.9" y="358.8" width="0.8" height="0.8" fill="#90a4ff" opacity="0.45"/><rect x="353.8" y="356.7" width="0.8" height="0.8" fill="#7a90ff" opacity="0.47"/><rect x="355.9" y="364.9" width="0.8" height="0.8" fill="#90a4ff" opacity="0.22"/><rect x="359.5" y="354.7" width="0.8" height="0.8" fill="#7a90ff" opacity="0.25"/><rect x="361.7" y="350.5" width="0.8" height="0.8" fill="#7a90ff" opacity="0.37"/><rect x="356.0" y="359.5" width="0.8" height="0.8" fill="#7a90ff" opacity="0.37"/><rect x="360.9" y="355.7" width="0.8" height="0.8" fill="#7a90ff" opacity="0.19"/><rect x="362.4" y="347.7" width="0.8" height="0.8" fill="#a8b4ff" opacity="0.24"/><rect x="371.1" y="346.7" width="0.8" height="0.8" fill="#6a80ff" opacity="0.32"/><rect x="361.6" y="359.9" width="0.8" height="0.8" fill="#6a80ff" opacity="0.24"/><rect x="358.2" y="356.2" width="0.8" height="0.8" fill="#90a4ff" opacity="0.21"/><rect x="354.2" y="363.2" width="0.8" height="0.8" fill="#7a90ff" opacity="0.23"/><rect x="352.6" y="360.3" width="0.8" height="0.8" fill="#90a4ff" opacity="0.49"/><rect x="356.6" y="358.1" width="0.8" height="0.8" fill="#7a90ff" opacity="0.17"/><rect x="358.2" y="364.3" width="0.8" height="0.8" fill="#6a80ff" opacity="0.37"/><rect x="372.3" y="352.3" width="0.8" height="0.8" fill="#a8b4ff" opacity="0.40"/><rect x="360.7" y="357.1" width="0.8" height="0.8" fill="#6a80ff" opacity="0.26"/><rect x="363.9" y="365.1" width="0.8" height="0.8" fill="#a8b4ff" opacity="0.19"/><rect x="367.8" y="348.8" width="0.8" height="0.8" fill="#7a90ff" opacity="0.19"/><rect x="366.1" y="349.6" width="0.8" height="0.8" fill="#90a4ff" opacity="0.45"/><rect x="364.8" y="354.5" width="0.8" height="0.8" fill="#90a4ff" opacity="0.29"/><rect x="361.4" y="357.1" width="0.8" height="0.8" fill="#7a90ff" opacity="0.43"/><rect x="364.7" y="355.7" width="0.8" height="0.8" fill="#7a90ff" opacity="0.38"/><rect x="365.6" y="365.3" width="0.8" height="0.8" fill="#7a90ff" opacity="0.33"/><rect x="356.6" y="358.7" width="0.8" height="0.8" fill="#a8b4ff" opacity="0.27"/><rect x="359.6" y="363.8" width="0.8" height="0.8" fill="#a8b4ff" opacity="0.33"/><rect x="362.3" y="366.0" width="0.8" height="0.8" fill="#90a4ff" opacity="0.46"/><rect x="359.1" y="362.3" width="0.8" height="0.8" fill="#7a90ff" opacity="0.24"/><rect x="355.2" y="361.1" width="0.8" height="0.8" fill="#7a90ff" opacity="0.46"/><rect x="358.0" y="366.5" width="0.8" height="0.8" fill="#6a80ff" opacity="0.38"/><rect x="366.8" y="355.4" width="0.8" height="0.8" fill="#6a80ff" opacity="0.40"/><rect x="358.6" y="357.9" width="0.8" height="0.8" fill="#a8b4ff" opacity="0.40"/><rect x="367.4" y="364.5" width="0.8" height="0.8" fill="#a8b4ff" opacity="0.39"/><rect x="365.3" y="362.5" width="0.8" height="0.8" fill="#90a4ff" opacity="0.24"/><rect x="369.7" y="352.9" width="0.8" height="0.8" fill="#6a80ff" opacity="0.43"/><rect x="355.2" y="371.9" width="0.8" height="0.8" fill="#7a90ff" opacity="0.23"/><rect x="351.5" y="353.7" width="0.8" height="0.8" fill="#90a4ff" opacity="0.36"/><rect x="352.7" y="367.3" width="0.8" height="0.8" fill="#90a4ff" opacity="0.41"/><rect x="357.7" y="359.8" width="0.8" height="0.8" fill="#7a90ff" opacity="0.48"/><rect x="351.4" y="360.4" width="0.8" height="0.8" fill="#a8b4ff" opacity="0.27"/><rect x="364.6" y="358.9" width="0.8" height="0.8" fill="#a8b4ff" opacity="0.33"/><rect x="356.1" y="366.8" width="0.8" height="0.8" fill="#7a90ff" opacity="0.21"/><rect x="362.7" y="355.6" width="0.8" height="0.8" fill="#a8b4ff" opacity="0.34"/><rect x="371.0" y="349.5" width="0.8" height="0.8" fill="#a8b4ff" opacity="0.24"/><rect x="373.2" y="348.6" width="0.8" height="0.8" fill="#90a4ff" opacity="0.49"/><rect x="375.6" y="354.0" width="0.8" height="0.8" fill="#a8b4ff" opacity="0.23"/><rect x="373.2" y="356.9" width="0.8" height="0.8" fill="#90a4ff" opacity="0.16"/><rect x="364.4" y="356.1" width="0.8" height="0.8" fill="#a8b4ff" opacity="0.46"/><rect x="351.8" y="367.7" width="0.8" height="0.8" fill="#7a90ff" opacity="0.40"/><rect x="369.4" y="356.5" width="0.8" height="0.8" fill="#7a90ff" opacity="0.23"/><rect x="355.6" y="359.3" width="0.8" height="0.8" fill="#90a4ff" opacity="0.43"/><rect x="365.4" y="352.7" width="0.8" height="0.8" fill="#a8b4ff" opacity="0.34"/><rect x="355.7" y="364.2" width="0.8" height="0.8" fill="#90a4ff" opacity="0.44"/><rect x="365.1" y="356.7" width="0.8" height="0.8" fill="#a8b4ff" opacity="0.47"/><rect x="355.1" y="367.6" width="0.8" height="0.8" fill="#a8b4ff" opacity="0.37"/><rect x="373.2" y="350.6" width="0.8" height="0.8" fill="#a8b4ff" opacity="0.23"/><rect x="368.7" y="349.2" width="0.8" height="0.8" fill="#a8b4ff" opacity="0.34"/><rect x="364.8" y="352.6" width="0.8" height="0.8" fill="#6a80ff" opacity="0.50"/><rect x="354.4" y="358.9" width="0.8" height="0.8" fill="#a8b4ff" opacity="0.45"/><rect x="364.3" y="362.2" width="0.8" height="0.8" fill="#7a90ff" opacity="0.39"/><rect x="357.5" y="361.9" width="0.8" height="0.8" fill="#7a90ff" opacity="0.42"/><rect x="368.1" y="351.6" width="0.8" height="0.8" fill="#6a80ff" opacity="0.21"/><rect x="356.2" y="355.8" width="0.8" height="0.8" fill="#7a90ff" opacity="0.48"/><rect x="371.3" y="348.2" width="0.8" height="0.8" fill="#a8b4ff" opacity="0.17"/><rect x="372.6" y="349.6" width="0.8" height="0.8" fill="#90a4ff" opacity="0.45"/><rect x="363.5" y="352.1" width="0.8" height="0.8" fill="#7a90ff" opacity="0.41"/><rect x="359.1" y="351.3" width="0.8" height="0.8" fill="#a8b4ff" opacity="0.15"/><rect x="363.0" y="354.9" width="0.8" height="0.8" fill="#a8b4ff" opacity="0.29"/><rect x="361.3" y="352.2" width="0.8" height="0.8" fill="#a8b4ff" opacity="0.18"/><rect x="366.8" y="362.0" width="0.8" height="0.8" fill="#a8b4ff" opacity="0.32"/><rect x="356.4" y="358.5" width="0.8" height="0.8" fill="#6a80ff" opacity="0.48"/><rect x="360.9" y="354.2" width="0.8" height="0.8" fill="#90a4ff" opacity="0.47"/><rect x="363.7" y="353.7" width="0.8" height="0.8" fill="#a8b4ff" opacity="0.47"/><rect x="363.3" y="362.9" width="0.8" height="0.8" fill="#7a90ff" opacity="0.48"/><rect x="359.7" y="360.5" width="0.8" height="0.8" fill="#a8b4ff" opacity="0.31"/><rect x="355.4" y="365.4" width="0.8" height="0.8" fill="#90a4ff" opacity="0.34"/><rect x="358.8" y="366.0" width="0.8" height="0.8" fill="#90a4ff" opacity="0.26"/><rect x="365.6" y="360.6" width="0.8" height="0.8" fill="#a8b4ff" opacity="0.39"/><rect x="351.9" y="360.7" width="0.8" height="0.8" fill="#90a4ff" opacity="0.15"/><rect x="370.7" y="346.7" width="0.8" height="0.8" fill="#7a90ff" opacity="0.28"/><rect x="363.6" y="349.6" width="0.8" height="0.8" fill="#6a80ff" opacity="0.45"/></g>
<ellipse cx="351.4" cy="366.3" rx="10" ry="3.0" fill="#a8b4ff" opacity="0.35" filter="url(#bl)" transform="rotate(-55 351.4 366.3)"/>
<ellipse cx="346.7" cy="372.3" rx="4.2" ry="2.0" fill="url(#corner)" transform="rotate(-72 346.7 372.3)"/>
<ellipse cx="352.59999999999997" cy="355.1" rx="4.8" ry="6.9" fill="url(#blobC)"/>
<polygon points="352.0,346.0 356.6,350.0 357.6,355.3 356.6,360.5 351.7,362.0 347.1,361.0 346.6,350.2" fill="none" stroke="#3a3a3a" stroke-width="0.7"/>
<text x="353.4" y="336.90000000000003" font-size="7.6" font-weight="normal" fill="#2e2e2e" textLength="18.7" lengthAdjust="spacingAndGlyphs" stroke="#2e2e2e" stroke-width="0.18">83.3%</text>
<text x="339.4" y="385.90000000000003" font-size="6.8" font-weight="bold" fill="#1a1a1a" stroke="#1a1a1a" stroke-width="0.25">0</text>
<text x="358.0" y="385.90000000000003" font-size="6.8" font-weight="bold" fill="#1a1a1a" textLength="14.6" lengthAdjust="spacingAndGlyphs" stroke="#1a1a1a" stroke-width="0.25">400k</text>
<text x="387.7" y="385.90000000000003" font-size="6.8" font-weight="bold" fill="#1a1a1a" textLength="15.0" lengthAdjust="spacingAndGlyphs" stroke="#1a1a1a" stroke-width="0.25">1.0M</text>
<text x="341.29999999999995" y="324.5" font-size="7.0" font-weight="normal" fill="#1a1a1a" text-anchor="middle" textLength="15.4" lengthAdjust="spacingAndGlyphs" transform="rotate(-90 341.29999999999995 324.5)" stroke="#1a1a1a" stroke-width="0.12">1.2M</text>
<text x="341.29999999999995" y="349.40000000000003" font-size="7.0" font-weight="normal" fill="#1a1a1a" text-anchor="middle" textLength="15.4" lengthAdjust="spacingAndGlyphs" transform="rotate(-90 341.29999999999995 349.40000000000003)" stroke="#1a1a1a" stroke-width="0.12">600K</text>
<text x="8.9" y="350.2" font-size="5.7" font-weight="bold" fill="#1a1a1a" text-anchor="middle" textLength="18.8" lengthAdjust="spacingAndGlyphs" transform="rotate(-90 8.9 350.2)" stroke="#1a1a1a" stroke-width="0.3">FSC-H</text>
<text x="200.8" y="401.5" font-size="6.3" font-weight="bold" fill="#1a1a1a" textLength="19.4" lengthAdjust="spacingAndGlyphs" stroke="#1a1a1a" stroke-width="0.3">SSC-H</text>
<path d="M12.1,411.3 L12.1,495.2 Q12.1,496.7 13.6,496.7 L405.1,496.7" fill="none" stroke="#787878" stroke-width="1.9"/>
<polygon points="12.1,407.0 9.5,412.0 14.7,412.0" fill="#111"/>
<polygon points="409.40000000000003,496.7 404.20000000000005,494.2 404.20000000000005,499.2" fill="#111"/>
<rect x="31.5" y="418.2" width="53.6" height="56.0" fill="#fff" stroke="#a8a8a8" stroke-width="0.9"/>
<line x1="30.2" y1="473.7" x2="31.5" y2="473.7" stroke="#888" stroke-width="0.6"/>
<line x1="30.2" y1="462.7" x2="31.5" y2="462.7" stroke="#888" stroke-width="0.6"/>
<line x1="30.2" y1="451.7" x2="31.5" y2="451.7" stroke="#888" stroke-width="0.6"/>
<line x1="30.2" y1="440.7" x2="31.5" y2="440.7" stroke="#888" stroke-width="0.6"/>
<line x1="30.2" y1="429.7" x2="31.5" y2="429.7" stroke="#888" stroke-width="0.6"/>
<line x1="30.2" y1="418.7" x2="31.5" y2="418.7" stroke="#888" stroke-width="0.6"/>
<line x1="32.5" y1="474.2" x2="32.5" y2="475.4" stroke="#888" stroke-width="0.6"/>
<line x1="39.5" y1="474.2" x2="39.5" y2="475.4" stroke="#888" stroke-width="0.6"/>
<line x1="46.5" y1="474.2" x2="46.5" y2="475.4" stroke="#888" stroke-width="0.6"/>
<line x1="53.5" y1="474.2" x2="53.5" y2="475.4" stroke="#888" stroke-width="0.6"/>
<line x1="60.5" y1="474.2" x2="60.5" y2="475.4" stroke="#888" stroke-width="0.6"/>
<line x1="67.5" y1="474.2" x2="67.5" y2="475.4" stroke="#888" stroke-width="0.6"/>
<line x1="74.5" y1="474.2" x2="74.5" y2="475.4" stroke="#888" stroke-width="0.6"/>
<line x1="81.5" y1="474.2" x2="81.5" y2="475.4" stroke="#888" stroke-width="0.6"/>
<path d="M47.2,474.2 L47.2,474.2 L48.2,472.7 L49.1,468.2 L49.8,454.2 L50.4,430.9 L50.8,424.9 L51.4,432.9 L52.0,450.2 L52.7,468.2 L53.2,473.7 L54.0,474.2 L54.0,474.2 Z" fill="#8c8c8c" stroke="#5a5a5a" stroke-width="0.75" stroke-linejoin="round"/>
<line x1="53.0" y1="437.3" x2="85.1" y2="437.3" stroke="#6a6a6a" stroke-width="1.1"/>
<line x1="53.0" y1="435.7" x2="53.0" y2="438.90000000000003" stroke="#6a6a6a" stroke-width="0.7"/>
<line x1="84.69999999999999" y1="435.7" x2="84.69999999999999" y2="438.90000000000003" stroke="#6a6a6a" stroke-width="0.7"/>
<text x="58.8" y="431.40000000000003" font-size="7.4" font-weight="normal" fill="#2e2e2e" textLength="18.5" lengthAdjust="spacingAndGlyphs" stroke="#2e2e2e" stroke-width="0.18">0.51%</text>
<text x="26.0" y="483.09999999999997" font-size="6.8" font-weight="bold" fill="#1a1a1a" stroke="#1a1a1a" stroke-width="0.25">0</text>
<text x="55.4" y="483.3" font-size="6.3" font-weight="bold" fill="#111" stroke="#111" stroke-width="0.28">10<tspan font-size="4" dy="-2.4">3</tspan></text>
<text x="80.3" y="483.3" font-size="6.3" font-weight="bold" fill="#111" stroke="#111" stroke-width="0.28">10<tspan font-size="4" dy="-2.4">6</tspan></text>
<text x="29.0" y="419.5" font-size="6.6" font-weight="normal" fill="#1a1a1a" text-anchor="middle" textLength="14.2" lengthAdjust="spacingAndGlyphs" transform="rotate(-90 29.0 419.5)" stroke="#1a1a1a" stroke-width="0.15">1.0K</text>
<text x="29.0" y="453.5" font-size="6.6" font-weight="normal" fill="#1a1a1a" text-anchor="middle" textLength="11.2" lengthAdjust="spacingAndGlyphs" transform="rotate(-90 29.0 453.5)" stroke="#1a1a1a" stroke-width="0.15">400</text>
<rect x="108.0" y="418.2" width="53.6" height="56.0" fill="#fff" stroke="#a8a8a8" stroke-width="0.9"/>
<line x1="106.7" y1="473.7" x2="108.0" y2="473.7" stroke="#888" stroke-width="0.6"/>
<line x1="106.7" y1="462.7" x2="108.0" y2="462.7" stroke="#888" stroke-width="0.6"/>
<line x1="106.7" y1="451.7" x2="108.0" y2="451.7" stroke="#888" stroke-width="0.6"/>
<line x1="106.7" y1="440.7" x2="108.0" y2="440.7" stroke="#888" stroke-width="0.6"/>
<line x1="106.7" y1="429.7" x2="108.0" y2="429.7" stroke="#888" stroke-width="0.6"/>
<line x1="106.7" y1="418.7" x2="108.0" y2="418.7" stroke="#888" stroke-width="0.6"/>
<line x1="109.0" y1="474.2" x2="109.0" y2="475.4" stroke="#888" stroke-width="0.6"/>
<line x1="116.0" y1="474.2" x2="116.0" y2="475.4" stroke="#888" stroke-width="0.6"/>
<line x1="123.0" y1="474.2" x2="123.0" y2="475.4" stroke="#888" stroke-width="0.6"/>
<line x1="130.0" y1="474.2" x2="130.0" y2="475.4" stroke="#888" stroke-width="0.6"/>
<line x1="137.0" y1="474.2" x2="137.0" y2="475.4" stroke="#888" stroke-width="0.6"/>
<line x1="144.0" y1="474.2" x2="144.0" y2="475.4" stroke="#888" stroke-width="0.6"/>
<line x1="151.0" y1="474.2" x2="151.0" y2="475.4" stroke="#888" stroke-width="0.6"/>
<line x1="158.0" y1="474.2" x2="158.0" y2="475.4" stroke="#888" stroke-width="0.6"/>
<path d="M123.4,474.2 L123.4,474.2 L124.4,472.7 L125.3,468.2 L126.0,454.2 L126.5,430.7 L127.0,424.7 L127.6,432.7 L128.2,450.2 L128.9,468.2 L130.5,467.2 L132.0,469.2 L135.0,468.6 L139.0,468.2 L143.0,467.6 L146.5,466.6 L148.5,468.2 L150.5,472.7 L152.0,474.2 L152.0,474.2 Z" fill="#8c8c8c" stroke="#5a5a5a" stroke-width="0.75" stroke-linejoin="round"/>
<line x1="129.2" y1="437.3" x2="161.6" y2="437.3" stroke="#6a6a6a" stroke-width="1.1"/>
<line x1="129.2" y1="435.7" x2="129.2" y2="438.90000000000003" stroke="#6a6a6a" stroke-width="0.7"/>
<line x1="161.2" y1="435.7" x2="161.2" y2="438.90000000000003" stroke="#6a6a6a" stroke-width="0.7"/>
<text x="135.8" y="431.40000000000003" font-size="7.4" font-weight="normal" fill="#2e2e2e" textLength="18.5" lengthAdjust="spacingAndGlyphs" stroke="#2e2e2e" stroke-width="0.18">47.1%</text>
<text x="102.5" y="483.09999999999997" font-size="6.8" font-weight="bold" fill="#1a1a1a" stroke="#1a1a1a" stroke-width="0.25">0</text>
<text x="131.9" y="483.3" font-size="6.3" font-weight="bold" fill="#111" stroke="#111" stroke-width="0.28">10<tspan font-size="4" dy="-2.4">3</tspan></text>
<text x="156.8" y="483.3" font-size="6.3" font-weight="bold" fill="#111" stroke="#111" stroke-width="0.28">10<tspan font-size="4" dy="-2.4">6</tspan></text>
<text x="105.5" y="423.59999999999997" font-size="6.6" font-weight="normal" fill="#1a1a1a" text-anchor="middle" textLength="11.2" lengthAdjust="spacingAndGlyphs" transform="rotate(-90 105.5 423.59999999999997)" stroke="#1a1a1a" stroke-width="0.15">400</text>
<text x="105.5" y="463.5" font-size="6.6" font-weight="normal" fill="#1a1a1a" text-anchor="middle" textLength="11.2" lengthAdjust="spacingAndGlyphs" transform="rotate(-90 105.5 463.5)" stroke="#1a1a1a" stroke-width="0.15">100</text>
<rect x="187.5" y="418.2" width="53.6" height="56.0" fill="#fff" stroke="#a8a8a8" stroke-width="0.9"/>
<line x1="186.2" y1="473.7" x2="187.5" y2="473.7" stroke="#888" stroke-width="0.6"/>
<line x1="186.2" y1="462.7" x2="187.5" y2="462.7" stroke="#888" stroke-width="0.6"/>
<line x1="186.2" y1="451.7" x2="187.5" y2="451.7" stroke="#888" stroke-width="0.6"/>
<line x1="186.2" y1="440.7" x2="187.5" y2="440.7" stroke="#888" stroke-width="0.6"/>
<line x1="186.2" y1="429.7" x2="187.5" y2="429.7" stroke="#888" stroke-width="0.6"/>
<line x1="186.2" y1="418.7" x2="187.5" y2="418.7" stroke="#888" stroke-width="0.6"/>
<line x1="188.5" y1="474.2" x2="188.5" y2="475.4" stroke="#888" stroke-width="0.6"/>
<line x1="195.5" y1="474.2" x2="195.5" y2="475.4" stroke="#888" stroke-width="0.6"/>
<line x1="202.5" y1="474.2" x2="202.5" y2="475.4" stroke="#888" stroke-width="0.6"/>
<line x1="209.5" y1="474.2" x2="209.5" y2="475.4" stroke="#888" stroke-width="0.6"/>
<line x1="216.5" y1="474.2" x2="216.5" y2="475.4" stroke="#888" stroke-width="0.6"/>
<line x1="223.5" y1="474.2" x2="223.5" y2="475.4" stroke="#888" stroke-width="0.6"/>
<line x1="230.5" y1="474.2" x2="230.5" y2="475.4" stroke="#888" stroke-width="0.6"/>
<line x1="237.5" y1="474.2" x2="237.5" y2="475.4" stroke="#888" stroke-width="0.6"/>
<path d="M202.9,474.2 L202.9,474.2 L203.9,472.7 L204.8,468.2 L205.5,454.2 L206.1,431.8 L206.5,425.8 L207.1,433.8 L207.7,450.2 L208.4,468.2 L209.1,464.2 L210.9,469.6 L213.9,467.2 L217.5,466.6 L220.7,465.8 L223.5,464.2 L225.5,461.8 L228.0,464.8 L230.9,473.0 L233.1,474.2 L233.1,474.2 Z" fill="#8c8c8c" stroke="#5a5a5a" stroke-width="0.75" stroke-linejoin="round"/>
<line x1="208.7" y1="437.3" x2="241.1" y2="437.3" stroke="#6a6a6a" stroke-width="1.1"/>
<line x1="208.7" y1="435.7" x2="208.7" y2="438.90000000000003" stroke="#6a6a6a" stroke-width="0.7"/>
<line x1="240.7" y1="435.7" x2="240.7" y2="438.90000000000003" stroke="#6a6a6a" stroke-width="0.7"/>
<text x="213.6" y="431.40000000000003" font-size="7.4" font-weight="normal" fill="#2e2e2e" textLength="18.5" lengthAdjust="spacingAndGlyphs" stroke="#2e2e2e" stroke-width="0.18">58.6%</text>
<text x="182.0" y="483.09999999999997" font-size="6.8" font-weight="bold" fill="#1a1a1a" stroke="#1a1a1a" stroke-width="0.25">0</text>
<text x="211.4" y="483.3" font-size="6.3" font-weight="bold" fill="#111" stroke="#111" stroke-width="0.28">10<tspan font-size="4" dy="-2.4">3</tspan></text>
<text x="236.3" y="483.3" font-size="6.3" font-weight="bold" fill="#111" stroke="#111" stroke-width="0.28">10<tspan font-size="4" dy="-2.4">6</tspan></text>
<text x="185.0" y="423.59999999999997" font-size="6.6" font-weight="normal" fill="#1a1a1a" text-anchor="middle" textLength="11.2" lengthAdjust="spacingAndGlyphs" transform="rotate(-90 185.0 423.59999999999997)" stroke="#1a1a1a" stroke-width="0.15">400</text>
<text x="185.0" y="463.5" font-size="6.6" font-weight="normal" fill="#1a1a1a" text-anchor="middle" textLength="11.2" lengthAdjust="spacingAndGlyphs" transform="rotate(-90 185.0 463.5)" stroke="#1a1a1a" stroke-width="0.15">100</text>
<rect x="267.7" y="418.2" width="53.6" height="56.0" fill="#fff" stroke="#a8a8a8" stroke-width="0.9"/>
<line x1="266.4" y1="473.7" x2="267.7" y2="473.7" stroke="#888" stroke-width="0.6"/>
<line x1="266.4" y1="462.7" x2="267.7" y2="462.7" stroke="#888" stroke-width="0.6"/>
<line x1="266.4" y1="451.7" x2="267.7" y2="451.7" stroke="#888" stroke-width="0.6"/>
<line x1="266.4" y1="440.7" x2="267.7" y2="440.7" stroke="#888" stroke-width="0.6"/>
<line x1="266.4" y1="429.7" x2="267.7" y2="429.7" stroke="#888" stroke-width="0.6"/>
<line x1="266.4" y1="418.7" x2="267.7" y2="418.7" stroke="#888" stroke-width="0.6"/>
<line x1="268.7" y1="474.2" x2="268.7" y2="475.4" stroke="#888" stroke-width="0.6"/>
<line x1="275.7" y1="474.2" x2="275.7" y2="475.4" stroke="#888" stroke-width="0.6"/>
<line x1="282.7" y1="474.2" x2="282.7" y2="475.4" stroke="#888" stroke-width="0.6"/>
<line x1="289.7" y1="474.2" x2="289.7" y2="475.4" stroke="#888" stroke-width="0.6"/>
<line x1="296.7" y1="474.2" x2="296.7" y2="475.4" stroke="#888" stroke-width="0.6"/>
<line x1="303.7" y1="474.2" x2="303.7" y2="475.4" stroke="#888" stroke-width="0.6"/>
<line x1="310.7" y1="474.2" x2="310.7" y2="475.4" stroke="#888" stroke-width="0.6"/>
<line x1="317.7" y1="474.2" x2="317.7" y2="475.4" stroke="#888" stroke-width="0.6"/>
<path d="M283.3,474.2 L283.3,474.2 L284.3,472.7 L285.2,468.2 L285.9,454.2 L286.4,432.2 L286.9,426.2 L287.5,434.2 L288.1,450.2 L288.8,468.2 L290.2,467.7 L291.7,469.6 L294.7,469.0 L298.7,469.0 L302.7,468.6 L306.2,467.4 L308.2,469.0 L310.2,473.2 L311.7,474.2 L311.7,474.2 Z" fill="#8c8c8c" stroke="#5a5a5a" stroke-width="0.75" stroke-linejoin="round"/>
<line x1="289.09999999999997" y1="437.3" x2="321.3" y2="437.3" stroke="#6a6a6a" stroke-width="1.1"/>
<line x1="289.09999999999997" y1="435.7" x2="289.09999999999997" y2="438.90000000000003" stroke="#6a6a6a" stroke-width="0.7"/>
<line x1="320.90000000000003" y1="435.7" x2="320.90000000000003" y2="438.90000000000003" stroke="#6a6a6a" stroke-width="0.7"/>
<text x="294.9" y="431.40000000000003" font-size="7.4" font-weight="normal" fill="#2e2e2e" textLength="18.5" lengthAdjust="spacingAndGlyphs" stroke="#2e2e2e" stroke-width="0.18">44.0%</text>
<text x="262.2" y="483.09999999999997" font-size="6.8" font-weight="bold" fill="#1a1a1a" stroke="#1a1a1a" stroke-width="0.25">0</text>
<text x="291.59999999999997" y="483.3" font-size="6.3" font-weight="bold" fill="#111" stroke="#111" stroke-width="0.28">10<tspan font-size="4" dy="-2.4">3</tspan></text>
<text x="316.5" y="483.3" font-size="6.3" font-weight="bold" fill="#111" stroke="#111" stroke-width="0.28">10<tspan font-size="4" dy="-2.4">6</tspan></text>
<text x="265.2" y="423.59999999999997" font-size="6.6" font-weight="normal" fill="#1a1a1a" text-anchor="middle" textLength="11.2" lengthAdjust="spacingAndGlyphs" transform="rotate(-90 265.2 423.59999999999997)" stroke="#1a1a1a" stroke-width="0.15">400</text>
<text x="265.2" y="463.5" font-size="6.6" font-weight="normal" fill="#1a1a1a" text-anchor="middle" textLength="11.2" lengthAdjust="spacingAndGlyphs" transform="rotate(-90 265.2 463.5)" stroke="#1a1a1a" stroke-width="0.15">100</text>
<rect x="345.3" y="418.2" width="53.6" height="56.0" fill="#fff" stroke="#a8a8a8" stroke-width="0.9"/>
<line x1="344.0" y1="473.7" x2="345.3" y2="473.7" stroke="#888" stroke-width="0.6"/>
<line x1="344.0" y1="462.7" x2="345.3" y2="462.7" stroke="#888" stroke-width="0.6"/>
<line x1="344.0" y1="451.7" x2="345.3" y2="451.7" stroke="#888" stroke-width="0.6"/>
<line x1="344.0" y1="440.7" x2="345.3" y2="440.7" stroke="#888" stroke-width="0.6"/>
<line x1="344.0" y1="429.7" x2="345.3" y2="429.7" stroke="#888" stroke-width="0.6"/>
<line x1="344.0" y1="418.7" x2="345.3" y2="418.7" stroke="#888" stroke-width="0.6"/>
<line x1="346.3" y1="474.2" x2="346.3" y2="475.4" stroke="#888" stroke-width="0.6"/>
<line x1="353.3" y1="474.2" x2="353.3" y2="475.4" stroke="#888" stroke-width="0.6"/>
<line x1="360.3" y1="474.2" x2="360.3" y2="475.4" stroke="#888" stroke-width="0.6"/>
<line x1="367.3" y1="474.2" x2="367.3" y2="475.4" stroke="#888" stroke-width="0.6"/>
<line x1="374.3" y1="474.2" x2="374.3" y2="475.4" stroke="#888" stroke-width="0.6"/>
<line x1="381.3" y1="474.2" x2="381.3" y2="475.4" stroke="#888" stroke-width="0.6"/>
<line x1="388.3" y1="474.2" x2="388.3" y2="475.4" stroke="#888" stroke-width="0.6"/>
<line x1="395.3" y1="474.2" x2="395.3" y2="475.4" stroke="#888" stroke-width="0.6"/>
<path d="M361.5,474.2 L361.5,474.2 L362.5,472.7 L363.4,468.2 L364.1,454.2 L364.7,431.5 L365.1,425.5 L365.7,433.5 L366.3,450.2 L367.0,468.2 L367.5,465.2 L369.3,469.4 L372.3,467.6 L376.3,466.8 L379.3,465.6 L382.3,463.4 L384.9,461.6 L387.3,465.4 L389.7,473.0 L391.7,474.2 L391.7,474.2 Z" fill="#8c8c8c" stroke="#5a5a5a" stroke-width="0.75" stroke-linejoin="round"/>
<line x1="367.3" y1="437.3" x2="398.90000000000003" y2="437.3" stroke="#6a6a6a" stroke-width="1.1"/>
<line x1="367.3" y1="435.7" x2="367.3" y2="438.90000000000003" stroke="#6a6a6a" stroke-width="0.7"/>
<line x1="398.50000000000006" y1="435.7" x2="398.50000000000006" y2="438.90000000000003" stroke="#6a6a6a" stroke-width="0.7"/>
<text x="370.6" y="431.40000000000003" font-size="7.4" font-weight="normal" fill="#2e2e2e" textLength="18.5" lengthAdjust="spacingAndGlyphs" stroke="#2e2e2e" stroke-width="0.18">57.7%</text>
<text x="339.8" y="483.09999999999997" font-size="6.8" font-weight="bold" fill="#1a1a1a" stroke="#1a1a1a" stroke-width="0.25">0</text>
<text x="369.2" y="483.3" font-size="6.3" font-weight="bold" fill="#111" stroke="#111" stroke-width="0.28">10<tspan font-size="4" dy="-2.4">3</tspan></text>
<text x="394.1" y="483.3" font-size="6.3" font-weight="bold" fill="#111" stroke="#111" stroke-width="0.28">10<tspan font-size="4" dy="-2.4">6</tspan></text>
<text x="342.8" y="427.3" font-size="6.6" font-weight="normal" fill="#1a1a1a" text-anchor="middle" textLength="11.2" lengthAdjust="spacingAndGlyphs" transform="rotate(-90 342.8 427.3)" stroke="#1a1a1a" stroke-width="0.15">300</text>
<text x="342.8" y="462.3" font-size="6.6" font-weight="normal" fill="#1a1a1a" text-anchor="middle" textLength="11.2" lengthAdjust="spacingAndGlyphs" transform="rotate(-90 342.8 462.3)" stroke="#1a1a1a" stroke-width="0.15">100</text>
<text x="8.7" y="451.5" font-size="6.4" font-weight="bold" fill="#1a1a1a" text-anchor="middle" textLength="18.4" lengthAdjust="spacingAndGlyphs" transform="rotate(-90 8.7 451.5)" stroke="#1a1a1a" stroke-width="0.3">count</text>
<text x="200.6" y="503.6" font-size="6.3" font-weight="bold" fill="#1a1a1a" textLength="20.2" lengthAdjust="spacingAndGlyphs" stroke="#1a1a1a" stroke-width="0.3">BL1-H</text>
<text x="413.0" y="17.6" font-size="16.6" font-weight="normal" fill="#1a1a1a" textLength="10.2" lengthAdjust="spacingAndGlyphs">B</text>
<text x="486.4" y="14.5" font-size="14.5" font-weight="bold" fill="#1a1a1a" textLength="33.8" lengthAdjust="spacingAndGlyphs">NB-4</text>
<rect x="486.09999999999997" y="16.1" width="34.0" height="1.6" fill="#1a1a1a" stroke="none" stroke-width="1"/>
<line x1="467.4" y1="26.520000000000003" x2="467.4" y2="155.2" stroke="#2e3950" stroke-width="1.4"/>
<line x1="464.0" y1="154.5" x2="542.5" y2="154.5" stroke="#2e3950" stroke-width="1.4"/>
<line x1="463.0" y1="154.5" x2="467.4" y2="154.5" stroke="#2e3950" stroke-width="1.2"/>
<text x="460.3" y="156.6" font-size="8.4" font-weight="bold" fill="#1a1a1a" text-anchor="end" stroke="#1a1a1a" stroke-width="0.3">0</text>
<line x1="463.0" y1="133.27" x2="467.4" y2="133.27" stroke="#2e3950" stroke-width="1.2"/>
<text x="460.3" y="135.37" font-size="8.4" font-weight="bold" fill="#1a1a1a" text-anchor="end" stroke="#1a1a1a" stroke-width="0.3">15</text>
<line x1="463.0" y1="112.03999999999999" x2="467.4" y2="112.03999999999999" stroke="#2e3950" stroke-width="1.2"/>
<text x="460.3" y="114.13999999999999" font-size="8.4" font-weight="bold" fill="#1a1a1a" text-anchor="end" stroke="#1a1a1a" stroke-width="0.3">30</text>
<line x1="463.0" y1="90.81" x2="467.4" y2="90.81" stroke="#2e3950" stroke-width="1.2"/>
<text x="460.3" y="92.91" font-size="8.4" font-weight="bold" fill="#1a1a1a" text-anchor="end" stroke="#1a1a1a" stroke-width="0.3">45</text>
<line x1="463.0" y1="69.58" x2="467.4" y2="69.58" stroke="#2e3950" stroke-width="1.2"/>
<text x="460.3" y="71.67999999999999" font-size="8.4" font-weight="bold" fill="#1a1a1a" text-anchor="end" stroke="#1a1a1a" stroke-width="0.3">60</text>
<line x1="463.0" y1="48.349999999999994" x2="467.4" y2="48.349999999999994" stroke="#2e3950" stroke-width="1.2"/>
<text x="460.3" y="50.449999999999996" font-size="8.4" font-weight="bold" fill="#1a1a1a" text-anchor="end" stroke="#1a1a1a" stroke-width="0.3">75</text>
<line x1="463.0" y1="27.120000000000005" x2="467.4" y2="27.120000000000005" stroke="#2e3950" stroke-width="1.2"/>
<text x="460.3" y="29.220000000000006" font-size="8.4" font-weight="bold" fill="#1a1a1a" text-anchor="end" stroke="#1a1a1a" stroke-width="0.3">90</text>
<line x1="480.3" y1="151.1032" x2="480.3" y2="154.5" stroke="#14304e" stroke-width="1.0"/>
<line x1="478.6" y1="151.1032" x2="482.0" y2="151.1032" stroke="#14304e" stroke-width="1.0"/>
<path d="M476.8,154.5 L478.0,153.1 Q480.3,152.1 482.6,153.1 L483.8,154.5 Z" fill="#1d3a5c"/>
<line x1="493.9" y1="128.1748" x2="493.9" y2="133.27" stroke="#3a2f75" stroke-width="1.0"/>
<line x1="492.2" y1="128.1748" x2="495.59999999999997" y2="128.1748" stroke="#3a2f75" stroke-width="1.0"/>
<rect x="490.95" y="133.62" width="5.9" height="20.87999999999999" fill="#4b3d8f" stroke="#3a2f75" stroke-width="0.7"/>
<line x1="507.7" y1="115.4368" x2="507.7" y2="119.6828" stroke="#a83376" stroke-width="1.0"/>
<line x1="506.0" y1="115.4368" x2="509.4" y2="115.4368" stroke="#a83376" stroke-width="1.0"/>
<rect x="504.75" y="120.0328" width="5.9" height="34.4672" fill="#c9438e" stroke="#a83376" stroke-width="0.7"/>
<line x1="520.9" y1="132.56233333333333" x2="520.9" y2="136.38373333333334" stroke="#d94650" stroke-width="1.0"/>
<line x1="519.1999999999999" y1="132.56233333333333" x2="522.6" y2="132.56233333333333" stroke="#d94650" stroke-width="1.0"/>
<rect x="517.9499999999999" y="136.73373333333333" width="5.9" height="17.76626666666666" fill="#f45b66" stroke="#d94650" stroke-width="0.7"/>
<line x1="534.4" y1="119.96586666666667" x2="534.4" y2="123.64573333333334" stroke="#dc8a0c" stroke-width="1.0"/>
<line x1="532.6999999999999" y1="119.96586666666667" x2="536.1" y2="119.96586666666667" stroke="#dc8a0c" stroke-width="1.0"/>
<rect x="531.4499999999999" y="123.99573333333333" width="5.9" height="30.50426666666666" fill="#f9a11b" stroke="#dc8a0c" stroke-width="0.7"/>
<path d="M493.8,112.6 L493.8,106.8 L507.3,106.8 L507.3,112.6" fill="none" stroke="#474747" stroke-width="1.0"/>
<text x="500.65000000000003" y="107.69999999999999" font-size="11.5" font-weight="bold" fill="#222" text-anchor="middle" stroke="#222" stroke-width="0.25">*</text>
<path d="M520.5,112.8 L520.5,107.5 L534.4,107.5 L534.4,112.8" fill="none" stroke="#474747" stroke-width="1.0"/>
<text x="527.5500000000001" y="107.69999999999999" font-size="11.5" font-weight="bold" fill="#222" text-anchor="middle" stroke="#222" stroke-width="0.25">*</text>
<text x="427.6" y="90.55" font-size="7.8" font-weight="bold" fill="#1a1a1a" text-anchor="middle" textLength="80.2" lengthAdjust="spacingAndGlyphs" transform="rotate(-90 427.6 90.55)" stroke="#1a1a1a" stroke-width="0.25">%GFP positive cells/</text>
<text x="437.2" y="91.9" font-size="7.8" font-weight="bold" fill="#1a1a1a" text-anchor="middle" textLength="36" lengthAdjust="spacingAndGlyphs" transform="rotate(-90 437.2 91.9)" stroke="#1a1a1a" stroke-width="0.25">live cells</text>
<text x="484.5" y="163.9" font-size="8.8" font-weight="bold" fill="#1a1a1a" text-anchor="end" textLength="10.0" lengthAdjust="spacingAndGlyphs" transform="rotate(-45 484.5 163.9)" stroke="#1a1a1a" stroke-width="0.25">wt</text>
<text x="496.90000000000003" y="163.9" font-size="8.8" font-weight="bold" fill="#1a1a1a" text-anchor="end" textLength="48.0" lengthAdjust="spacingAndGlyphs" transform="rotate(-45 496.90000000000003 163.9)" stroke="#1a1a1a" stroke-width="0.25">transduction</text>
<text x="512.1" y="163.9" font-size="8.8" font-weight="bold" fill="#1a1a1a" text-anchor="end" textLength="93.2" lengthAdjust="spacingAndGlyphs" transform="rotate(-45 512.1 163.9)" stroke="#1a1a1a" stroke-width="0.25">transduction + polybrene</text>
<text x="525.9" y="163.9" font-size="8.8" font-weight="bold" fill="#1a1a1a" text-anchor="end" textLength="53.8" lengthAdjust="spacingAndGlyphs" transform="rotate(-45 525.9 163.9)" stroke="#1a1a1a" stroke-width="0.25">spinoculation</text>
<text x="538.4" y="163.9" font-size="8.8" font-weight="bold" fill="#1a1a1a" text-anchor="end" textLength="96.4" lengthAdjust="spacingAndGlyphs" transform="rotate(-45 538.4 163.9)" stroke="#1a1a1a" stroke-width="0.25">spinoculation + polybrene</text>
<text x="413.0" y="271.0" font-size="16.6" font-weight="normal" fill="#1a1a1a" textLength="11.4" lengthAdjust="spacingAndGlyphs">D</text>
<text x="486.4" y="279.5" font-size="14.5" font-weight="bold" fill="#1a1a1a" textLength="40.0" lengthAdjust="spacingAndGlyphs">THP-1</text>
<rect x="486.09999999999997" y="281.4" width="40.4" height="1.6" fill="#1a1a1a" stroke="none" stroke-width="1"/>
<line x1="467.4" y1="291.02" x2="467.4" y2="419.7" stroke="#2e3950" stroke-width="1.4"/>
<line x1="464.0" y1="419.0" x2="542.5" y2="419.0" stroke="#2e3950" stroke-width="1.4"/>
<line x1="463.0" y1="419.0" x2="467.4" y2="419.0" stroke="#2e3950" stroke-width="1.2"/>
<text x="460.3" y="421.1" font-size="8.4" font-weight="bold" fill="#1a1a1a" text-anchor="end" stroke="#1a1a1a" stroke-width="0.3">0</text>
<line x1="463.0" y1="397.77" x2="467.4" y2="397.77" stroke="#2e3950" stroke-width="1.2"/>
<text x="460.3" y="399.87" font-size="8.4" font-weight="bold" fill="#1a1a1a" text-anchor="end" stroke="#1a1a1a" stroke-width="0.3">15</text>
<line x1="463.0" y1="376.54" x2="467.4" y2="376.54" stroke="#2e3950" stroke-width="1.2"/>
<text x="460.3" y="378.64000000000004" font-size="8.4" font-weight="bold" fill="#1a1a1a" text-anchor="end" stroke="#1a1a1a" stroke-width="0.3">30</text>
<line x1="463.0" y1="355.31" x2="467.4" y2="355.31" stroke="#2e3950" stroke-width="1.2"/>
<text x="460.3" y="357.41" font-size="8.4" font-weight="bold" fill="#1a1a1a" text-anchor="end" stroke="#1a1a1a" stroke-width="0.3">45</text>
<line x1="463.0" y1="334.08" x2="467.4" y2="334.08" stroke="#2e3950" stroke-width="1.2"/>
<text x="460.3" y="336.18" font-size="8.4" font-weight="bold" fill="#1a1a1a" text-anchor="end" stroke="#1a1a1a" stroke-width="0.3">60</text>
<line x1="463.0" y1="312.85" x2="467.4" y2="312.85" stroke="#2e3950" stroke-width="1.2"/>
<text x="460.3" y="314.95000000000005" font-size="8.4" font-weight="bold" fill="#1a1a1a" text-anchor="end" stroke="#1a1a1a" stroke-width="0.3">75</text>
<line x1="463.0" y1="291.62" x2="467.4" y2="291.62" stroke="#2e3950" stroke-width="1.2"/>
<text x="460.3" y="293.72" font-size="8.4" font-weight="bold" fill="#1a1a1a" text-anchor="end" stroke="#1a1a1a" stroke-width="0.3">90</text>
<line x1="479.1" y1="416.73546666666664" x2="479.1" y2="419.0" stroke="#14304e" stroke-width="1.0"/>
<line x1="477.40000000000003" y1="416.73546666666664" x2="480.8" y2="416.73546666666664" stroke="#14304e" stroke-width="1.0"/>
<path d="M475.6,419.0 L476.8,417.6 Q479.1,416.6 481.40000000000003,417.6 L482.6,419.0 Z" fill="#1d3a5c"/>
<line x1="492.5" y1="346.818" x2="492.5" y2="352.19626666666665" stroke="#3a2f75" stroke-width="1.0"/>
<line x1="490.8" y1="346.818" x2="494.2" y2="346.818" stroke="#3a2f75" stroke-width="1.0"/>
<rect x="489.55" y="352.54626666666667" width="5.9" height="66.45373333333336" fill="#4b3d8f" stroke="#3a2f75" stroke-width="0.7"/>
<line x1="505.9" y1="333.7969333333333" x2="505.9" y2="339.03366666666665" stroke="#a83376" stroke-width="1.0"/>
<line x1="504.2" y1="333.7969333333333" x2="507.59999999999997" y2="333.7969333333333" stroke="#a83376" stroke-width="1.0"/>
<rect x="502.95" y="339.38366666666667" width="5.9" height="79.61633333333336" fill="#c9438e" stroke="#a83376" stroke-width="0.7"/>
<line x1="519.4" y1="351.06399999999996" x2="519.4" y2="356.5838" stroke="#d94650" stroke-width="1.0"/>
<line x1="517.6999999999999" y1="351.06399999999996" x2="521.1" y2="351.06399999999996" stroke="#d94650" stroke-width="1.0"/>
<rect x="516.4499999999999" y="356.9338" width="5.9" height="62.0662" fill="#f45b66" stroke="#d94650" stroke-width="0.7"/>
<line x1="532.8" y1="324.03113333333334" x2="532.8" y2="332.2400666666667" stroke="#dc8a0c" stroke-width="1.0"/>
<line x1="531.0999999999999" y1="324.03113333333334" x2="534.5" y2="324.03113333333334" stroke="#dc8a0c" stroke-width="1.0"/>
<rect x="529.8499999999999" y="332.5900666666667" width="5.9" height="86.40993333333333" fill="#f9a11b" stroke="#dc8a0c" stroke-width="0.7"/>
<path d="M491.6,330.6 L491.6,325.4 L506.6,325.4 L506.6,330.6" fill="none" stroke="#474747" stroke-width="1.0"/>
<text x="499.20000000000005" y="326.90000000000003" font-size="11.5" font-weight="bold" fill="#222" text-anchor="middle" stroke="#222" stroke-width="0.25">*</text>
<path d="M518.4,320.6 L518.4,314.8 L532.4,314.8 L532.4,320.6" fill="none" stroke="#474747" stroke-width="1.0"/>
<text x="525.5" y="316.0" font-size="11.5" font-weight="bold" fill="#222" text-anchor="middle" stroke="#222" stroke-width="0.25">*</text>
<text x="427.6" y="355.05" font-size="7.8" font-weight="bold" fill="#1a1a1a" text-anchor="middle" textLength="80.2" lengthAdjust="spacingAndGlyphs" transform="rotate(-90 427.6 355.05)" stroke="#1a1a1a" stroke-width="0.25">%GFP positive cells/</text>
<text x="437.2" y="356.4" font-size="7.8" font-weight="bold" fill="#1a1a1a" text-anchor="middle" textLength="36" lengthAdjust="spacingAndGlyphs" transform="rotate(-90 437.2 356.4)" stroke="#1a1a1a" stroke-width="0.25">live cells</text>
<text x="485.3" y="428.4" font-size="8.8" font-weight="bold" fill="#1a1a1a" text-anchor="end" textLength="10.0" lengthAdjust="spacingAndGlyphs" transform="rotate(-45 485.3 428.4)" stroke="#1a1a1a" stroke-width="0.25">wt</text>
<text x="497.70000000000005" y="428.4" font-size="8.8" font-weight="bold" fill="#1a1a1a" text-anchor="end" textLength="48.0" lengthAdjust="spacingAndGlyphs" transform="rotate(-45 497.70000000000005 428.4)" stroke="#1a1a1a" stroke-width="0.25">transduction</text>
<text x="512.9" y="428.4" font-size="8.8" font-weight="bold" fill="#1a1a1a" text-anchor="end" textLength="93.2" lengthAdjust="spacingAndGlyphs" transform="rotate(-45 512.9 428.4)" stroke="#1a1a1a" stroke-width="0.25">transduction + polybrene</text>
<text x="526.6999999999999" y="428.4" font-size="8.8" font-weight="bold" fill="#1a1a1a" text-anchor="end" textLength="53.8" lengthAdjust="spacingAndGlyphs" transform="rotate(-45 526.6999999999999 428.4)" stroke="#1a1a1a" stroke-width="0.25">spinoculation</text>
<text x="539.1999999999999" y="428.4" font-size="8.8" font-weight="bold" fill="#1a1a1a" text-anchor="end" textLength="96.4" lengthAdjust="spacingAndGlyphs" transform="rotate(-45 539.1999999999999 428.4)" stroke="#1a1a1a" stroke-width="0.25">spinoculation + polybrene</text></svg></body></html>
